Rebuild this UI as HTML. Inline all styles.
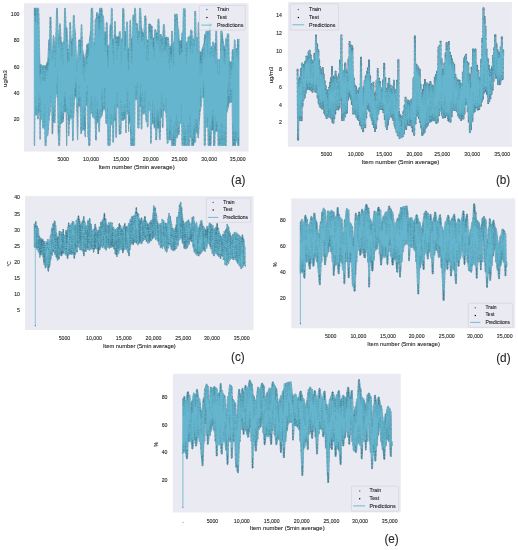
<!DOCTYPE html>
<html><head><meta charset="utf-8"><title>Figure</title>
<style>html,body{margin:0;padding:0;background:#fff}svg{display:block}text{font-family:"Liberation Sans",sans-serif;fill:#262626;stroke:#262626;stroke-width:0.1px}</style>
</head><body>
<svg width="518" height="550" viewBox="0 0 518 550">
<rect width="518" height="550" fill="#fff"/>
<rect x="24" y="3.2" width="224.6" height="148.4" fill="#EAEAF2"/>

<path d="M34.1,8.3 38.6,8.3 39.2,30.0 39.8,64.0 42.6,65.5 45.1,66.0 45.9,66.0 48.0,60.0 48.7,41.0 49.7,38.0 50.0,17.0 50.8,17.0 51.4,45.0 51.8,50.9 52.6,50.9 53.3,36.0 53.4,35.7 53.5,35.4 54.0,38.0 54.6,45.4 55.4,45.4 56.1,30.0 56.6,8.3 57.4,8.3 58.0,37.8 58.8,37.8 59.6,24.0 59.8,23.6 59.9,23.8 60.4,26.0 61.0,41.0 62.4,43.2 63.2,43.2 64.1,40.0 64.6,8.3 65.4,8.3 65.9,26.8 66.9,28.0 67.8,53.0 68.6,53.0 69.4,40.0 69.9,22.5 70.5,22.5 71.2,42.1 72.0,42.1 72.8,38.0 73.4,15.4 74.2,15.4 74.8,29.0 75.4,32.0 76.5,61.8 77.3,61.8 78.3,50.0 78.7,39.9 80.8,39.9 81.3,24.7 81.8,24.7 82.4,48.7 84.5,58.5 85.3,58.5 86.4,50.0 86.9,44.3 88.4,44.0 89.1,43.2 90.6,31.2 91.3,8.3 92.6,8.3 93.1,43.2 93.9,43.2 94.8,40.0 95.3,19.2 96.3,19.2 96.6,12.6 97.7,12.6 98.3,16.0 99.1,16.0 99.6,8.3 101.9,8.3 102.3,15.9 103.5,15.9 104.1,32.3 104.9,32.3 106.0,32.0 106.4,22.5 107.1,22.5 107.6,45.4 109.7,45.4 110.2,24.7 111.0,24.7 111.4,8.3 112.2,8.3 112.7,38.8 113.5,38.8 114.3,38.0 114.8,21.4 115.2,21.4 115.7,36.7 119.0,36.7 119.4,31.7 120.2,31.7 120.7,39.9 121.5,39.9 122.3,38.0 122.7,8.3 123.7,8.3 124.3,30.0 125.4,32.0 126.2,32.0 126.7,21.9 127.5,21.9 128.0,48.7 128.8,48.7 129.6,46.0 130.0,20.3 130.5,20.3 131.0,38.8 131.8,38.8 132.6,36.0 133.0,15.4 134.3,15.4 134.6,8.3 135.5,8.3 135.9,23.6 137.4,23.6 137.9,32.3 138.7,32.3 139.2,30.0 139.5,8.3 140.6,8.3 141.1,21.4 141.8,30.1 143.1,33.4 143.9,33.4 144.9,15.9 145.8,15.9 146.4,39.9 148.4,39.9 148.8,24.1 150.4,24.1 150.9,25.7 152.0,26.0 152.5,37.8 154.4,37.8 154.8,29.6 155.7,29.6 156.2,33.0 157.7,33.0 158.0,19.2 158.9,19.2 159.4,34.5 161.3,34.5 162.0,37.8 162.8,37.8 163.4,24.7 164.4,24.7 164.9,37.8 165.7,37.8 166.5,37.0 166.6,37.0 168.4,37.8 169.0,46.5 171.3,46.5 171.7,31.2 172.3,31.2 172.8,43.2 173.6,43.2 174.3,40.0 174.7,14.3 177.2,14.3 177.8,27.0 178.6,30.0 179.2,41.0 181.5,41.0 182.0,32.3 183.0,32.3 183.4,8.8 185.1,8.8 185.6,42.1 187.8,42.1 188.2,36.7 190.2,36.7 190.7,30.1 191.9,30.1 192.4,38.8 194.3,38.8 194.8,11.5 195.6,11.5 196.1,37.8 198.0,37.8 198.3,22.5 198.7,22.5 199.2,52.0 201.4,52.0 202.9,47.0 204.2,43.0 204.6,34.5 205.7,34.5 206.1,31.2 209.6,31.2 209.9,23.0 210.0,29.0 210.2,46.5 212.3,46.5 212.6,42.1 213.7,42.1 214.2,45.4 215.0,45.4 215.5,45.0 215.8,31.2 216.6,31.2 217.1,59.6 220.4,59.6 220.8,31.2 222.1,31.2 222.6,37.8 224.5,48.7 225.3,48.7 225.7,38.8 227.1,38.8 227.4,33.9 228.7,33.9 229.2,62.0 231.9,62.0 232.3,49.8 234.1,49.8 234.4,39.9 235.0,39.9 235.4,48.7 237.3,48.7 237.6,39.4 239.2,39.4" fill="none" stroke="#1b2a38" stroke-width="1.0" stroke-dasharray="0.6 0.7" stroke-linejoin="round" opacity="0.75"/>
<path d="M34.1,145.5 34.6,145.5 34.8,114.9 37.8,114.9 37.9,119.3 38.0,117.8 38.1,112.7 39.7,112.7 40.1,139.5 40.2,139.5 40.5,119.3 42.3,119.3 42.6,128.0 44.8,128.0 45.1,145.5 46.1,145.5 46.5,135.7 47.8,135.7 48.6,125.0 49.6,114.9 50.2,112.0 50.6,101.8 51.4,101.8 51.9,110.0 52.2,134.0 52.6,134.0 53.0,122.6 55.0,122.6 55.4,100.0 56.1,93.0 56.9,93.0 57.6,100.0 58.2,130.0 58.6,145.5 59.6,145.5 60.1,124.8 61.6,123.0 63.3,121.5 63.8,111.7 66.2,111.7 66.6,145.5 66.7,145.5 67.1,113.8 68.4,113.8 68.7,135.7 68.8,135.7 69.2,125.0 69.9,118.2 72.2,118.2 72.7,140.6 73.1,140.6 73.6,118.0 74.4,100.0 75.3,96.4 76.1,96.4 76.8,100.0 77.2,125.0 77.5,140.0 77.7,140.0 78.1,106.0 80.3,106.0 80.7,130.0 81.1,133.7 81.2,133.9 81.8,130.0 84.7,130.0 85.0,136.8 85.4,136.8 85.8,105.0 87.6,105.0 87.9,136.8 88.4,136.8 88.6,145.5 89.9,145.5 90.3,115.0 91.1,111.7 91.9,111.7 92.8,117.0 95.1,119.3 95.7,140.0 96.3,140.0 96.6,122.6 98.6,122.6 99.0,131.8 99.4,131.8 99.8,119.3 101.9,116.0 102.6,112.0 103.6,108.4 104.4,108.4 105.6,112.0 105.9,123.7 107.6,123.7 107.9,145.5 110.1,145.5 110.4,124.8 112.5,124.8 112.8,142.2 113.5,142.2 113.8,120.4 115.6,120.4 115.9,137.3 116.5,137.3 116.8,107.3 118.8,107.3 119.2,134.0 120.9,134.0 121.2,120.4 123.2,120.4 124.0,119.0 125.6,119.0 125.9,133.0 126.2,113.8 128.3,113.8 128.6,131.3 128.9,122.6 130.4,122.6 130.7,145.5 134.6,145.5 134.9,99.6 137.4,99.6 137.7,128.0 139.0,128.0 139.3,106.0 140.9,106.0 141.2,129.1 141.8,129.1 142.1,113.8 145.7,113.8 146.0,121.5 147.1,121.5 147.4,127.0 148.0,127.0 148.4,110.6 150.3,110.6 150.6,143.3 151.2,143.3 151.5,123.7 154.0,123.7 154.4,128.0 155.6,128.0 155.9,140.0 156.6,140.0 157.0,128.0 159.1,128.0 159.4,139.5 160.2,139.5 160.5,117.0 162.1,117.0 162.4,127.5 162.9,127.5 163.3,113.0 164.2,109.5 165.0,109.5 166.0,113.0 166.7,125.0 167.2,143.3 168.0,143.3 168.4,138.0 169.2,138.0 169.6,140.0 171.3,140.0 171.6,145.5 175.5,145.5 175.8,137.9 177.2,137.9 177.6,134.6 179.1,134.6 179.5,123.7 181.7,123.7 182.0,145.5 189.2,145.5 189.5,137.3 191.0,137.3 191.3,145.5 193.6,145.5 194.0,142.2 195.6,142.2 195.9,132.4 197.6,132.4 198.0,137.9 198.4,137.9 199.1,125.0 200.0,112.0 201.2,106.2 201.8,97.5 203.9,97.5 204.3,145.5 205.3,145.5 205.6,127.0 207.9,127.0 208.2,145.5 211.0,145.5 211.3,130.2 213.4,130.2 213.7,145.5 214.8,145.5 215.1,131.3 217.8,131.3 218.1,145.5 226.2,145.5 226.5,114.0 228.1,108.0 229.1,103.0 231.4,102.0 232.2,102.0 232.6,145.5 235.6,145.5 235.9,141.0 237.4,141.0 237.7,145.5 239.2,145.5" fill="none" stroke="#1b2a38" stroke-width="1.0" stroke-dasharray="0.6 0.7" stroke-linejoin="round" opacity="0.75"/>
<polygon points="34.1,8.3 38.6,8.3 39.2,30.0 39.8,64.0 42.6,65.5 45.1,66.0 45.9,66.0 48.0,60.0 48.7,41.0 49.7,38.0 50.0,17.0 50.8,17.0 51.4,45.0 51.8,50.9 52.6,50.9 53.3,36.0 53.4,35.7 53.5,35.4 54.0,38.0 54.6,45.4 55.4,45.4 56.1,30.0 56.6,8.3 57.4,8.3 58.0,37.8 58.8,37.8 59.6,24.0 59.8,23.6 59.9,23.8 60.4,26.0 61.0,41.0 62.4,43.2 63.2,43.2 64.1,40.0 64.6,8.3 65.4,8.3 65.9,26.8 66.9,28.0 67.8,53.0 68.6,53.0 69.4,40.0 69.9,22.5 70.5,22.5 71.2,42.1 72.0,42.1 72.8,38.0 73.4,15.4 74.2,15.4 74.8,29.0 75.4,32.0 76.5,61.8 77.3,61.8 78.3,50.0 78.7,39.9 80.8,39.9 81.3,24.7 81.8,24.7 82.4,48.7 84.5,58.5 85.3,58.5 86.4,50.0 86.9,44.3 88.4,44.0 89.1,43.2 90.6,31.2 91.3,8.3 92.6,8.3 93.1,43.2 93.9,43.2 94.8,40.0 95.3,19.2 96.3,19.2 96.6,12.6 97.7,12.6 98.3,16.0 99.1,16.0 99.6,8.3 101.9,8.3 102.3,15.9 103.5,15.9 104.1,32.3 104.9,32.3 106.0,32.0 106.4,22.5 107.1,22.5 107.6,45.4 109.7,45.4 110.2,24.7 111.0,24.7 111.4,8.3 112.2,8.3 112.7,38.8 113.5,38.8 114.3,38.0 114.8,21.4 115.2,21.4 115.7,36.7 119.0,36.7 119.4,31.7 120.2,31.7 120.7,39.9 121.5,39.9 122.3,38.0 122.7,8.3 123.7,8.3 124.3,30.0 125.4,32.0 126.2,32.0 126.7,21.9 127.5,21.9 128.0,48.7 128.8,48.7 129.6,46.0 130.0,20.3 130.5,20.3 131.0,38.8 131.8,38.8 132.6,36.0 133.0,15.4 134.3,15.4 134.6,8.3 135.5,8.3 135.9,23.6 137.4,23.6 137.9,32.3 138.7,32.3 139.2,30.0 139.5,8.3 140.6,8.3 141.1,21.4 141.8,30.1 143.1,33.4 143.9,33.4 144.9,15.9 145.8,15.9 146.4,39.9 148.4,39.9 148.8,24.1 150.4,24.1 150.9,25.7 152.0,26.0 152.5,37.8 154.4,37.8 154.8,29.6 155.7,29.6 156.2,33.0 157.7,33.0 158.0,19.2 158.9,19.2 159.4,34.5 161.3,34.5 162.0,37.8 162.8,37.8 163.4,24.7 164.4,24.7 164.9,37.8 165.7,37.8 166.5,37.0 166.6,37.0 168.4,37.8 169.0,46.5 171.3,46.5 171.7,31.2 172.3,31.2 172.8,43.2 173.6,43.2 174.3,40.0 174.7,14.3 177.2,14.3 177.8,27.0 178.6,30.0 179.2,41.0 181.5,41.0 182.0,32.3 183.0,32.3 183.4,8.8 185.1,8.8 185.6,42.1 187.8,42.1 188.2,36.7 190.2,36.7 190.7,30.1 191.9,30.1 192.4,38.8 194.3,38.8 194.8,11.5 195.6,11.5 196.1,37.8 198.0,37.8 198.3,22.5 198.7,22.5 199.2,52.0 201.4,52.0 202.9,47.0 204.2,43.0 204.6,34.5 205.7,34.5 206.1,31.2 209.6,31.2 209.9,23.0 210.0,29.0 210.2,46.5 212.3,46.5 212.6,42.1 213.7,42.1 214.2,45.4 215.0,45.4 215.5,45.0 215.8,31.2 216.6,31.2 217.1,59.6 220.4,59.6 220.8,31.2 222.1,31.2 222.6,37.8 224.5,48.7 225.3,48.7 225.7,38.8 227.1,38.8 227.4,33.9 228.7,33.9 229.2,62.0 231.9,62.0 232.3,49.8 234.1,49.8 234.4,39.9 235.0,39.9 235.4,48.7 237.3,48.7 237.6,39.4 239.2,39.4 239.2,145.5 237.7,145.5 237.4,141.0 235.9,141.0 235.6,145.5 232.6,145.5 232.2,102.0 231.4,102.0 229.1,103.0 228.1,108.0 226.5,114.0 226.2,145.5 218.1,145.5 217.8,131.3 215.1,131.3 214.8,145.5 213.7,145.5 213.4,130.2 211.3,130.2 211.0,145.5 208.2,145.5 207.9,127.0 205.6,127.0 205.3,145.5 204.3,145.5 203.9,97.5 201.8,97.5 201.2,106.2 200.0,112.0 199.1,125.0 198.4,137.9 198.0,137.9 197.6,132.4 195.9,132.4 195.6,142.2 194.0,142.2 193.6,145.5 191.3,145.5 191.0,137.3 189.5,137.3 189.2,145.5 182.0,145.5 181.7,123.7 179.5,123.7 179.1,134.6 177.6,134.6 177.2,137.9 175.8,137.9 175.5,145.5 171.6,145.5 171.3,140.0 169.6,140.0 169.2,138.0 168.4,138.0 168.0,143.3 167.2,143.3 166.7,125.0 166.0,113.0 165.0,109.5 164.2,109.5 163.3,113.0 162.9,127.5 162.4,127.5 162.1,117.0 160.5,117.0 160.2,139.5 159.4,139.5 159.1,128.0 157.0,128.0 156.6,140.0 155.9,140.0 155.6,128.0 154.4,128.0 154.0,123.7 151.5,123.7 151.2,143.3 150.6,143.3 150.3,110.6 148.4,110.6 148.0,127.0 147.4,127.0 147.1,121.5 146.0,121.5 145.7,113.8 142.1,113.8 141.8,129.1 141.2,129.1 140.9,106.0 139.3,106.0 139.0,128.0 137.7,128.0 137.4,99.6 134.9,99.6 134.6,145.5 130.7,145.5 130.4,122.6 128.9,122.6 128.6,131.3 128.3,113.8 126.2,113.8 125.9,133.0 125.6,119.0 124.0,119.0 123.2,120.4 121.2,120.4 120.9,134.0 119.2,134.0 118.8,107.3 116.8,107.3 116.5,137.3 115.9,137.3 115.6,120.4 113.8,120.4 113.5,142.2 112.8,142.2 112.5,124.8 110.4,124.8 110.1,145.5 107.9,145.5 107.6,123.7 105.9,123.7 105.6,112.0 104.4,108.4 103.6,108.4 102.6,112.0 101.9,116.0 99.8,119.3 99.4,131.8 99.0,131.8 98.6,122.6 96.6,122.6 96.3,140.0 95.7,140.0 95.1,119.3 92.8,117.0 91.9,111.7 91.1,111.7 90.3,115.0 89.9,145.5 88.6,145.5 88.4,136.8 87.9,136.8 87.6,105.0 85.8,105.0 85.4,136.8 85.0,136.8 84.7,130.0 81.8,130.0 81.2,133.9 81.1,133.7 80.7,130.0 80.3,106.0 78.1,106.0 77.7,140.0 77.5,140.0 77.2,125.0 76.8,100.0 76.1,96.4 75.3,96.4 74.4,100.0 73.6,118.0 73.1,140.6 72.7,140.6 72.2,118.2 69.9,118.2 69.2,125.0 68.8,135.7 68.7,135.7 68.4,113.8 67.1,113.8 66.7,145.5 66.6,145.5 66.2,111.7 63.8,111.7 63.3,121.5 61.6,123.0 60.1,124.8 59.6,145.5 58.6,145.5 58.2,130.0 57.6,100.0 56.9,93.0 56.1,93.0 55.4,100.0 55.0,122.6 53.0,122.6 52.6,134.0 52.2,134.0 51.9,110.0 51.4,101.8 50.6,101.8 50.2,112.0 49.6,114.9 48.6,125.0 47.8,135.7 46.5,135.7 46.1,145.5 45.1,145.5 44.8,128.0 42.6,128.0 42.3,119.3 40.5,119.3 40.2,139.5 40.1,139.5 39.7,112.7 38.1,112.7 38.0,117.8 37.9,119.3 37.8,114.9 34.8,114.9 34.6,145.5 34.1,145.5" fill="#64B5CD" stroke="#64B5CD" stroke-width="0.5" stroke-linejoin="round"/>
<path d="M34.6 8.6v7.9M34.2 144.4v-11.9M35.5 8.7v13.1M35.6 113.7v-16.9M36.0 114.1v-7.7M37.1 9.2v16.1M36.8 114.3v-6.2M37.8 9.9v13.6M37.9 118.1v-9.6M39.0 14.1v10.5M38.5 111.6v-19.4M39.5 54.1v21.6M39.6 111.0v-16.0M40.2 65.8v17.6M40.6 122.0v-23.9M41.1 65.1v8.2M41.1 118.4v-7.5M42.2 67.0v13.5M42.9 67.4v12.9M43.9 66.4v14.2M43.8 126.8v-13.0M44.8 67.3v14.8M44.9 126.2v-22.1M45.3 67.3v12.6M45.4 145.0v-6.3M46.3 64.8v6.9M47.0 63.9v11.9M48.0 59.0v11.5M48.4 130.5v-5.4M49.2 41.7v23.6M48.8 119.9v-12.0M50.1 32.7v20.4M50.7 17.8v9.3M50.5 101.1v-5.5M52.2 51.5v9.2M52.6 132.3v-16.9M53.4 39.7v17.6M53.0 121.0v-14.1M54.3 40.1v12.6M53.8 120.8v-7.4M55.2 46.8v20.7M54.7 122.4v-15.4M56.0 38.7v15.0M56.5 8.9v9.8M56.6 92.6v-9.9M57.5 12.6v13.7M57.5 97.3v-22.4M58.5 38.3v5.1M58.3 133.1v-18.8M59.0 32.5v15.6M59.2 143.9v-14.6M60.0 25.4v16.6M60.0 127.9v-13.6M61.1 37.9v21.7M61.1 123.5v-22.9M61.8 43.7v6.4M62.8 43.8v21.8M63.4 118.7v-13.2M64.2 30.7v15.5M64.3 111.4v-16.9M64.9 9.0v23.5M65.0 111.3v-19.8M66.2 28.1v7.8M65.7 110.3v-6.7M66.6 29.6v20.2M66.8 136.8v-21.4M67.5 49.2v15.0M67.5 113.0v-6.0M68.4 53.2v8.4M68.6 119.9v-5.3M69.3 41.9v20.6M70.3 116.9v-20.8M71.2 38.6v6.3M71.3 116.4v-6.6M71.7 43.1v13.7M72.2 117.0v-23.3M72.7 39.3v5.0M72.8 140.4v-8.8M73.5 16.0v5.4M73.8 116.6v-15.1M74.7 99.3v-11.2M75.5 33.3v5.8M75.5 95.9v-18.9M76.7 62.2v9.4M77.2 111.3v-7.0M78.0 56.9v5.1M77.9 126.9v-15.2M78.6 41.4v6.4M79.0 104.9v-19.1M79.6 40.2v16.7M79.7 105.3v-9.8M80.5 41.3v17.8M80.4 111.0v-14.8M81.9 128.1v-10.1M82.7 52.9v23.1M83.1 129.4v-21.9M83.5 56.3v5.5M83.6 129.2v-10.7M84.4 60.4v20.9M84.5 129.1v-22.1M85.4 57.2v13.1M85.4 127.0v-20.9M86.6 52.2v12.1M86.9 45.8v18.7M87.3 104.3v-19.3M87.9 45.6v11.5M88.7 43.9v12.5M88.9 144.9v-22.2M89.6 145.1v-7.7M90.8 32.7v15.8M90.6 112.9v-12.9M91.5 109.9v-14.6M92.6 10.0v13.5M92.9 116.4v-16.2M94.6 39.1v7.1M95.0 117.7v-22.9M95.4 20.8v15.5M95.8 139.3v-22.5M96.3 14.8v7.1M96.4 124.2v-12.4M97.4 122.0v-21.8M98.2 17.1v5.4M98.4 120.7v-9.9M98.9 17.6v18.0M98.9 129.9v-14.6M99.8 10.2v19.4M99.8 118.1v-8.6M101.1 8.8v9.0M100.7 115.9v-6.1M101.9 9.1v24.0M101.8 116.1v-22.8M102.2 16.6v8.2M102.3 110.6v-23.2M103.3 108.4v-5.9M104.4 32.6v11.9M104.4 108.1v-20.4M105.3 33.1v19.2M105.1 109.7v-23.2M105.6 33.6v10.2M107.0 24.4v14.0M106.7 122.6v-9.8M107.7 47.1v20.2M107.5 122.9v-16.5M108.3 45.7v19.3M108.3 143.5v-15.5M109.1 144.4v-6.6M110.1 28.1v9.4M110.4 140.7v-19.2M111.1 25.3v12.1M110.8 123.0v-9.7M112.0 123.4v-9.4M112.9 40.5v14.0M113.6 40.6v23.5M113.5 137.9v-21.5M114.5 119.8v-16.3M115.3 23.5v16.4M115.4 119.9v-11.2M115.9 37.6v6.2M115.9 136.8v-17.1M116.8 37.9v23.1M117.2 105.3v-12.9M118.0 37.7v5.1M118.7 38.1v5.3M119.4 32.8v7.8M120.6 132.0v-7.4M121.3 41.6v22.2M121.0 119.5v-19.9M122.0 119.3v-9.1M122.6 9.5v22.0M123.1 120.0v-5.7M123.8 11.1v13.0M123.7 119.2v-13.5M124.6 31.1v19.8M124.4 118.0v-7.0M125.2 33.5v17.1M125.2 117.9v-14.7M127.1 111.9v-23.7M128.3 49.0v20.0M127.8 112.0v-19.4M128.7 49.2v22.5M128.6 123.5v-11.1M129.5 121.4v-19.9M130.8 22.5v16.0M131.4 39.6v23.8M131.2 144.0v-13.4M132.3 38.6v23.7M132.0 145.0v-5.0M133.2 145.3v-9.3M134.0 16.7v9.3M133.9 145.1v-16.9M134.6 9.6v7.8M135.4 15.4v10.0M135.7 98.6v-11.7M136.7 23.9v9.7M136.3 99.3v-12.7M137.6 24.1v15.5M137.4 98.2v-16.6M138.1 32.6v10.9M139.3 32.2v5.1M139.0 123.7v-19.1M140.0 10.0v19.2M139.9 105.0v-10.1M140.8 14.2v10.0M140.5 105.3v-21.7M141.8 28.4v11.2M141.7 127.7v-22.2M142.4 112.3v-21.3M143.5 33.9v6.5M143.6 113.0v-7.0M144.3 30.6v17.0M144.1 112.1v-16.2M145.2 111.9v-21.5M146.0 19.2v21.1M146.5 40.7v19.4M146.6 120.8v-5.4M147.8 41.0v11.1M148.3 41.4v19.7M148.6 110.2v-9.1M149.1 25.7v5.0M150.1 24.9v8.5M150.9 26.1v18.3M151.1 141.8v-6.5M151.7 26.9v11.8M152.9 38.9v10.0M152.5 122.7v-21.8M153.4 38.3v11.6M154.4 38.2v19.7M154.2 126.9v-21.8M155.0 30.4v8.0M155.1 127.5v-8.1M156.3 32.4v6.9M156.2 138.5v-23.7M156.8 33.3v8.9M157.0 129.9v-20.0M157.9 32.5v12.7M157.9 127.0v-15.9M158.8 20.6v18.3M158.5 126.7v-13.6M159.3 35.5v17.0M159.4 138.1v-16.8M160.5 35.4v17.4M160.0 130.8v-23.5M161.2 35.7v6.9M161.2 115.3v-14.7M161.9 39.4v18.0M161.9 116.7v-23.7M163.0 37.5v13.0M163.0 125.6v-9.3M163.5 26.3v9.0M164.5 30.0v23.3M165.4 38.2v10.6M166.2 37.8v9.8M166.1 116.6v-18.7M167.0 39.1v17.5M168.1 38.9v7.7M168.2 141.9v-5.2M168.7 44.1v19.7M169.7 48.1v21.9M169.8 138.3v-22.0M170.7 47.7v13.3M170.3 138.9v-9.4M171.4 46.3v14.5M171.3 139.7v-21.0M171.9 32.5v23.3M172.3 144.1v-5.5M173.1 44.3v23.7M173.8 42.9v21.4M173.7 144.5v-19.6M174.7 15.4v20.7M175.0 144.1v-14.6M175.5 15.6v11.0M175.3 141.5v-19.9M176.3 14.5v5.9M176.5 136.5v-22.5M177.4 135.6v-16.7M178.3 28.7v13.7M178.3 132.8v-5.7M178.9 38.1v15.7M179.0 133.2v-11.1M179.6 41.4v15.8M180.8 42.9v12.4M181.3 40.4v9.0M181.3 121.8v-18.0M182.2 33.8v18.7M182.6 144.0v-6.0M183.3 19.1v6.6M183.1 143.6v-22.7M184.2 10.5v5.3M184.2 145.0v-10.9M184.9 10.0v6.1M184.7 143.9v-17.9M186.0 44.0v12.3M185.7 145.2v-15.8M186.5 43.4v20.7M187.5 43.9v10.9M187.6 143.7v-18.0M188.2 37.7v5.0M188.6 145.2v-20.5M190.0 136.9v-22.4M190.7 31.4v22.7M190.7 136.6v-13.8M191.5 31.8v13.7M191.8 143.7v-9.4M192.7 39.3v14.1M192.7 144.6v-8.4M193.7 39.7v5.8M193.6 145.0v-17.0M194.6 40.6v5.6M194.2 140.6v-15.8M195.7 33.7v6.6M196.8 38.2v16.4M197.7 133.3v-12.5M198.4 134.3v-5.7M200.0 52.5v23.7M200.4 110.1v-22.8M200.9 53.1v9.9M200.9 105.3v-9.5M201.8 52.0v22.6M202.6 49.2v13.5M203.4 96.9v-16.9M204.4 37.6v21.5M204.7 144.7v-10.2M205.1 140.6v-23.6M206.0 32.1v9.9M207.3 126.7v-10.5M207.6 32.9v23.6M207.6 125.3v-7.7M208.5 145.0v-15.9M209.3 31.6v8.7M209.5 144.9v-14.4M210.2 48.0v8.8M210.2 143.8v-18.7M211.5 47.6v5.3M212.1 47.8v8.1M212.1 129.1v-14.9M212.9 128.6v-18.5M213.9 44.3v14.8M213.7 145.0v-23.4M214.8 46.0v6.8M214.7 144.4v-16.4M215.7 43.0v21.5M215.6 130.6v-14.4M216.2 32.4v21.4M216.6 129.4v-8.1M217.5 61.2v12.5M217.2 130.3v-9.6M219.2 143.6v-14.8M219.5 60.6v15.1M219.6 143.6v-5.4M220.9 143.7v-20.4M221.5 33.1v10.2M221.5 144.5v-9.8M222.4 34.9v10.8M222.4 144.8v-23.2M223.1 42.2v7.5M223.0 144.3v-9.6M224.1 46.7v15.8M224.1 144.2v-13.8M224.8 50.0v14.7M225.1 144.9v-11.7M225.5 145.2v-19.7M226.5 39.8v6.2M226.4 111.7v-7.1M227.4 35.3v11.4M227.6 109.3v-21.1M228.3 35.5v19.4M228.1 105.2v-22.4M229.2 60.1v23.3M229.2 102.1v-21.6M230.0 62.9v12.4M230.2 101.5v-20.0M230.9 62.4v15.9M231.9 101.8v-13.1M232.8 138.9v-15.2M233.3 51.7v16.3M233.2 144.6v-15.0M235.3 145.0v-15.1M236.2 50.1v7.1M236.7 139.9v-8.0M237.6 41.4v16.5M237.6 143.1v-5.8M238.6 40.8v21.0M238.5 144.8v-14.5" stroke="#173345" stroke-width="0.55" stroke-dasharray="1.1 0.9 0.6 1.3 1.7 0.8" opacity="0.25" fill="none"/>
<path d="M34.5 8.5v6.9M35.4 8.5v13.7M37.1 8.5v6.8M38.8 112.5v-9.9M40.5 64.5v9.9M43.0 65.8v3.7M45.6 66.2v2.2M46.4 64.8v3.4M47.3 62.3v7.5M48.1 57.5v8.3M49.0 40.4v11.2M50.7 17.2v13.5M52.4 133.8v-9.7M53.2 122.4v-11.5M57.5 11.0v1.7M58.3 133.7v-8.4M60.9 37.4v7.0M61.7 122.7v-10.5M62.6 122.0v-7.6M63.4 119.3v-5.5M65.1 111.5v-12.9M66.0 111.5v-2.4M66.8 28.1v13.1M67.7 49.0v11.0M68.5 120.9v-7.4M69.4 123.3v-7.8M70.2 22.7v5.8M71.1 38.1v5.0M71.9 42.3v13.6M72.8 38.5v2.6M75.3 96.2v-7.8M76.2 96.5v-12.7M77.0 112.3v-9.3M78.7 105.8v-7.5M79.6 40.1v1.7M80.4 40.1v12.7M81.3 133.4v-7.2M82.1 36.9v8.8M83.8 55.4v12.0M84.7 129.8v-14.0M85.5 128.7v-4.8M86.4 104.8v-12.9M87.2 44.4v13.1M88.1 44.3v9.7M89.8 38.2v2.6M90.6 31.4v2.3M91.5 8.5v4.9M92.3 113.9v-1.9M95.7 139.8v-4.6M96.6 13.9v5.3M97.4 122.4v-13.5M98.3 15.9v1.9M99.1 16.2v11.8M100.0 8.5v13.4M101.7 8.5v6.2M102.5 112.4v-6.0M104.2 108.2v-2.3M105.9 32.2v13.3M107.6 45.6v11.3M110.2 27.0v12.0M111.0 24.9v5.6M112.7 39.0v5.2M114.4 34.9v3.3M115.3 120.2v-4.0M116.1 36.9v6.6M117.0 107.1v-4.0M117.8 36.9v12.5M118.7 36.9v9.3M119.5 133.8v-7.6M120.4 133.8v-2.2M122.1 38.8v3.0M122.9 120.2v-8.4M123.8 10.3v7.6M124.6 118.8v-7.0M125.5 32.2v13.4M128.0 48.9v11.7M128.9 123.9v-13.2M129.7 122.4v-6.0M130.6 133.8v-6.4M131.4 39.0v11.7M132.3 145.3v-6.9M133.1 15.6v5.9M139.1 30.9v4.4M140.8 105.8v-10.8M141.6 27.8v13.7M142.5 31.9v5.3M143.3 33.6v1.9M145.0 16.1v4.1M145.9 18.1v5.1M147.6 40.1v1.9M149.3 24.3v7.6M150.1 24.3v13.3M151.8 26.1v12.6M152.7 123.5v-10.9M153.5 38.0v10.8M154.4 127.3v-10.3M156.1 139.8v-4.0M156.9 33.2v7.3M157.8 127.8v-10.5M158.6 127.8v-6.7M160.3 131.8v-11.3M161.2 116.8v-6.6M162.0 38.0v6.5M162.9 127.3v-4.2M163.7 111.2v-7.4M165.4 38.0v12.1M166.3 37.4v7.5M167.1 139.4v-11.8M168.0 37.8v2.8M169.7 139.8v-10.2M170.5 46.7v7.3M171.4 44.8v12.0M173.1 145.3v-10.5M173.9 145.3v-8.4M177.3 16.6v10.0M178.2 134.4v-6.1M179.9 41.2v13.0M180.7 41.2v6.7M181.6 40.3v12.4M185.0 145.3v-9.6M189.2 145.3v-4.9M190.1 36.9v11.5M192.6 145.3v-6.5M193.5 145.3v-5.8M194.3 142.0v-13.3M195.2 11.7v2.0M196.0 132.2v-13.3M196.9 132.2v-8.6M199.4 120.5v-11.3M200.3 52.2v11.0M201.1 52.2v10.5M202.8 47.5v7.2M203.7 97.3v-10.4M204.5 36.8v7.6M205.4 34.7v4.1M207.9 31.4v3.8M209.6 145.3v-10.3M210.5 145.3v-12.0M211.3 130.0v-3.8M212.2 130.0v-10.4M213.0 130.0v-12.4M213.9 145.3v-4.6M215.6 42.9v6.6M216.4 131.1v-6.8M219.0 145.3v-6.8M220.7 42.1v9.5M222.4 34.7v8.2M224.1 46.3v5.4M224.9 48.9v7.6M228.3 106.8v-11.1M229.2 102.8v-7.2M230.0 62.2v3.8M230.9 102.0v-12.0M231.7 62.2v8.6M232.6 50.0v10.1M233.4 145.3v-8.5M234.3 145.3v-7.0M235.1 145.3v-13.7M236.8 48.9v3.9M237.7 39.6v10.1M238.5 145.3v-8.1" stroke="#1f3a47" stroke-width="0.55" stroke-dasharray="0.7 0.7" opacity="0.6" fill="none"/>

<text x="63.2" y="161.2" font-size="5.2" text-anchor="middle">5000</text>
<text x="91.0" y="161.2" font-size="5.2" text-anchor="middle">10,000</text>
<text x="121.1" y="161.2" font-size="5.2" text-anchor="middle">15,000</text>
<text x="150.8" y="161.2" font-size="5.2" text-anchor="middle">20,000</text>
<text x="179.5" y="161.2" font-size="5.2" text-anchor="middle">25,000</text>
<text x="209.2" y="161.2" font-size="5.2" text-anchor="middle">30,000</text>
<text x="237.7" y="161.2" font-size="5.2" text-anchor="middle">35,000</text>
<text x="19.5" y="121.2" font-size="5.2" text-anchor="end">20</text>
<text x="19.5" y="94.8" font-size="5.2" text-anchor="end">40</text>
<text x="19.5" y="68.5" font-size="5.2" text-anchor="end">60</text>
<text x="19.5" y="42.2" font-size="5.2" text-anchor="end">80</text>
<text x="19.5" y="15.9" font-size="5.2" text-anchor="end">100</text>
<text x="6.9" y="78.6" font-size="6.0" text-anchor="middle" transform="rotate(-90 6.9 78.6)">ug/m3</text>
<text x="136.6" y="168.7" font-size="6.05" text-anchor="middle">Item number (5min average)</text>
<text transform="translate(245.5 184.2) scale(1 1.08)" font-size="11.8" text-anchor="end">(a)</text>
<rect x="199.4" y="5.4" width="45.8" height="24.7" rx="1.2" fill="#EAEAF2" fill-opacity="0.8" stroke="#cfcfd6" stroke-width="0.6"/><circle cx="206.9" cy="9.4" r="0.75" fill="#4C72B0"/><circle cx="206.9" cy="17.6" r="0.75" fill="#111"/><line x1="201.3" x2="212" y1="25.1" y2="25.1" stroke="#64B5CD" stroke-width="0.9"/><text x="217" y="11" font-size="5.35">Train</text><text x="217" y="18.8" font-size="5.35">Test</text><text x="217" y="27" font-size="5.35">Predictions</text>
<rect x="287.9" y="2" width="224.0" height="144.8" fill="#EAEAF2"/>

<path d="M297.5,69.0 298.1,140.4 298.8,80.0 299.3,120.8 299.9,77.6 300.4,119.7 300.9,69.3 301.5,120.9 302.0,62.6 302.5,106.7 303.0,63.9 303.5,99.8 304.0,65.0 304.6,97.6 305.2,61.3 305.8,93.6 306.4,56.0 306.9,89.0 307.5,55.8 308.0,89.6 308.5,52.5 309.1,89.2 309.6,50.7 310.2,87.8 310.7,55.6 311.2,90.9 311.8,60.4 312.5,91.7 313.1,60.7 313.8,90.0 314.4,54.0 315.2,91.6 316.0,35.6 316.6,91.6 317.1,44.6 317.7,98.5 318.3,49.6 318.7,102.7 319.1,59.5 319.6,106.6 320.0,67.0 320.6,107.2 321.3,68.8 322.0,108.5 322.6,68.0 323.1,107.5 323.7,74.5 324.2,112.4 324.7,81.3 325.3,115.6 325.8,86.4 326.4,117.7 326.9,90.2 327.4,117.4 328.0,93.0 328.5,114.6 329.0,88.0 329.5,116.6 330.0,82.0 330.5,116.8 331.0,77.4 331.5,119.1 332.0,67.0 332.4,121.8 332.9,75.6 333.4,122.8 333.8,82.0 334.2,119.1 334.7,76.7 335.2,114.3 335.6,71.0 336.1,109.3 336.6,77.0 337.2,108.1 337.7,82.0 338.3,109.4 338.9,74.3 339.4,108.4 340.0,60.4 340.7,101.1 341.4,35.6 342.2,120.0 343.0,71.0 343.6,120.6 344.1,70.1 344.7,117.2 345.3,62.6 345.9,114.0 346.4,69.4 346.9,112.6 347.5,75.6 348.0,99.8 348.6,59.6 349.1,91.9 349.6,42.0 350.1,97.5 350.5,47.5 351.0,99.2 351.5,45.0 351.9,104.1 352.4,46.4 353.2,113.4 354.0,77.7 354.5,113.7 355.1,84.9 355.6,114.9 356.1,87.2 356.7,117.8 357.2,90.7 357.8,119.7 358.3,94.2 358.8,120.0 359.4,88.5 360.2,124.8 361.0,57.0 361.8,128.7 362.6,88.5 363.1,131.8 363.7,86.3 364.2,126.1 364.7,80.7 365.3,127.2 365.8,75.6 366.3,118.2 366.9,72.0 367.4,109.2 367.9,67.6 368.5,109.6 369.0,60.4 369.6,111.8 370.1,75.5 370.6,117.4 371.2,84.0 371.8,120.6 372.3,84.1 372.8,124.0 373.4,82.0 373.9,127.0 374.5,99.0 375.0,130.9 375.6,93.1 376.1,128.0 376.6,80.3 377.2,120.3 377.7,69.0 378.3,113.5 378.9,77.9 379.4,110.0 380.0,82.0 380.5,108.6 381.0,88.2 381.5,108.9 382.0,88.5 382.6,110.1 383.1,79.6 383.6,112.9 384.2,63.7 384.8,119.3 385.3,77.9 385.8,126.9 386.4,90.7 386.9,129.1 387.3,88.4 387.8,124.8 388.3,83.1 388.7,119.8 389.2,78.8 389.9,116.4 390.5,84.8 391.1,115.4 391.8,88.5 392.4,117.7 392.9,85.8 393.4,120.0 394.0,80.0 394.5,124.8 395.0,89.9 395.5,128.6 396.0,93.0 396.6,132.7 397.2,79.8 397.8,135.9 398.4,59.4 398.7,134.9 399.0,112.0 399.6,138.7 400.1,114.3 400.6,136.7 401.2,119.6 401.8,137.7 402.3,116.6 402.9,136.1 403.4,110.6 404.0,134.2 404.5,104.6 405.1,129.5 405.6,97.0 406.1,128.9 406.7,102.3 407.2,125.7 407.7,100.5 408.3,123.7 408.8,101.5 409.3,125.0 409.9,101.0 410.4,123.3 410.9,100.6 411.5,126.6 412.0,99.4 412.8,132.2 413.6,77.7 414.2,134.7 414.9,35.6 415.6,124.1 416.4,64.8 416.9,116.4 417.5,66.5 418.0,115.5 418.5,68.2 419.1,119.0 419.6,69.0 420.2,123.1 420.7,83.9 421.2,128.3 421.8,93.0 422.3,135.1 422.9,89.7 423.4,134.3 423.9,84.5 424.5,132.6 425.0,80.0 425.6,128.6 426.1,83.7 426.6,126.5 427.2,83.4 427.8,125.6 428.3,84.0 428.8,122.2 429.4,86.8 429.9,122.4 430.4,82.0 430.9,121.2 431.5,84.4 432.1,121.1 432.6,86.4 433.2,120.5 433.7,85.4 434.2,120.9 434.8,77.7 435.4,121.3 435.9,75.1 436.4,122.9 437.0,71.0 437.8,122.6 438.6,47.5 439.1,114.9 439.6,46.0 440.1,111.4 440.6,41.0 441.0,110.3 441.5,58.4 441.9,115.5 442.3,71.0 442.9,118.3 443.4,68.9 443.9,116.7 444.5,62.6 445.0,117.3 445.6,53.4 446.1,114.5 446.6,43.0 447.2,115.8 447.7,44.9 448.2,119.9 448.8,42.0 449.4,121.3 449.9,52.0 450.4,122.5 451.0,56.0 451.5,117.0 452.1,59.5 452.6,110.7 453.1,62.1 453.7,109.2 454.2,64.8 454.8,109.9 455.3,74.1 455.8,109.7 456.4,77.7 456.9,112.0 457.5,81.5 458.0,115.8 458.5,79.7 459.1,117.7 459.6,80.0 460.2,119.0 460.7,82.7 461.2,120.0 461.8,84.0 462.4,117.2 462.9,72.5 463.4,118.4 464.0,58.0 464.5,113.3 465.0,56.4 465.5,104.9 466.0,54.0 466.6,104.6 467.1,61.9 467.7,111.9 468.3,62.6 468.8,122.5 469.4,73.6 469.9,132.7 470.4,82.0 471.0,130.1 471.7,67.0 472.4,121.7 473.0,48.5 473.6,113.2 474.2,49.9 474.8,110.9 475.4,49.6 476.2,108.2 477.0,64.8 477.7,110.3 478.4,71.0 479.2,108.9 480.0,77.7 480.6,106.5 481.1,60.1 481.7,101.5 482.3,38.8 482.9,99.4 483.5,7.5 484.0,93.4 484.6,17.1 485.1,89.4 485.6,26.0 486.1,91.4 486.6,49.6 487.2,94.8 487.7,58.4 488.2,102.9 488.8,64.8 489.4,100.8 489.9,69.7 490.4,99.1 491.0,73.4 491.5,93.7 492.0,67.3 492.5,90.1 493.0,56.0 493.6,80.7 494.1,48.3 494.7,73.1 495.3,34.5 495.9,77.7 496.4,43.4 496.9,78.6 497.5,49.6 498.0,83.9 498.6,52.9 499.1,84.8 499.6,54.0 500.2,83.8 500.7,46.7 501.2,80.6 501.8,36.6 502.6,78.9 503.3,49.6" fill="none" stroke="#1b2a38" stroke-width="2.0" stroke-dasharray="0.6 0.7" stroke-linejoin="round" opacity="0.8"/>
<polygon points="297.5,79.9 298.0,81.1 298.5,83.7 299.0,84.4 299.5,82.0 300.0,79.7 300.5,77.2 301.0,74.5 301.5,72.4 302.0,70.7 302.5,69.4 303.0,68.7 303.5,69.0 304.0,69.3 304.5,67.5 305.0,65.7 305.5,63.9 306.0,62.2 306.5,60.8 307.0,59.8 307.5,58.9 308.0,58.1 308.5,57.4 309.0,57.1 309.5,57.3 310.0,58.1 310.5,59.4 311.0,61.3 311.5,63.3 312.0,64.1 312.5,63.1 313.0,62.0 313.5,60.9 314.0,59.8 314.5,57.9 315.0,52.9 315.5,49.3 316.0,47.4 316.5,47.2 317.0,48.6 317.5,51.6 318.0,55.0 318.5,58.8 319.0,62.9 319.5,67.5 320.0,72.1 320.5,72.5 321.0,72.8 321.5,73.0 322.0,73.6 322.5,74.6 323.0,76.1 323.5,78.0 324.0,80.6 324.5,83.2 325.0,85.9 325.5,88.6 326.0,90.8 326.5,92.2 327.0,93.6 327.5,95.0 328.0,96.3 328.5,93.8 329.0,91.4 329.5,88.9 330.0,86.5 330.5,83.4 331.0,80.2 331.5,78.5 332.0,78.1 332.5,79.0 333.0,81.3 333.5,84.8 334.0,85.7 334.5,82.8 335.0,80.5 335.5,79.2 336.0,79.3 336.5,80.4 337.0,82.4 337.5,84.7 338.0,83.2 338.5,78.9 339.0,74.6 339.5,70.3 340.0,65.8 340.5,57.6 341.0,54.3 341.5,55.1 342.0,59.3 342.5,66.8 343.0,76.9 343.5,75.6 344.0,74.1 344.5,72.8 345.0,72.3 345.5,72.5 346.0,73.4 346.5,75.1 347.0,77.1 347.5,79.1 348.0,71.5 348.5,63.9 349.0,58.4 349.5,54.3 350.0,51.8 350.5,50.8 351.0,51.4 351.5,52.5 352.0,55.4 352.5,59.9 353.0,65.9 353.5,73.5 354.0,82.3 354.5,84.3 355.0,86.2 355.5,88.0 356.0,89.9 356.5,91.8 357.0,93.6 357.5,94.1 358.0,93.8 358.5,93.4 359.0,93.1 359.5,91.1 360.0,82.6 360.5,77.6 361.0,76.2 361.5,78.1 362.0,83.5 362.5,92.2 363.0,92.5 363.5,90.7 364.0,88.8 364.5,86.8 365.0,84.8 365.5,82.6 366.0,80.3 366.5,77.7 367.0,75.1 367.5,73.1 368.0,71.2 368.5,70.6 369.0,71.3 369.5,73.3 370.0,76.8 370.5,81.7 371.0,86.6 371.5,88.4 372.0,88.3 372.5,88.4 373.0,89.9 373.5,92.8 374.0,96.0 374.5,102.9 375.0,98.9 375.5,94.7 376.0,90.4 376.5,86.0 377.0,82.2 377.5,79.6 378.0,78.7 378.5,79.2 379.0,81.0 379.5,83.3 380.0,85.6 380.5,86.9 381.0,88.2 381.5,89.8 382.0,91.3 382.5,86.5 383.0,81.8 383.5,78.2 384.0,76.7 384.5,77.4 385.0,80.3 385.5,85.2 386.0,90.8 386.5,94.9 387.0,93.1 387.5,91.1 388.0,89.0 388.5,87.2 389.0,86.1 389.5,85.7 390.0,86.4 390.5,87.8 391.0,89.5 391.5,91.2 392.0,91.6 392.5,90.0 393.0,88.5 393.5,87.9 394.0,88.2 394.5,89.5 395.0,91.7 395.5,94.7 396.0,97.7 396.5,91.9 397.0,86.0 397.5,81.9 398.0,86.5 398.5,92.5 399.0,115.3 399.5,116.0 400.0,116.7 400.5,117.4 401.0,118.0 401.5,118.5 402.0,119.0 402.5,118.2 403.0,115.5 403.5,112.7 404.0,110.0 404.5,107.2 405.0,105.0 405.5,103.4 406.0,102.5 406.5,102.2 407.0,102.5 407.5,103.0 408.0,103.6 408.5,104.3 409.0,104.6 409.5,104.3 410.0,104.1 410.5,103.9 411.0,103.6 411.5,103.6 412.0,103.5 412.5,97.8 413.0,92.0 413.5,86.0 414.0,73.4 414.5,65.0 415.0,60.7 415.5,60.2 416.0,64.9 416.5,71.4 417.0,72.1 417.5,72.8 418.0,73.5 418.5,74.2 419.0,75.6 419.5,77.8 420.0,81.0 420.5,85.0 421.0,89.9 421.5,94.9 422.0,97.3 422.5,95.7 423.0,94.1 423.5,92.3 424.0,90.4 424.5,88.9 425.0,87.9 425.5,87.3 426.0,87.2 426.5,87.7 427.0,88.1 427.5,88.6 428.0,89.0 428.5,89.1 429.0,88.6 429.5,88.1 430.0,88.0 430.5,88.1 431.0,88.4 431.5,89.1 432.0,89.9 432.5,90.7 433.0,89.5 433.5,87.9 434.0,86.2 434.5,84.6 435.0,83.1 435.5,81.7 436.0,80.4 436.5,79.0 437.0,77.6 437.5,71.0 438.0,65.2 438.5,60.3 439.0,56.5 439.5,53.6 440.0,53.1 440.5,55.1 441.0,59.0 441.5,64.3 442.0,72.1 442.5,76.2 443.0,74.7 443.5,73.1 444.0,71.4 444.5,69.7 445.0,65.6 445.5,61.4 446.0,57.9 446.5,55.1 447.0,53.3 447.5,52.4 448.0,52.4 448.5,53.2 449.0,54.6 449.5,56.5 450.0,58.9 450.5,61.5 451.0,64.1 451.5,64.9 452.0,65.8 452.5,66.7 453.0,67.5 453.5,69.0 454.0,70.7 454.5,72.7 455.0,74.9 455.5,77.4 456.0,80.1 456.5,82.2 457.0,82.7 457.5,83.2 458.0,83.6 458.5,84.1 459.0,84.6 459.5,85.2 460.0,85.8 460.5,86.6 461.0,87.4 461.5,88.2 462.0,86.7 462.5,81.4 463.0,76.1 463.5,71.6 464.0,67.8 464.5,64.7 465.0,62.5 465.5,61.7 466.0,61.4 466.5,62.5 467.0,64.0 467.5,66.3 468.0,69.0 468.5,72.2 469.0,76.1 469.5,80.3 470.0,84.6 470.5,86.8 471.0,81.1 471.5,75.1 472.0,68.9 472.5,64.0 473.0,60.5 473.5,58.2 474.0,57.1 474.5,57.3 475.0,58.3 475.5,60.1 476.0,62.8 476.5,66.4 477.0,70.6 477.5,72.5 478.0,74.5 478.5,76.4 479.0,78.2 479.5,79.9 480.0,81.6 480.5,74.0 481.0,66.4 481.5,58.8 482.0,51.2 482.5,42.0 483.0,33.0 483.5,27.9 484.0,25.4 484.5,26.0 485.0,30.9 485.5,37.1 486.0,43.5 486.5,53.2 487.0,57.9 487.5,61.2 488.0,64.5 488.5,67.7 489.0,70.2 489.5,71.8 490.0,73.3 490.5,74.7 491.0,76.2 491.5,72.1 492.0,67.9 492.5,63.6 493.0,59.3 493.5,54.7 494.0,50.1 494.5,46.4 495.0,44.5 495.5,44.1 496.0,45.0 496.5,47.3 497.0,50.5 497.5,53.7 498.0,54.9 498.5,55.9 499.0,56.9 499.5,57.8 500.0,55.2 500.5,51.6 501.0,48.5 501.5,46.9 502.0,46.7 502.5,47.1 503.0,50.4 503.0,69.4 502.5,71.5 502.0,73.3 501.5,75.1 501.0,76.7 500.5,78.3 500.0,79.8 499.5,80.7 499.0,80.6 498.5,79.9 498.0,78.8 497.5,77.2 497.0,75.3 496.5,73.4 496.0,71.8 495.5,70.3 495.0,69.1 494.5,68.1 494.0,69.4 493.5,73.9 493.0,78.4 492.5,82.4 492.0,86.0 491.5,89.2 491.0,92.0 490.5,93.5 490.0,95.0 489.5,96.1 489.0,96.3 488.5,95.7 488.0,94.2 487.5,92.0 487.0,89.4 486.5,87.0 486.0,85.0 485.5,83.6 485.0,82.2 484.5,81.0 484.0,82.6 483.5,84.7 483.0,87.1 482.5,90.1 482.0,93.0 481.5,95.7 481.0,98.4 480.5,101.0 480.0,103.6 479.5,104.5 479.0,105.0 478.5,105.1 478.0,104.8 477.5,104.1 477.0,103.4 476.5,102.3 476.0,101.4 475.5,101.4 475.0,102.0 474.5,102.7 474.0,103.5 473.5,104.5 473.0,105.7 472.5,107.7 472.0,112.0 471.5,116.4 471.0,119.7 470.5,121.5 470.0,120.7 469.5,118.0 469.0,114.0 468.5,109.7 468.0,106.0 467.5,102.8 467.0,99.7 466.5,96.7 466.0,93.7 465.5,96.7 465.0,99.8 464.5,103.1 464.0,106.5 463.5,109.5 463.0,112.0 462.5,114.0 462.0,115.2 461.5,115.3 461.0,114.9 460.5,114.5 460.0,113.9 459.5,113.3 459.0,112.5 458.5,111.6 458.0,110.6 457.5,109.7 457.0,108.7 456.5,107.7 456.0,106.8 455.5,105.9 455.0,105.1 454.5,104.2 454.0,103.4 453.5,102.7 453.0,102.0 452.5,104.0 452.0,105.9 451.5,107.9 451.0,109.9 450.5,111.0 450.0,111.5 449.5,111.4 449.0,110.7 448.5,109.4 448.0,108.2 447.5,107.1 447.0,106.2 446.5,105.7 446.0,106.7 445.5,107.8 445.0,109.0 444.5,110.2 444.0,110.8 443.5,111.0 443.0,110.9 442.5,110.4 442.0,108.7 441.5,106.5 441.0,104.6 440.5,102.9 440.0,101.5 439.5,103.4 439.0,105.7 438.5,108.1 438.0,110.7 437.5,113.0 437.0,115.0 436.5,115.8 436.0,116.2 435.5,116.2 435.0,116.3 434.5,116.3 434.0,116.3 433.5,116.4 433.0,116.5 432.5,116.5 432.0,116.7 431.5,116.8 431.0,117.0 430.5,117.2 430.0,117.4 429.5,117.7 429.0,118.3 428.5,118.9 428.0,119.5 427.5,120.0 427.0,120.5 426.5,121.0 426.0,121.5 425.5,122.7 425.0,123.9 424.5,125.2 424.0,126.6 423.5,127.6 423.0,127.9 422.5,127.6 422.0,126.6 421.5,124.4 421.0,121.8 420.5,119.1 420.0,116.6 419.5,114.4 419.0,113.2 418.5,112.1 418.0,111.1 417.5,110.2 417.0,109.2 416.5,108.2 416.0,109.7 415.5,112.3 415.0,115.6 414.5,119.3 414.0,122.7 413.5,125.8 413.0,127.0 412.5,127.2 412.0,126.7 411.5,125.3 411.0,123.9 410.5,123.6 410.0,123.4 409.5,123.1 409.0,122.8 408.5,122.4 408.0,122.0 407.5,122.1 407.0,122.9 406.5,123.8 406.0,124.7 405.5,125.8 405.0,126.9 404.5,128.1 404.0,129.6 403.5,131.2 403.0,132.7 402.5,134.2 402.0,135.3 401.5,135.9 401.0,136.1 400.5,135.9 400.0,135.5 399.5,134.8 399.0,134.1 398.5,129.9 398.0,128.1 397.5,126.4 397.0,125.8 396.5,125.3 396.0,124.8 395.5,122.9 395.0,121.0 394.5,119.2 394.0,117.5 393.5,116.0 393.0,114.6 392.5,114.1 392.0,113.7 391.5,113.1 391.0,112.3 390.5,111.5 390.0,110.7 389.5,110.7 389.0,113.0 388.5,115.5 388.0,118.0 387.5,120.1 387.0,121.1 386.5,121.2 386.0,119.5 385.5,116.5 385.0,113.3 384.5,110.4 384.0,108.5 383.5,107.9 383.0,107.5 382.5,107.4 382.0,107.2 381.5,106.1 381.0,105.0 380.5,105.7 380.0,106.3 379.5,106.8 379.0,107.3 378.5,107.9 378.0,108.6 377.5,110.7 377.0,114.6 376.5,118.5 376.0,121.5 375.5,123.6 375.0,124.8 374.5,125.0 374.0,122.8 373.5,121.2 373.0,119.6 372.5,118.1 372.0,116.7 371.5,115.3 371.0,113.5 370.5,111.2 370.0,108.9 369.5,107.7 369.0,106.8 368.5,106.0 368.0,105.5 367.5,105.1 367.0,104.8 366.5,108.6 366.0,112.3 365.5,115.8 365.0,118.6 364.5,121.0 364.0,122.8 363.5,124.1 363.0,124.6 362.5,124.2 362.0,122.1 361.5,120.0 361.0,118.0 360.5,116.6 360.0,116.5 359.5,117.2 359.0,117.0 358.5,116.5 358.0,116.0 357.5,115.4 357.0,114.8 356.5,114.0 356.0,113.1 355.5,112.3 355.0,111.4 354.5,110.2 354.0,108.5 353.5,105.5 353.0,102.2 352.5,98.8 352.0,95.6 351.5,93.5 351.0,92.3 350.5,91.1 350.0,90.1 349.5,89.4 349.0,88.9 348.5,88.7 348.0,93.8 347.5,99.0 347.0,102.7 346.5,105.7 346.0,108.1 345.5,110.0 345.0,111.2 344.5,111.9 344.0,112.7 343.5,112.4 343.0,110.7 342.5,106.1 342.0,100.7 341.5,94.6 341.0,88.9 340.5,92.3 340.0,96.4 339.5,99.7 339.0,102.3 338.5,104.3 338.0,105.8 337.5,106.2 337.0,105.9 336.5,105.6 336.0,105.4 335.5,105.9 335.0,108.6 334.5,111.5 334.0,113.9 333.5,115.1 333.0,115.2 332.5,114.9 332.0,114.0 331.5,113.3 331.0,112.8 330.5,112.4 330.0,112.1 329.5,112.8 329.0,113.5 328.5,114.1 328.0,114.8 327.5,114.6 327.0,114.2 326.5,113.4 326.0,112.3 325.5,110.9 325.0,109.4 324.5,107.8 324.0,106.3 323.5,105.2 323.0,104.8 322.5,104.4 322.0,104.1 321.5,103.9 321.0,103.5 320.5,102.6 320.0,101.4 319.5,99.2 319.0,96.7 318.5,94.1 318.0,91.8 317.5,89.7 317.0,87.6 316.5,85.8 316.0,84.2 315.5,84.8 315.0,85.7 314.5,86.7 314.0,87.3 313.5,87.7 313.0,87.9 312.5,88.0 312.0,87.9 311.5,87.3 311.0,86.6 310.5,85.9 310.0,85.2 309.5,84.8 309.0,84.9 308.5,85.1 308.0,85.4 307.5,85.6 307.0,85.9 306.5,86.2 306.0,87.5 305.5,89.1 305.0,90.7 304.5,92.4 304.0,94.0 303.5,95.3 303.0,96.6 302.5,100.8 302.0,105.2 301.5,108.8 301.0,111.6 300.5,113.6 300.0,114.8 299.5,115.2 299.0,115.5 298.5,119.2 298.0,124.4 297.5,127.6" fill="#64B5CD"/>
<path d="M297.5,69.0 298.1,140.4 298.8,80.0 299.3,120.8 299.9,77.6 300.4,119.7 300.9,69.3 301.5,120.9 302.0,62.6 302.5,106.7 303.0,63.9 303.5,99.8 304.0,65.0 304.6,97.6 305.2,61.3 305.8,93.6 306.4,56.0 306.9,89.0 307.5,55.8 308.0,89.6 308.5,52.5 309.1,89.2 309.6,50.7 310.2,87.8 310.7,55.6 311.2,90.9 311.8,60.4 312.5,91.7 313.1,60.7 313.8,90.0 314.4,54.0 315.2,91.6 316.0,35.6 316.6,91.6 317.1,44.6 317.7,98.5 318.3,49.6 318.7,102.7 319.1,59.5 319.6,106.6 320.0,67.0 320.6,107.2 321.3,68.8 322.0,108.5 322.6,68.0 323.1,107.5 323.7,74.5 324.2,112.4 324.7,81.3 325.3,115.6 325.8,86.4 326.4,117.7 326.9,90.2 327.4,117.4 328.0,93.0 328.5,114.6 329.0,88.0 329.5,116.6 330.0,82.0 330.5,116.8 331.0,77.4 331.5,119.1 332.0,67.0 332.4,121.8 332.9,75.6 333.4,122.8 333.8,82.0 334.2,119.1 334.7,76.7 335.2,114.3 335.6,71.0 336.1,109.3 336.6,77.0 337.2,108.1 337.7,82.0 338.3,109.4 338.9,74.3 339.4,108.4 340.0,60.4 340.7,101.1 341.4,35.6 342.2,120.0 343.0,71.0 343.6,120.6 344.1,70.1 344.7,117.2 345.3,62.6 345.9,114.0 346.4,69.4 346.9,112.6 347.5,75.6 348.0,99.8 348.6,59.6 349.1,91.9 349.6,42.0 350.1,97.5 350.5,47.5 351.0,99.2 351.5,45.0 351.9,104.1 352.4,46.4 353.2,113.4 354.0,77.7 354.5,113.7 355.1,84.9 355.6,114.9 356.1,87.2 356.7,117.8 357.2,90.7 357.8,119.7 358.3,94.2 358.8,120.0 359.4,88.5 360.2,124.8 361.0,57.0 361.8,128.7 362.6,88.5 363.1,131.8 363.7,86.3 364.2,126.1 364.7,80.7 365.3,127.2 365.8,75.6 366.3,118.2 366.9,72.0 367.4,109.2 367.9,67.6 368.5,109.6 369.0,60.4 369.6,111.8 370.1,75.5 370.6,117.4 371.2,84.0 371.8,120.6 372.3,84.1 372.8,124.0 373.4,82.0 373.9,127.0 374.5,99.0 375.0,130.9 375.6,93.1 376.1,128.0 376.6,80.3 377.2,120.3 377.7,69.0 378.3,113.5 378.9,77.9 379.4,110.0 380.0,82.0 380.5,108.6 381.0,88.2 381.5,108.9 382.0,88.5 382.6,110.1 383.1,79.6 383.6,112.9 384.2,63.7 384.8,119.3 385.3,77.9 385.8,126.9 386.4,90.7 386.9,129.1 387.3,88.4 387.8,124.8 388.3,83.1 388.7,119.8 389.2,78.8 389.9,116.4 390.5,84.8 391.1,115.4 391.8,88.5 392.4,117.7 392.9,85.8 393.4,120.0 394.0,80.0 394.5,124.8 395.0,89.9 395.5,128.6 396.0,93.0 396.6,132.7 397.2,79.8 397.8,135.9 398.4,59.4 398.7,134.9 399.0,112.0 399.6,138.7 400.1,114.3 400.6,136.7 401.2,119.6 401.8,137.7 402.3,116.6 402.9,136.1 403.4,110.6 404.0,134.2 404.5,104.6 405.1,129.5 405.6,97.0 406.1,128.9 406.7,102.3 407.2,125.7 407.7,100.5 408.3,123.7 408.8,101.5 409.3,125.0 409.9,101.0 410.4,123.3 410.9,100.6 411.5,126.6 412.0,99.4 412.8,132.2 413.6,77.7 414.2,134.7 414.9,35.6 415.6,124.1 416.4,64.8 416.9,116.4 417.5,66.5 418.0,115.5 418.5,68.2 419.1,119.0 419.6,69.0 420.2,123.1 420.7,83.9 421.2,128.3 421.8,93.0 422.3,135.1 422.9,89.7 423.4,134.3 423.9,84.5 424.5,132.6 425.0,80.0 425.6,128.6 426.1,83.7 426.6,126.5 427.2,83.4 427.8,125.6 428.3,84.0 428.8,122.2 429.4,86.8 429.9,122.4 430.4,82.0 430.9,121.2 431.5,84.4 432.1,121.1 432.6,86.4 433.2,120.5 433.7,85.4 434.2,120.9 434.8,77.7 435.4,121.3 435.9,75.1 436.4,122.9 437.0,71.0 437.8,122.6 438.6,47.5 439.1,114.9 439.6,46.0 440.1,111.4 440.6,41.0 441.0,110.3 441.5,58.4 441.9,115.5 442.3,71.0 442.9,118.3 443.4,68.9 443.9,116.7 444.5,62.6 445.0,117.3 445.6,53.4 446.1,114.5 446.6,43.0 447.2,115.8 447.7,44.9 448.2,119.9 448.8,42.0 449.4,121.3 449.9,52.0 450.4,122.5 451.0,56.0 451.5,117.0 452.1,59.5 452.6,110.7 453.1,62.1 453.7,109.2 454.2,64.8 454.8,109.9 455.3,74.1 455.8,109.7 456.4,77.7 456.9,112.0 457.5,81.5 458.0,115.8 458.5,79.7 459.1,117.7 459.6,80.0 460.2,119.0 460.7,82.7 461.2,120.0 461.8,84.0 462.4,117.2 462.9,72.5 463.4,118.4 464.0,58.0 464.5,113.3 465.0,56.4 465.5,104.9 466.0,54.0 466.6,104.6 467.1,61.9 467.7,111.9 468.3,62.6 468.8,122.5 469.4,73.6 469.9,132.7 470.4,82.0 471.0,130.1 471.7,67.0 472.4,121.7 473.0,48.5 473.6,113.2 474.2,49.9 474.8,110.9 475.4,49.6 476.2,108.2 477.0,64.8 477.7,110.3 478.4,71.0 479.2,108.9 480.0,77.7 480.6,106.5 481.1,60.1 481.7,101.5 482.3,38.8 482.9,99.4 483.5,7.5 484.0,93.4 484.6,17.1 485.1,89.4 485.6,26.0 486.1,91.4 486.6,49.6 487.2,94.8 487.7,58.4 488.2,102.9 488.8,64.8 489.4,100.8 489.9,69.7 490.4,99.1 491.0,73.4 491.5,93.7 492.0,67.3 492.5,90.1 493.0,56.0 493.6,80.7 494.1,48.3 494.7,73.1 495.3,34.5 495.9,77.7 496.4,43.4 496.9,78.6 497.5,49.6 498.0,83.9 498.6,52.9 499.1,84.8 499.6,54.0 500.2,83.8 500.7,46.7 501.2,80.6 501.8,36.6 502.6,78.9 503.3,49.6" fill="none" stroke="#64B5CD" stroke-width="1.25" stroke-linejoin="round" stroke-linecap="round"/>
<path d="M297.4 69.6v6.2M297.2 139.7v-5.8M299.1 81.7v15.0M298.4 119.8v-17.9M299.7 78.3v7.0M300.2 118.6v-14.5M300.8 71.1v5.0M301.3 119.2v-11.9M301.6 64.4v20.8M302.3 105.8v-18.7M303.4 65.8v12.9M302.9 99.0v-16.9M304.3 66.6v12.7M303.7 96.9v-10.5M305.2 92.1v-6.1M306.3 56.5v5.2M306.3 88.3v-8.4M307.3 57.2v4.6M307.2 89.1v-16.7M308.8 53.5v6.3M308.8 88.1v-6.9M309.5 51.4v21.3M310.5 56.1v12.1M310.5 89.3v-20.2M311.6 61.1v14.9M313.1 61.5v13.8M313.0 88.4v-15.8M314.3 54.6v5.5M316.1 36.9v6.0M316.0 91.2v-9.3M316.9 46.2v6.3M317.1 96.5v-20.4M319.0 61.0v4.5M319.0 104.8v-11.4M319.8 67.9v19.2M319.7 104.9v-6.1M321.5 69.1v4.7M321.1 107.4v-9.5M322.4 68.6v15.5M322.7 106.7v-16.9M323.8 74.8v10.3M323.9 112.0v-9.2M324.4 115.0v-8.4M325.6 88.0v20.5M326.0 115.7v-11.1M326.7 92.1v5.6M327.2 115.5v-16.4M328.1 93.4v12.2M327.9 112.2v-13.2M329.2 89.5v4.8M328.8 114.1v-13.8M330.0 82.4v8.5M329.9 115.8v-7.6M331.2 78.1v16.1M331.0 116.7v-12.0M331.8 67.5v19.9M331.9 120.3v-18.7M332.6 76.9v16.0M333.1 122.2v-19.0M333.7 82.4v7.7M333.6 117.8v-16.6M334.6 77.7v12.4M334.4 111.9v-4.2M335.3 73.0v16.9M335.3 108.0v-12.8M336.7 78.9v4.1M336.8 106.3v-20.8M337.5 82.3v6.5M338.0 108.7v-9.3M339.1 74.8v20.7M339.1 107.4v-17.4M340.3 61.3v9.8M339.9 100.3v-19.0M341.5 37.3v15.3M341.7 118.6v-21.0M342.7 72.3v9.4M343.2 119.3v-6.9M343.8 116.4v-11.9M344.9 64.4v19.1M345.2 112.2v-9.1M346.3 70.5v10.1M346.7 112.0v-20.3M347.5 76.5v14.1M347.2 98.5v-9.8M350.8 97.4v-5.1M351.3 46.9v14.3M351.6 103.0v-9.4M352.2 112.2v-16.2M354.1 79.0v10.7M354.0 112.5v-14.2M354.8 86.2v20.0M355.4 114.4v-8.6M355.9 88.4v12.8M356.2 116.3v-6.0M356.9 91.1v11.3M357.5 117.8v-13.9M358.0 95.7v21.8M358.6 119.4v-11.1M359.6 122.8v-6.5M360.8 57.3v10.7M360.8 126.9v-9.4M362.9 90.3v15.2M362.9 131.1v-19.7M363.5 87.8v17.7M363.4 124.2v-10.7M364.4 126.7v-14.9M366.0 77.5v6.0M365.6 116.9v-7.5M366.9 72.4v6.0M367.1 107.7v-7.3M368.1 68.2v10.9M369.2 62.3v18.5M368.9 110.4v-6.7M369.7 115.3v-7.3M371.1 84.6v12.6M371.1 118.9v-19.7M372.2 85.9v7.9M371.9 122.9v-7.1M373.5 82.9v11.0M373.5 126.7v-10.0M374.9 99.5v4.8M374.3 129.5v-8.9M375.6 95.1v13.5M376.7 82.1v17.9M376.7 119.2v-15.4M377.9 70.9v19.7M377.5 111.6v-17.7M379.0 79.1v10.3M378.5 109.0v-10.1M379.9 107.8v-8.4M380.7 90.0v4.1M381.0 107.9v-14.2M381.7 89.3v9.4M382.0 109.1v-20.6M382.8 111.3v-7.2M384.4 117.0v-11.7M385.3 78.6v20.2M384.9 126.0v-7.0M386.2 91.3v11.2M386.7 128.3v-15.7M387.7 88.8v14.8M387.6 124.2v-10.1M388.3 84.5v19.8M389.1 80.2v17.5M389.3 116.0v-10.1M390.1 85.7v15.3M390.6 114.1v-8.6M392.1 90.5v14.2M391.9 116.7v-17.0M392.6 87.4v6.6M393.2 118.5v-11.6M394.0 81.3v15.8M394.2 122.9v-8.6M395.2 91.5v9.6M395.8 94.9v13.4M395.6 130.9v-12.6M397.1 80.5v21.8M396.9 135.4v-4.5M398.4 60.0v14.0M398.7 113.6v7.2M399.7 115.0v18.0M401.3 121.2v10.2M401.1 137.1v-17.1M402.0 117.6v15.6M403.5 112.5v11.4M404.3 105.3v8.5M404.3 127.6v-7.7M405.4 97.7v21.9M405.3 126.7v-19.5M406.9 103.1v18.8M406.7 125.0v-20.0M407.8 101.8v12.2M409.1 103.1v10.5M410.2 101.8v21.3M409.6 123.0v-21.3M411.1 126.0v-5.8M411.7 101.3v10.1M412.3 131.8v-21.6M413.8 78.1v16.4M413.4 134.2v-11.7M415.3 37.4v9.7M414.9 122.9v-6.4M416.5 66.4v6.7M416.1 115.0v-10.4M417.2 113.2v-21.4M418.4 69.0v7.2M418.2 117.8v-13.2M419.5 70.5v4.2M419.6 121.3v-13.9M421.7 94.0v9.7M422.8 90.2v11.4M424.0 85.3v20.7M423.8 131.8v-8.3M425.3 81.8v18.1M425.2 126.9v-9.8M426.0 84.0v21.5M426.4 124.9v-13.2M427.3 124.4v-17.4M428.2 85.3v13.5M428.2 120.7v-15.3M429.4 88.7v8.8M429.5 121.1v-13.4M430.1 83.2v20.7M430.4 120.4v-18.6M431.8 85.8v12.3M431.8 120.7v-19.6M432.9 86.9v18.7M432.4 119.5v-5.9M433.7 85.9v12.2M434.1 119.6v-16.5M435.0 78.3v17.7M434.7 120.5v-13.4M435.8 75.4v10.9M436.0 122.2v-5.0M436.8 71.7v9.8M436.7 120.4v-15.5M438.5 48.9v18.3M438.2 113.8v-12.0M439.4 47.4v11.3M439.5 109.8v-10.9M441.0 109.2v-16.8M441.3 60.0v5.3M441.5 113.2v-12.9M441.9 72.1v14.7M442.6 117.0v-11.5M443.4 114.6v-13.2M444.7 63.0v11.2M444.5 115.3v-17.8M445.3 55.1v5.4M445.2 113.0v-17.6M446.7 44.1v16.8M446.8 114.2v-11.5M448.0 118.9v-6.6M448.4 42.8v21.8M448.7 119.1v-8.6M449.9 52.4v11.6M450.2 120.3v-18.4M450.8 57.2v4.9M451.0 115.4v-12.8M452.3 61.4v7.6M451.7 109.2v-9.7M453.2 62.8v9.8M453.0 107.2v-16.8M454.2 65.9v20.8M455.2 74.5v15.5M456.5 79.6v7.2M456.6 110.2v-13.0M457.3 83.2v7.8M457.8 115.3v-7.7M458.8 80.7v21.1M458.3 115.9v-20.3M459.2 80.4v16.5M459.4 117.4v-8.2M460.7 84.5v6.8M461.0 117.9v-6.7M461.4 115.5v-10.8M462.9 73.6v5.7M462.8 117.9v-16.2M463.7 60.0v20.6M464.8 58.0v10.3M465.3 103.5v-5.7M466.0 104.0v-5.6M467.5 62.5v19.2M468.4 63.5v21.4M469.0 74.7v10.0M469.5 130.7v-7.2M470.1 82.5v14.1M470.6 128.8v-14.7M471.7 68.4v5.8M471.8 120.6v-10.4M472.7 50.4v7.1M473.3 111.9v-19.7M473.9 50.4v19.8M474.2 109.6v-6.1M475.4 50.5v13.1M475.3 107.7v-7.7M477.3 66.6v13.0M477.4 108.3v-12.8M478.6 72.6v8.1M478.2 107.7v-4.6M479.8 78.1v20.0M479.8 104.5v-14.7M480.8 61.4v8.4M482.4 40.5v16.5M482.5 97.0v-12.3M483.9 8.5v11.4M483.3 91.6v-17.2M484.4 17.8v6.5M484.4 86.9v-21.6M485.6 27.6v13.0M486.7 51.0v7.6M486.8 92.9v-5.7M487.4 59.8v21.4M487.4 100.6v-18.9M489.1 99.2v-18.4M490.2 71.5v18.1M490.3 96.7v-13.6M491.4 74.1v18.2M490.8 92.4v-7.6M492.0 68.8v20.3M491.9 88.0v-18.1M493.4 57.0v18.9M493.1 79.7v-19.1M494.4 48.6v18.3M493.8 71.0v-6.0M495.4 35.4v12.2M495.2 76.0v-19.2M496.1 44.9v8.9M496.5 78.0v-18.5M497.1 50.2v18.8M497.9 83.1v-10.5M498.9 83.4v-11.1M500.0 81.7v-7.4M500.7 47.3v4.0M502.0 37.5v8.5M501.8 77.4v-19.5" stroke="#173345" stroke-width="0.6" stroke-dasharray="1.1 0.9 0.6 1.3 1.7 0.8" opacity="0.16" fill="none"/>
<path d="M297.9 69.2v6.6M298.3 140.2v-1.9M298.7 80.2v6.8M299.2 120.6v-5.0M300.3 77.8v5.2M300.9 119.5v-3.5M301.1 69.5v6.1M301.7 120.7v-4.0M302.0 106.5v-5.6M303.5 64.1v2.3M304.1 65.2v4.7M304.8 97.4v-3.7M305.5 61.5v3.0M305.7 93.4v-4.5M307.1 88.8v-5.9M307.7 56.0v6.8M307.7 89.4v-3.0M308.8 52.7v6.0M309.1 89.0v-2.3M309.8 87.6v-5.6M310.5 55.8v1.8M311.7 90.7v-6.8M312.2 60.6v3.2M312.4 91.5v-3.3M313.0 60.9v2.9M313.5 89.8v-6.8M314.4 54.2v6.5M315.8 35.8v5.8M316.5 91.4v-5.7M317.4 44.8v5.2M318.1 98.3v-3.5M318.4 49.8v3.1M318.3 102.5v-5.7M320.0 106.4v-3.4M319.6 67.2v2.8M320.8 107.0v-5.6M320.9 69.0v5.9M322.4 108.3v-5.0M322.9 68.2v5.3M323.4 107.3v-6.7M324.0 74.7v3.7M324.6 112.2v-2.5M324.9 81.5v4.4M325.4 86.6v3.4M326.7 117.5v-4.3M326.8 90.4v4.7M327.8 117.2v-3.0M327.7 93.2v6.1M328.5 114.4v-5.6M330.1 82.2v6.0M331.2 77.6v5.4M331.1 118.9v-3.0M331.8 67.2v6.0M332.0 121.6v-2.7M333.2 75.8v6.9M332.9 122.6v-5.3M334.4 118.9v-1.5M334.3 76.9v3.0M335.5 114.1v-4.6M335.2 71.2v6.1M336.0 109.1v-5.0M336.4 77.2v4.6M337.5 107.9v-2.6M338.6 109.2v-1.7M338.8 74.5v4.3M339.6 108.2v-5.0M340.0 60.6v3.7M341.1 100.9v-2.7M343.1 120.4v-6.9M344.1 70.3v2.2M344.7 117.0v-5.4M345.2 62.8v2.5M346.1 113.8v-2.6M346.1 69.6v3.9M346.7 112.4v-2.6M348.0 75.8v5.4M348.4 99.6v-6.7M348.1 59.8v5.5M349.4 91.7v-1.6M349.4 42.2v5.0M350.2 97.3v-2.4M350.7 99.0v-1.7M351.8 45.2v6.4M351.5 103.9v-2.1M352.4 46.6v5.8M354.9 113.5v-4.1M355.1 85.1v2.1M355.4 114.7v-2.7M356.3 87.4v6.5M357.6 119.5v-5.5M359.1 88.7v1.6M359.7 124.6v-3.6M361.3 128.5v-4.1M363.0 131.6v-1.9M363.7 86.5v6.4M363.9 125.9v-2.6M365.4 127.0v-2.1M365.8 75.8v2.6M366.5 118.0v-5.0M367.1 72.2v1.9M367.3 109.0v-4.1M367.7 67.8v5.4M368.4 109.4v-5.3M369.1 60.6v6.5M370.0 111.6v-2.8M370.4 75.7v3.7M370.7 84.2v5.6M372.1 120.4v-6.9M372.0 84.3v1.8M373.8 82.2v5.2M373.7 126.8v-6.6M374.8 99.2v1.6M375.2 130.7v-6.9M375.2 93.3v5.9M376.4 127.8v-2.1M377.8 69.2v6.2M378.9 78.1v4.9M379.0 109.8v-1.9M379.9 82.2v3.1M380.0 108.4v-5.6M382.2 88.7v2.2M382.2 109.9v-3.9M383.2 112.7v-3.4M384.5 63.9v6.2M384.6 119.1v-3.5M385.4 78.1v2.3M386.0 90.9v1.5M387.0 128.9v-5.3M387.2 88.6v4.0M388.2 124.6v-5.1M388.7 83.3v5.9M389.4 79.0v1.7M390.2 85.0v6.3M391.6 88.7v5.4M392.2 117.5v-3.4M393.4 86.0v3.9M393.7 119.8v-6.6M394.7 90.1v3.0M395.2 128.4v-1.6M397.5 80.0v5.7M398.0 59.6v4.4M398.9 112.2v4.9M399.2 138.5v-6.8M400.1 114.5v5.1M401.4 119.8v6.5M402.1 116.8v2.7M403.6 110.8v2.9M404.7 104.8v3.9M405.3 129.3v-5.6M405.1 97.2v2.9M405.9 128.7v-2.7M407.4 125.5v-4.8M407.5 100.7v5.3M407.8 123.5v-1.9M408.4 101.7v2.3M409.5 124.8v-6.8M409.5 101.2v5.7M410.3 123.1v-3.2M411.2 100.8v3.9M411.3 126.4v-6.6M412.5 132.0v-6.1M414.4 35.8v3.0M415.3 123.9v-6.5M416.6 65.0v4.7M416.5 116.2v-2.3M418.1 115.3v-5.1M418.0 68.4v1.9M419.5 69.2v6.8M420.4 122.9v-2.3M420.7 84.1v3.5M421.5 128.1v-2.9M422.1 93.2v3.6M422.1 134.9v-2.6M423.0 89.9v3.5M423.0 134.1v-6.3M423.7 84.7v6.1M424.1 132.4v-3.9M424.6 80.2v5.4M425.2 128.4v-4.1M425.7 83.9v3.9M426.6 126.3v-3.5M427.5 125.4v-1.9M428.7 84.2v4.6M429.9 122.2v-6.7M430.8 82.2v2.4M430.7 121.0v-2.0M431.6 120.9v-5.5M432.3 86.6v3.2M432.8 120.3v-3.5M433.8 120.7v-2.5M434.3 77.9v4.3M435.4 121.1v-5.6M436.0 75.3v4.2M436.8 122.7v-2.3M437.7 122.4v-6.2M439.2 114.7v-2.7M439.6 111.2v-2.7M440.3 41.2v2.3M441.5 110.1v-4.7M441.0 58.6v5.2M442.3 71.2v4.1M443.5 69.1v7.0M443.7 116.5v-6.1M445.5 117.1v-2.7M445.4 53.6v3.7M445.9 114.3v-1.6M446.1 43.2v6.1M447.1 115.6v-2.9M447.3 45.1v5.4M448.7 119.7v-2.2M448.8 42.2v2.3M448.9 121.1v-6.4M450.0 52.2v2.4M450.8 122.3v-3.7M451.5 56.2v6.2M451.4 116.8v-6.7M451.7 59.7v6.5M452.4 110.5v-3.1M454.5 65.0v4.4M454.9 74.3v4.3M455.9 109.5v-5.1M458.4 115.6v-1.9M458.7 79.9v2.5M458.9 117.5v-2.8M459.2 80.2v5.2M460.1 118.8v-4.9M460.2 82.9v5.9M461.5 119.8v-5.2M462.3 84.2v2.5M462.3 117.0v-2.8M463.9 118.2v-3.8M464.4 113.1v-5.5M464.6 56.6v5.7M465.3 104.7v-2.7M465.9 54.2v2.2M466.7 104.4v-1.9M467.9 111.7v-3.5M468.3 62.8v2.5M468.5 122.3v-5.2M469.6 73.8v6.8M470.6 82.2v5.0M471.5 67.2v5.7M472.5 121.5v-6.0M473.7 50.1v2.6M474.6 110.7v-5.5M475.1 49.8v1.5M475.9 108.0v-1.5M477.5 65.0v5.4M478.1 110.1v-2.1M479.2 108.7v-3.3M480.0 77.9v3.8M480.2 106.3v-1.8M481.3 60.3v2.0M482.0 101.3v-2.9M482.3 39.0v3.4M483.0 99.2v-6.6M483.7 7.7v2.3M483.8 93.2v-5.4M484.1 17.3v5.9M485.3 89.2v-2.6M485.7 91.2v-2.8M486.2 49.8v4.6M486.8 94.6v-4.7M487.5 58.6v2.8M488.5 102.7v-4.4M488.5 65.0v5.5M489.5 100.6v-5.0M489.6 69.9v6.5M490.2 98.9v-5.1M491.3 73.6v2.7M492.3 67.5v6.8M492.7 89.9v-3.2M492.6 56.2v4.9M493.2 80.5v-4.3M494.9 34.7v2.6M495.7 77.5v-4.4M496.7 43.6v4.4M496.8 78.4v-1.9M497.7 49.8v2.9M498.0 83.7v-3.3M498.4 53.1v5.7M499.5 84.6v-6.6M499.6 54.2v2.1M499.7 83.6v-3.0M501.9 36.8v4.1M502.8 78.7v-1.9M502.9 49.8v3.9" stroke="#1f3a47" stroke-width="0.55" stroke-dasharray="0.7 0.7" opacity="0.6" fill="none"/>
<path d="M298.0 69.2v2.0M298.4 140.2v-3.1M298.4 80.2v2.1M299.7 120.6v-4.4M300.1 77.8v2.5M300.0 119.5v-3.4M300.6 69.5v6.8M301.9 120.7v-5.6M302.6 106.5v-6.8M303.2 64.1v4.1M304.5 65.2v2.6M304.4 97.4v-6.0M305.2 61.5v2.9M306.2 56.2v6.2M306.8 88.8v-5.6M307.8 56.0v3.8M309.2 89.0v-5.7M311.0 55.8v6.2M311.1 90.7v-3.5M311.4 60.6v3.6M312.4 91.5v-6.5M315.5 91.4v-6.6M318.2 49.8v5.1M319.0 59.7v4.5M320.3 67.2v6.1M321.5 69.0v6.7M323.2 107.3v-6.3M323.9 74.7v3.4M325.0 115.4v-3.4M325.3 86.6v3.3M326.5 90.4v1.9M327.9 93.2v4.0M329.9 116.4v-5.0M330.2 82.2v6.4M330.6 116.6v-6.3M331.3 77.6v4.7M332.6 121.6v-6.3M332.8 75.8v3.5M333.8 118.9v-6.5M335.1 114.1v-5.4M335.9 71.2v4.4M336.9 77.2v2.7M338.2 82.2v6.4M338.5 109.2v-3.6M339.3 108.2v-3.2M340.7 100.9v-4.5M342.7 119.8v-6.8M344.2 70.3v6.5M345.6 113.8v-6.6M346.8 69.6v4.3M349.9 42.2v5.0M349.8 97.3v-4.8M350.5 47.7v3.8M350.5 99.0v-2.0M351.7 45.2v5.4M352.0 103.9v-2.9M352.8 46.6v4.8M353.4 113.2v-4.7M356.0 114.7v-6.1M356.1 87.4v6.7M357.0 117.6v-1.9M357.9 119.5v-4.0M358.6 119.8v-5.7M359.3 88.7v2.4M360.7 57.2v2.4M361.6 128.5v-2.6M363.1 131.6v-4.1M365.4 127.0v-2.6M365.4 75.8v2.4M367.3 109.0v-3.4M367.8 67.8v5.3M368.5 109.4v-6.3M369.2 60.6v6.2M370.0 111.6v-5.0M369.9 75.7v3.9M373.2 123.8v-3.5M375.1 130.7v-6.7M375.2 93.3v2.5M377.1 120.1v-3.3M378.1 113.3v-6.4M380.4 108.4v-3.3M381.9 88.7v3.5M382.6 109.9v-6.5M383.4 79.8v3.3M383.2 112.7v-5.3M384.5 63.9v1.8M384.3 119.1v-2.8M385.5 78.1v5.5M387.7 124.6v-6.6M388.6 83.3v5.6M389.1 119.6v-2.0M390.8 115.2v-1.8M391.9 88.7v5.4M392.0 117.5v-2.4M394.4 124.6v-6.9M394.7 90.1v2.9M396.9 80.0v2.5M397.4 135.7v-5.6M399.3 112.2v3.9M400.2 114.5v6.3M401.1 136.5v-3.7M402.7 135.9v-2.5M404.2 134.0v-5.9M405.0 129.3v-5.9M407.7 125.5v-6.8M408.6 101.7v3.6M412.6 132.0v-5.7M414.2 134.5v-6.2M414.5 35.8v6.6M417.0 116.2v-5.7M418.1 68.4v6.6M419.2 69.2v3.0M420.5 84.1v5.5M422.6 134.9v-4.2M422.6 89.9v5.1M423.8 134.1v-6.6M424.8 132.4v-4.6M425.5 128.4v-6.2M426.9 126.3v-2.2M426.8 83.6v5.2M429.2 87.0v5.0M429.4 122.2v-6.0M430.8 82.2v2.0M431.5 84.6v4.1M432.8 120.3v-6.6M433.3 85.6v6.0M434.1 120.7v-4.3M434.8 77.9v6.6M435.6 75.3v6.5M441.0 41.2v2.0M442.6 71.2v4.0M444.0 116.5v-5.3M444.1 62.8v2.4M444.8 117.1v-4.2M445.8 53.6v4.5M446.5 43.2v6.4M448.7 119.7v-4.7M448.6 42.2v4.5M449.0 121.1v-2.6M450.0 52.2v5.0M451.7 116.8v-6.7M453.5 109.0v-4.8M454.3 109.7v-6.9M455.0 74.3v4.5M456.6 77.9v6.1M459.5 80.2v1.8M460.2 82.9v4.6M461.3 119.8v-6.5M462.0 117.0v-2.6M463.2 118.2v-6.6M464.9 56.6v6.8M466.5 54.2v6.1M466.3 104.4v-5.6M467.3 62.1v3.5M470.5 82.2v5.5M470.8 129.9v-6.5M471.3 67.2v2.4M473.7 113.0v-4.3M474.3 110.7v-4.5M475.1 49.8v3.8M476.7 65.0v6.0M477.6 110.1v-4.1M478.1 71.2v5.7M481.0 106.3v-4.3M481.3 101.3v-1.9M482.4 39.0v2.0M482.9 99.2v-3.2M483.8 93.2v-2.4M484.8 17.3v6.5M484.6 89.2v-2.4M485.7 26.2v6.2M485.7 91.2v-4.9M487.4 94.6v-2.1M488.7 65.0v5.2M489.4 69.9v6.5M490.1 98.9v-3.7M491.5 73.6v5.3M491.7 93.5v-3.0M492.2 67.5v3.7M492.1 89.9v-2.4M494.7 72.9v-4.3M495.3 34.7v5.2M496.7 43.6v6.6M496.9 78.4v-2.3M497.7 49.8v5.3M499.4 84.6v-5.4M499.2 54.2v3.3M501.1 80.4v-5.3M502.5 78.7v-6.9M503.5 49.8v2.0" stroke="#3b5f9a" stroke-width="0.55" stroke-dasharray="0.7 0.7" opacity="0.5" fill="none"/>
<text x="326.4" y="156.4" font-size="5.2" text-anchor="middle">5000</text>
<text x="355.7" y="156.4" font-size="5.2" text-anchor="middle">10,000</text>
<text x="384.2" y="156.4" font-size="5.2" text-anchor="middle">15,000</text>
<text x="414.4" y="156.4" font-size="5.2" text-anchor="middle">20,000</text>
<text x="442.3" y="156.4" font-size="5.2" text-anchor="middle">25,000</text>
<text x="472.2" y="156.4" font-size="5.2" text-anchor="middle">30,000</text>
<text x="502.2" y="156.4" font-size="5.2" text-anchor="middle">35,000</text>
<text x="282" y="124.4" font-size="5.2" text-anchor="end">2</text>
<text x="282" y="106.5" font-size="5.2" text-anchor="end">4</text>
<text x="282" y="88.6" font-size="5.2" text-anchor="end">6</text>
<text x="282" y="70.7" font-size="5.2" text-anchor="end">8</text>
<text x="282" y="52.7" font-size="5.2" text-anchor="end">10</text>
<text x="282" y="34.8" font-size="5.2" text-anchor="end">12</text>
<text x="282" y="16.9" font-size="5.2" text-anchor="end">14</text>
<text x="273" y="75" font-size="6.0" text-anchor="middle" transform="rotate(-90 273 75)">ug/m3</text>
<text x="400.5" y="164.2" font-size="6.18" text-anchor="middle">Item number (5min average)</text>
<text transform="translate(510.3 184.2) scale(1 1.08)" font-size="11.8" text-anchor="end">(b)</text>
<rect x="290.3" y="3.8" width="48.3" height="26.3" rx="1.2" fill="#EAEAF2" fill-opacity="0.8" stroke="#cfcfd6" stroke-width="0.6"/><circle cx="298.4" cy="9.4" r="0.75" fill="#4C72B0"/><circle cx="298.4" cy="17.6" r="0.75" fill="#111"/><line x1="292.2" x2="304.1" y1="24.8" y2="24.8" stroke="#64B5CD" stroke-width="0.9"/><text x="309.1" y="10.7" font-size="5.33">Train</text><text x="309.1" y="18.6" font-size="5.33">Test</text><text x="309.1" y="26.6" font-size="5.33">Predictions</text>
<rect x="25" y="196.1" width="228.5" height="133.9" fill="#EAEAF2"/>
<path d="M35.3 240V325.7" stroke="#64B5CD" stroke-width="0.7"/><circle cx="35.3" cy="325.7" r="0.6" fill="#4C72B0"/>
<path d="M34.0,224.1 34.7,224.1 34.9,225.4 35.4,225.4 35.6,221.5 36.0,221.5 36.2,225.8 36.7,225.8 36.9,226.0 37.3,226.0 37.5,228.0 38.0,228.0 38.2,228.5 38.6,228.5 38.7,235.3 39.1,235.3 39.2,236.8 39.7,236.8 39.9,239.7 40.4,239.7 40.6,238.1 41.2,238.1 41.5,239.4 42.2,239.4 42.5,239.4 43.1,239.4 43.4,241.7 44.1,241.7 44.4,241.3 45.0,241.3 45.2,244.4 45.8,244.4 46.0,243.2 46.6,243.2 46.8,241.6 47.4,241.6 47.6,239.4 48.1,239.4 48.3,241.1 48.8,241.1 49.0,241.9 49.4,241.9 49.6,240.0 50.1,240.0 50.3,235.5 50.7,235.5 50.9,234.4 51.3,234.4 51.5,227.9 51.9,227.9 52.1,228.7 52.6,228.7 52.8,223.5 53.3,223.5 53.6,223.4 54.1,223.4 54.4,220.9 55.0,220.9 55.2,225.4 55.8,225.4 56.1,233.0 56.7,233.0 57.0,237.7 57.5,237.7 57.8,236.8 58.3,236.8 58.5,236.4 59.0,236.4 59.2,231.1 59.6,231.1 59.8,234.0 60.2,234.0 60.4,231.7 60.8,231.7 61.0,233.9 61.5,233.9 61.7,232.4 62.1,232.4 62.3,233.7 62.8,233.7 63.0,229.2 63.4,229.2 63.6,234.4 64.1,234.4 64.3,235.5 64.8,235.5 65.0,235.9 65.6,235.9 65.8,230.5 66.3,230.5 66.5,232.0 67.0,232.0 67.2,229.8 67.6,229.8 67.8,227.1 68.3,227.1 68.5,222.8 68.9,222.8 69.1,225.8 69.5,225.8 69.7,225.4 70.1,225.4 70.3,226.1 70.8,226.1 71.0,223.5 71.4,223.5 71.6,223.7 72.1,223.7 72.3,221.5 72.7,221.5 72.9,222.8 73.3,222.8 73.5,221.5 73.9,221.5 74.1,225.4 74.6,225.4 74.8,226.0 75.3,226.0 75.5,225.0 76.0,225.0 76.2,220.3 76.8,220.3 77.2,219.0 77.8,219.0 78.2,215.8 78.7,215.8 78.9,219.1 79.3,219.1 79.5,220.3 79.9,220.3 80.1,223.9 80.6,223.9 80.8,224.1 81.2,224.1 81.4,224.5 81.9,224.5 82.1,221.5 82.6,221.5 82.8,220.4 83.3,220.4 83.5,216.5 84.0,216.5 84.1,221.1 84.5,221.1 84.6,221.5 85.0,221.5 85.2,224.9 85.6,224.9 85.8,226.6 86.3,226.6 86.6,225.5 87.3,225.5 87.6,220.9 88.2,220.9 88.5,220.7 89.2,220.7 89.5,218.4 90.0,218.4 90.2,223.6 90.7,223.6 90.9,224.1 91.4,224.1 91.6,229.5 92.1,229.5 92.3,230.5 92.8,230.5 93.0,232.3 93.5,232.3 93.7,229.2 94.1,229.2 94.3,228.3 94.8,228.3 95.0,224.1 95.5,224.1 95.7,227.6 96.3,227.6 96.5,229.2 97.0,229.2 97.2,232.6 97.7,232.6 97.9,230.5 98.3,230.5 98.5,230.6 99.0,230.6 99.2,227.3 99.7,227.3 99.9,226.1 100.5,226.1 100.7,222.2 101.3,222.2 101.5,222.3 102.0,222.3 102.2,220.3 102.8,220.3 103.2,218.2 103.8,218.2 104.2,213.3 104.7,213.3 104.9,218.4 105.3,218.4 105.5,219.0 105.9,219.0 106.1,224.7 106.6,224.7 106.8,225.4 107.3,225.4 107.6,225.7 108.1,225.7 108.4,222.8 109.0,222.8 109.2,224.8 109.7,224.8 109.9,222.2 110.5,222.2 110.8,223.4 111.5,223.4 111.8,222.8 112.3,222.8 112.5,226.6 113.0,226.6 113.2,227.3 113.7,227.3 113.9,229.5 114.5,229.5 114.7,229.2 115.3,229.2 115.5,230.0 116.0,230.0 116.2,228.5 116.7,228.5 116.9,229.2 117.4,229.2 117.6,227.3 118.1,227.3 118.3,227.7 118.8,227.7 119.0,223.5 119.5,223.5 119.7,226.7 120.2,226.7 120.4,225.4 120.8,225.4 121.0,228.5 121.5,228.5 121.7,229.8 122.2,229.8 122.4,228.8 123.0,228.8 123.2,226.0 123.7,226.0 123.9,227.2 124.4,227.2 124.6,223.5 125.0,223.5 125.2,227.1 125.7,227.1 125.9,226.6 126.3,226.6 126.5,228.4 127.0,228.4 127.2,226.0 127.6,226.0 127.8,226.8 128.2,226.8 128.4,223.5 128.9,223.5 129.2,223.7 129.7,223.7 130.0,219.6 130.6,219.6 130.8,219.1 131.3,219.1 131.5,216.5 132.1,216.5 132.3,216.6 132.8,216.6 133.0,215.8 133.6,215.8 133.9,216.8 134.4,216.8 134.7,215.2 135.2,215.2 135.4,211.7 135.9,211.7 136.1,207.5 136.5,207.5 136.6,212.9 137.0,212.9 137.1,212.6 137.5,212.6 137.7,215.0 138.0,215.0 138.2,213.9 138.7,213.9 138.9,218.6 139.5,218.6 139.7,219.1 140.3,219.1 140.5,221.4 141.0,221.4 141.2,217.8 141.8,217.8 142.1,221.9 142.6,221.9 142.9,221.0 143.5,221.0 143.7,219.7 144.3,219.7 144.5,216.5 145.1,216.5 145.3,220.3 145.9,220.3 146.1,221.6 146.7,221.6 146.9,223.5 147.4,223.5 147.6,224.2 148.2,224.2 148.4,225.7 149.0,225.7 149.2,222.3 149.8,222.3 150.1,223.6 150.6,223.6 150.9,220.4 151.4,220.4 151.6,221.4 152.1,221.4 152.3,219.1 152.7,219.1 152.9,213.7 153.3,213.7 153.5,205.7 154.0,205.7 154.2,207.7 154.8,207.7 155.0,207.6 155.5,207.6 155.7,213.1 156.1,213.1 156.3,215.3 156.7,215.3 156.9,221.0 157.4,221.0 157.6,222.3 158.0,222.3 158.2,226.0 158.7,226.0 158.9,224.2 159.4,224.2 159.6,226.4 160.1,226.4 160.3,223.5 160.9,223.5 161.2,223.9 161.7,223.9 162.0,219.1 162.5,219.1 162.7,221.2 163.1,221.2 163.3,220.4 163.8,220.4 164.0,223.1 164.6,223.1 164.8,222.9 165.4,222.9 165.6,224.3 166.2,224.3 166.4,223.5 166.9,223.5 167.1,224.2 167.6,224.2 167.8,219.1 168.2,219.1 168.3,217.0 168.7,217.0 168.8,213.4 169.2,213.4 169.4,215.7 169.9,215.7 170.1,216.5 170.5,216.5 170.7,221.4 171.2,221.4 171.4,224.2 171.8,224.2 172.0,228.9 172.4,228.9 172.6,228.0 173.0,228.0 173.2,231.6 173.7,231.6 173.9,229.9 174.3,229.9 174.5,229.8 175.0,229.8 175.2,227.4 175.7,227.4 175.9,224.9 176.4,224.9 176.6,217.2 177.1,217.2 177.3,219.3 177.8,219.3 178.0,215.9 178.4,215.9 178.6,212.0 179.1,212.0 179.3,205.1 179.7,205.1 179.9,204.3 180.3,204.3 180.5,201.9 180.9,201.9 181.0,207.1 181.4,207.1 181.5,207.6 181.9,207.6 182.0,214.0 182.3,214.0 182.4,217.8 182.8,217.8 183.0,221.0 183.5,221.0 183.7,222.9 184.2,222.9 184.5,225.3 185.0,225.3 185.3,222.3 185.9,222.3 186.1,223.1 186.6,223.1 186.8,221.0 187.4,221.0 187.6,221.7 188.1,221.7 188.3,219.7 188.8,219.7 189.0,222.9 189.5,222.9 189.7,222.3 190.1,222.3 190.2,226.8 190.6,226.8 190.7,229.3 191.1,229.3 191.3,223.6 191.8,223.6 192.0,217.2 192.4,217.2 192.6,218.2 193.1,218.2 193.3,216.5 193.8,216.5 194.0,221.5 194.5,221.5 194.6,224.4 195.0,224.4 195.1,224.7 195.5,224.7 195.7,223.8 196.1,223.8 196.3,222.2 196.7,222.2 196.9,226.4 197.4,226.4 197.6,227.9 198.1,227.9 198.3,229.6 198.8,229.6 199.0,226.6 199.5,226.6 199.7,224.9 200.2,224.9 200.4,220.9 200.8,220.9 200.9,222.7 201.3,222.7 201.4,220.3 201.8,220.3 202.0,224.8 202.5,224.8 202.7,225.4 203.1,225.4 203.3,227.2 203.8,227.2 204.0,227.3 204.5,227.3 204.7,228.9 205.2,228.9 205.4,229.8 205.9,229.8 206.1,230.0 206.6,230.0 206.8,226.0 207.2,226.0 207.4,228.2 207.9,228.2 208.1,226.6 208.5,226.6 208.7,225.8 209.1,225.8 209.3,222.8 209.8,222.8 210.1,224.3 210.6,224.3 210.9,224.1 211.5,224.1 211.7,227.4 212.3,227.4 212.5,225.4 213.0,225.4 213.2,230.1 213.7,230.1 213.9,229.2 214.4,229.2 214.6,229.2 215.1,229.2 215.3,227.3 215.9,227.3 216.1,227.3 216.7,227.3 216.9,223.5 217.4,223.5 217.6,227.6 218.0,227.6 218.2,227.9 218.6,227.9 218.8,231.9 219.3,231.9 219.5,233.6 220.0,233.6 220.3,235.6 220.8,235.6 221.1,236.8 221.7,236.8 221.9,236.7 222.5,236.7 222.7,234.3 223.3,234.3 223.5,234.7 224.0,234.7 224.2,231.1 224.7,231.1 224.9,232.4 225.4,232.4 225.6,229.8 226.1,229.8 226.3,228.6 226.8,228.6 227.0,224.1 227.5,224.1 227.7,226.3 228.2,226.3 228.4,227.3 228.8,227.3 229.0,231.0 229.5,231.0 229.7,233.0 230.2,233.0 230.4,235.7 231.0,235.7 231.2,236.2 231.7,236.2 231.9,236.7 232.4,236.7 232.6,234.3 233.1,234.3 233.4,234.6 233.9,234.6 234.2,232.4 234.8,232.4 235.0,235.1 235.5,235.1 235.7,232.4 236.3,232.4 236.5,233.6 237.0,233.6 237.2,233.6 237.8,233.6 238.1,237.2 238.6,237.2 238.9,234.9 239.5,234.9 239.7,236.8 240.3,236.8 240.5,236.8 241.1,236.8 241.3,238.5 241.9,238.5 242.1,234.9 242.7,234.9 242.9,238.1 243.4,238.1 243.6,239.4 244.1,239.4 244.2,245.1 244.6,245.1 244.7,247.0 245.0,247.0 245.1,266.0 245.6,266.0" fill="none" stroke="#1b2a38" stroke-width="1.0" stroke-dasharray="0.6 0.7" stroke-linejoin="round" opacity="0.75"/>
<path d="M34.0,247.0 34.7,247.0 34.9,245.7 35.4,245.7 35.6,247.0 36.0,247.0 36.2,247.8 36.7,247.8 36.9,249.5 37.3,249.5 37.5,248.3 38.0,248.3 38.2,252.1 38.7,252.1 38.9,252.2 39.4,252.2 39.6,257.2 40.1,257.2 40.3,254.9 40.8,254.9 41.0,254.6 41.5,254.6 41.7,252.9 42.3,252.9 42.5,255.9 43.0,255.9 43.2,258.8 43.7,258.8 43.9,264.8 44.3,264.8 44.5,263.4 45.0,263.4 45.2,268.0 45.6,268.0 45.8,266.6 46.2,266.6 46.4,266.1 46.9,266.1 47.2,267.3 47.7,267.3 48.0,271.2 48.5,271.2 48.7,267.7 49.2,267.7 49.4,266.1 49.8,266.1 50.0,260.9 50.4,260.9 50.6,259.7 51.0,259.7 51.2,255.1 51.7,255.1 51.9,255.3 52.3,255.3 52.5,251.1 53.0,251.1 53.2,252.1 53.7,252.1 53.9,251.6 54.4,251.6 54.6,254.6 55.1,254.6 55.3,254.6 55.8,254.6 56.0,257.2 56.4,257.2 56.6,256.3 57.1,256.3 57.3,260.4 57.8,260.4 58.0,259.2 58.5,259.2 58.7,259.1 59.2,259.1 59.4,255.8 59.9,255.8 60.1,254.6 60.5,254.6 60.7,252.9 61.1,252.9 61.3,255.9 61.8,255.9 62.1,253.2 62.6,253.2 62.9,253.4 63.5,253.4 63.7,250.7 64.3,250.7 64.5,254.0 65.0,254.0 65.2,254.1 65.7,254.1 65.9,255.3 66.4,255.3 66.6,255.4 67.1,255.4 67.3,258.5 67.8,258.5 68.0,255.7 68.5,255.7 68.7,254.6 69.1,254.6 69.3,254.0 69.8,254.0 70.0,254.0 70.5,254.0 70.7,253.7 71.2,253.7 71.4,254.6 71.9,254.6 72.1,253.5 72.6,253.5 72.8,253.4 73.2,253.4 73.4,254.7 73.9,254.7 74.1,258.5 74.5,258.5 74.7,254.8 75.1,254.8 75.3,254.0 75.8,254.0 76.1,251.4 76.6,251.4 76.9,252.1 77.4,252.1 77.6,247.2 78.1,247.2 78.3,244.5 78.7,244.5 78.9,244.8 79.3,244.8 79.5,249.5 79.9,249.5 80.1,248.2 80.6,248.2 80.8,250.2 81.2,250.2 81.4,246.9 81.9,246.9 82.1,249.5 82.6,249.5 82.8,251.9 83.4,251.9 83.6,255.9 84.1,255.9 84.3,251.7 84.8,251.7 85.0,250.8 85.5,250.8 85.7,251.5 86.3,251.5 86.5,248.9 87.0,248.9 87.2,249.5 87.8,249.5 88.1,248.5 88.6,248.5 88.9,250.2 89.5,250.2 89.7,247.2 90.3,247.2 90.5,249.5 91.1,249.5 91.3,248.3 91.9,248.3 92.1,248.9 92.6,248.9 92.8,247.8 93.2,247.8 93.4,252.1 93.9,252.1 94.1,248.9 94.7,248.9 94.9,248.3 95.5,248.3 95.7,247.4 96.3,247.4 96.5,248.9 97.1,248.9 97.3,249.5 97.8,249.5 98.0,254.0 98.5,254.0 98.8,249.9 99.2,249.9 99.5,249.5 100.0,249.5 100.2,247.2 100.8,247.2 101.0,247.0 101.6,247.0 101.8,246.8 102.3,246.8 102.5,247.6 103.1,247.6 103.4,245.1 103.9,245.1 104.2,248.3 104.8,248.3 105.0,248.0 105.6,248.0 105.8,250.2 106.4,250.2 106.6,248.0 107.1,248.0 107.3,247.0 107.9,247.0 108.1,245.6 108.7,245.6 108.9,248.3 109.5,248.3 109.7,246.2 110.3,246.2 110.5,247.6 111.1,247.6 111.4,246.1 111.9,246.1 112.2,247.0 112.8,247.0 113.0,246.8 113.5,246.8 113.7,248.9 114.2,248.9 114.4,248.9 114.9,248.9 115.1,254.0 115.6,254.0 115.8,254.0 116.3,254.0 116.5,256.5 117.1,256.5 117.4,253.8 117.9,253.8 118.2,254.0 118.7,254.0 118.9,249.2 119.3,249.2 119.5,250.2 120.0,250.2 120.3,248.6 120.8,248.6 121.1,249.5 121.7,249.5 121.9,249.7 122.4,249.7 122.6,252.7 123.2,252.7 123.4,250.1 123.9,250.1 124.1,248.9 124.7,248.9 125.0,247.1 125.5,247.1 125.8,249.5 126.4,249.5 126.6,248.7 127.2,248.7 127.4,252.1 127.9,252.1 128.1,252.5 128.6,252.5 128.8,255.9 129.2,255.9 129.4,250.1 129.9,250.1 130.1,247.0 130.5,247.0 130.7,244.2 131.2,244.2 131.4,243.2 131.9,243.2 132.1,241.4 132.6,241.4 132.8,244.5 133.4,244.5 133.6,242.0 134.1,242.0 134.3,242.5 134.9,242.5 135.2,240.3 135.7,240.3 136.0,243.2 136.6,243.2 136.8,242.8 137.4,242.8 137.6,245.1 138.1,245.1 138.3,241.9 138.8,241.9 139.0,243.2 139.5,243.2 139.7,242.0 140.3,242.0 140.5,242.6 141.0,242.6 141.2,243.9 141.8,243.9 142.1,241.4 142.6,241.4 142.9,240.7 143.5,240.7 143.7,237.2 144.3,237.2 144.5,239.5 145.1,239.5 145.3,238.3 145.9,238.3 146.1,241.4 146.7,241.4 146.9,240.2 147.4,240.2 147.6,243.3 148.2,243.3 148.4,241.3 149.0,241.3 149.2,242.6 149.8,242.6 150.1,240.1 150.6,240.1 150.9,240.7 151.5,240.7 151.7,238.9 152.2,238.9 152.4,238.8 153.0,238.8 153.2,237.4 153.8,237.4 154.0,237.5 154.6,237.5 154.8,236.5 155.4,236.5 155.6,239.5 156.2,239.5 156.5,237.9 157.0,237.9 157.3,240.7 157.9,240.7 158.1,241.6 158.6,241.6 158.8,244.5 159.4,244.5 159.6,244.1 160.1,244.1 160.3,247.7 160.9,247.7 161.2,247.4 161.7,247.4 162.0,248.4 162.6,248.4 162.8,245.1 163.4,245.1 163.6,245.8 164.2,245.8 164.4,247.6 165.0,247.6 165.2,250.9 165.7,250.9 165.9,249.9 166.3,249.9 166.5,252.2 167.0,252.2 167.2,248.8 167.8,248.8 168.0,247.7 168.6,247.7 168.8,244.3 169.4,244.3 169.6,244.5 170.2,244.5 170.5,246.4 171.0,246.4 171.3,249.6 171.9,249.6 172.1,248.6 172.6,248.6 172.8,250.9 173.4,250.9 173.6,248.6 174.1,248.6 174.3,250.3 174.9,250.3 175.2,248.7 175.7,248.7 176.0,248.4 176.6,248.4 176.8,246.0 177.4,246.0 177.6,245.8 178.2,245.8 178.4,240.5 179.0,240.5 179.2,239.5 179.8,239.5 180.0,237.1 180.5,237.1 180.7,238.2 181.3,238.2 181.5,238.8 182.1,238.8 182.3,243.3 182.9,243.3 183.2,243.4 183.7,243.4 184.0,248.4 184.6,248.4 184.8,246.9 185.3,246.9 185.5,249.0 186.1,249.0 186.3,247.5 186.8,247.5 187.0,247.7 187.6,247.7 187.9,244.6 188.4,244.6 188.7,244.5 189.2,244.5 189.4,240.1 189.9,240.1 190.1,240.7 190.5,240.7 190.7,239.5 191.1,239.5 191.3,242.0 191.8,242.0 192.1,242.2 192.6,242.2 192.9,247.1 193.4,247.1 193.6,248.3 193.9,248.3 194.1,252.1 194.5,252.1 194.7,251.5 195.1,251.5 195.3,254.0 195.8,254.0 196.1,251.7 196.6,251.7 196.9,255.3 197.5,255.3 197.7,253.1 198.3,253.1 198.5,255.9 199.1,255.9 199.3,252.9 199.9,252.9 200.1,254.0 200.7,254.0 200.9,252.5 201.4,252.5 201.6,252.1 202.2,252.1 202.4,249.2 203.0,249.2 203.2,250.2 203.8,250.2 204.1,250.5 204.6,250.5 204.9,251.5 205.5,251.5 205.7,247.1 206.2,247.1 206.4,248.3 206.9,248.3 207.1,242.8 207.6,242.8 207.8,243.2 208.2,243.2 208.4,241.6 208.9,241.6 209.1,244.5 209.6,244.5 209.8,245.7 210.3,245.7 210.5,248.9 211.1,248.9 211.4,248.9 211.9,248.9 212.2,254.0 212.8,254.0 213.0,254.2 213.6,254.2 213.8,255.9 214.4,255.9 214.6,252.1 215.1,252.1 215.3,253.4 215.9,253.4 216.1,252.3 216.7,252.3 216.9,254.6 217.5,254.6 217.7,255.2 218.3,255.2 218.5,256.5 219.1,256.5 219.4,254.8 219.9,254.8 220.2,258.5 220.8,258.5 221.0,255.7 221.5,255.7 221.7,255.9 222.3,255.9 222.5,255.3 223.0,255.3 223.2,259.7 223.8,259.7 224.1,260.1 224.6,260.1 224.9,264.8 225.5,264.8 225.7,263.4 226.3,263.4 226.5,265.5 227.1,265.5 227.3,261.9 227.9,261.9 228.1,263.5 228.7,263.5 228.9,260.8 229.4,260.8 229.6,259.7 230.2,259.7 230.4,256.4 231.0,256.4 231.2,258.5 231.8,258.5 232.1,257.9 232.6,257.9 232.9,259.7 233.5,259.7 233.7,259.0 234.2,259.0 234.4,259.1 235.0,259.1 235.2,258.8 235.8,258.8 236.0,261.0 236.6,261.0 236.8,261.8 237.4,261.8 237.6,263.5 238.2,263.5 238.5,264.3 239.0,264.3 239.3,266.1 239.9,266.1 240.1,265.4 240.6,265.4 240.8,268.6 241.4,268.6 241.6,267.4 242.1,267.4 242.3,267.4 242.8,267.4 243.0,265.4 243.5,265.4 243.7,264.8 244.1,264.8 244.3,264.3 244.8,264.3 245.0,266.0 245.6,266.0" fill="none" stroke="#1b2a38" stroke-width="1.0" stroke-dasharray="0.6 0.7" stroke-linejoin="round" opacity="0.75"/>
<polygon points="34.0,224.1 34.7,224.1 34.9,225.4 35.4,225.4 35.6,221.5 36.0,221.5 36.2,225.8 36.7,225.8 36.9,226.0 37.3,226.0 37.5,228.0 38.0,228.0 38.2,228.5 38.6,228.5 38.7,235.3 39.1,235.3 39.2,236.8 39.7,236.8 39.9,239.7 40.4,239.7 40.6,238.1 41.2,238.1 41.5,239.4 42.2,239.4 42.5,239.4 43.1,239.4 43.4,241.7 44.1,241.7 44.4,241.3 45.0,241.3 45.2,244.4 45.8,244.4 46.0,243.2 46.6,243.2 46.8,241.6 47.4,241.6 47.6,239.4 48.1,239.4 48.3,241.1 48.8,241.1 49.0,241.9 49.4,241.9 49.6,240.0 50.1,240.0 50.3,235.5 50.7,235.5 50.9,234.4 51.3,234.4 51.5,227.9 51.9,227.9 52.1,228.7 52.6,228.7 52.8,223.5 53.3,223.5 53.6,223.4 54.1,223.4 54.4,220.9 55.0,220.9 55.2,225.4 55.8,225.4 56.1,233.0 56.7,233.0 57.0,237.7 57.5,237.7 57.8,236.8 58.3,236.8 58.5,236.4 59.0,236.4 59.2,231.1 59.6,231.1 59.8,234.0 60.2,234.0 60.4,231.7 60.8,231.7 61.0,233.9 61.5,233.9 61.7,232.4 62.1,232.4 62.3,233.7 62.8,233.7 63.0,229.2 63.4,229.2 63.6,234.4 64.1,234.4 64.3,235.5 64.8,235.5 65.0,235.9 65.6,235.9 65.8,230.5 66.3,230.5 66.5,232.0 67.0,232.0 67.2,229.8 67.6,229.8 67.8,227.1 68.3,227.1 68.5,222.8 68.9,222.8 69.1,225.8 69.5,225.8 69.7,225.4 70.1,225.4 70.3,226.1 70.8,226.1 71.0,223.5 71.4,223.5 71.6,223.7 72.1,223.7 72.3,221.5 72.7,221.5 72.9,222.8 73.3,222.8 73.5,221.5 73.9,221.5 74.1,225.4 74.6,225.4 74.8,226.0 75.3,226.0 75.5,225.0 76.0,225.0 76.2,220.3 76.8,220.3 77.2,219.0 77.8,219.0 78.2,215.8 78.7,215.8 78.9,219.1 79.3,219.1 79.5,220.3 79.9,220.3 80.1,223.9 80.6,223.9 80.8,224.1 81.2,224.1 81.4,224.5 81.9,224.5 82.1,221.5 82.6,221.5 82.8,220.4 83.3,220.4 83.5,216.5 84.0,216.5 84.1,221.1 84.5,221.1 84.6,221.5 85.0,221.5 85.2,224.9 85.6,224.9 85.8,226.6 86.3,226.6 86.6,225.5 87.3,225.5 87.6,220.9 88.2,220.9 88.5,220.7 89.2,220.7 89.5,218.4 90.0,218.4 90.2,223.6 90.7,223.6 90.9,224.1 91.4,224.1 91.6,229.5 92.1,229.5 92.3,230.5 92.8,230.5 93.0,232.3 93.5,232.3 93.7,229.2 94.1,229.2 94.3,228.3 94.8,228.3 95.0,224.1 95.5,224.1 95.7,227.6 96.3,227.6 96.5,229.2 97.0,229.2 97.2,232.6 97.7,232.6 97.9,230.5 98.3,230.5 98.5,230.6 99.0,230.6 99.2,227.3 99.7,227.3 99.9,226.1 100.5,226.1 100.7,222.2 101.3,222.2 101.5,222.3 102.0,222.3 102.2,220.3 102.8,220.3 103.2,218.2 103.8,218.2 104.2,213.3 104.7,213.3 104.9,218.4 105.3,218.4 105.5,219.0 105.9,219.0 106.1,224.7 106.6,224.7 106.8,225.4 107.3,225.4 107.6,225.7 108.1,225.7 108.4,222.8 109.0,222.8 109.2,224.8 109.7,224.8 109.9,222.2 110.5,222.2 110.8,223.4 111.5,223.4 111.8,222.8 112.3,222.8 112.5,226.6 113.0,226.6 113.2,227.3 113.7,227.3 113.9,229.5 114.5,229.5 114.7,229.2 115.3,229.2 115.5,230.0 116.0,230.0 116.2,228.5 116.7,228.5 116.9,229.2 117.4,229.2 117.6,227.3 118.1,227.3 118.3,227.7 118.8,227.7 119.0,223.5 119.5,223.5 119.7,226.7 120.2,226.7 120.4,225.4 120.8,225.4 121.0,228.5 121.5,228.5 121.7,229.8 122.2,229.8 122.4,228.8 123.0,228.8 123.2,226.0 123.7,226.0 123.9,227.2 124.4,227.2 124.6,223.5 125.0,223.5 125.2,227.1 125.7,227.1 125.9,226.6 126.3,226.6 126.5,228.4 127.0,228.4 127.2,226.0 127.6,226.0 127.8,226.8 128.2,226.8 128.4,223.5 128.9,223.5 129.2,223.7 129.7,223.7 130.0,219.6 130.6,219.6 130.8,219.1 131.3,219.1 131.5,216.5 132.1,216.5 132.3,216.6 132.8,216.6 133.0,215.8 133.6,215.8 133.9,216.8 134.4,216.8 134.7,215.2 135.2,215.2 135.4,211.7 135.9,211.7 136.1,207.5 136.5,207.5 136.6,212.9 137.0,212.9 137.1,212.6 137.5,212.6 137.7,215.0 138.0,215.0 138.2,213.9 138.7,213.9 138.9,218.6 139.5,218.6 139.7,219.1 140.3,219.1 140.5,221.4 141.0,221.4 141.2,217.8 141.8,217.8 142.1,221.9 142.6,221.9 142.9,221.0 143.5,221.0 143.7,219.7 144.3,219.7 144.5,216.5 145.1,216.5 145.3,220.3 145.9,220.3 146.1,221.6 146.7,221.6 146.9,223.5 147.4,223.5 147.6,224.2 148.2,224.2 148.4,225.7 149.0,225.7 149.2,222.3 149.8,222.3 150.1,223.6 150.6,223.6 150.9,220.4 151.4,220.4 151.6,221.4 152.1,221.4 152.3,219.1 152.7,219.1 152.9,213.7 153.3,213.7 153.5,205.7 154.0,205.7 154.2,207.7 154.8,207.7 155.0,207.6 155.5,207.6 155.7,213.1 156.1,213.1 156.3,215.3 156.7,215.3 156.9,221.0 157.4,221.0 157.6,222.3 158.0,222.3 158.2,226.0 158.7,226.0 158.9,224.2 159.4,224.2 159.6,226.4 160.1,226.4 160.3,223.5 160.9,223.5 161.2,223.9 161.7,223.9 162.0,219.1 162.5,219.1 162.7,221.2 163.1,221.2 163.3,220.4 163.8,220.4 164.0,223.1 164.6,223.1 164.8,222.9 165.4,222.9 165.6,224.3 166.2,224.3 166.4,223.5 166.9,223.5 167.1,224.2 167.6,224.2 167.8,219.1 168.2,219.1 168.3,217.0 168.7,217.0 168.8,213.4 169.2,213.4 169.4,215.7 169.9,215.7 170.1,216.5 170.5,216.5 170.7,221.4 171.2,221.4 171.4,224.2 171.8,224.2 172.0,228.9 172.4,228.9 172.6,228.0 173.0,228.0 173.2,231.6 173.7,231.6 173.9,229.9 174.3,229.9 174.5,229.8 175.0,229.8 175.2,227.4 175.7,227.4 175.9,224.9 176.4,224.9 176.6,217.2 177.1,217.2 177.3,219.3 177.8,219.3 178.0,215.9 178.4,215.9 178.6,212.0 179.1,212.0 179.3,205.1 179.7,205.1 179.9,204.3 180.3,204.3 180.5,201.9 180.9,201.9 181.0,207.1 181.4,207.1 181.5,207.6 181.9,207.6 182.0,214.0 182.3,214.0 182.4,217.8 182.8,217.8 183.0,221.0 183.5,221.0 183.7,222.9 184.2,222.9 184.5,225.3 185.0,225.3 185.3,222.3 185.9,222.3 186.1,223.1 186.6,223.1 186.8,221.0 187.4,221.0 187.6,221.7 188.1,221.7 188.3,219.7 188.8,219.7 189.0,222.9 189.5,222.9 189.7,222.3 190.1,222.3 190.2,226.8 190.6,226.8 190.7,229.3 191.1,229.3 191.3,223.6 191.8,223.6 192.0,217.2 192.4,217.2 192.6,218.2 193.1,218.2 193.3,216.5 193.8,216.5 194.0,221.5 194.5,221.5 194.6,224.4 195.0,224.4 195.1,224.7 195.5,224.7 195.7,223.8 196.1,223.8 196.3,222.2 196.7,222.2 196.9,226.4 197.4,226.4 197.6,227.9 198.1,227.9 198.3,229.6 198.8,229.6 199.0,226.6 199.5,226.6 199.7,224.9 200.2,224.9 200.4,220.9 200.8,220.9 200.9,222.7 201.3,222.7 201.4,220.3 201.8,220.3 202.0,224.8 202.5,224.8 202.7,225.4 203.1,225.4 203.3,227.2 203.8,227.2 204.0,227.3 204.5,227.3 204.7,228.9 205.2,228.9 205.4,229.8 205.9,229.8 206.1,230.0 206.6,230.0 206.8,226.0 207.2,226.0 207.4,228.2 207.9,228.2 208.1,226.6 208.5,226.6 208.7,225.8 209.1,225.8 209.3,222.8 209.8,222.8 210.1,224.3 210.6,224.3 210.9,224.1 211.5,224.1 211.7,227.4 212.3,227.4 212.5,225.4 213.0,225.4 213.2,230.1 213.7,230.1 213.9,229.2 214.4,229.2 214.6,229.2 215.1,229.2 215.3,227.3 215.9,227.3 216.1,227.3 216.7,227.3 216.9,223.5 217.4,223.5 217.6,227.6 218.0,227.6 218.2,227.9 218.6,227.9 218.8,231.9 219.3,231.9 219.5,233.6 220.0,233.6 220.3,235.6 220.8,235.6 221.1,236.8 221.7,236.8 221.9,236.7 222.5,236.7 222.7,234.3 223.3,234.3 223.5,234.7 224.0,234.7 224.2,231.1 224.7,231.1 224.9,232.4 225.4,232.4 225.6,229.8 226.1,229.8 226.3,228.6 226.8,228.6 227.0,224.1 227.5,224.1 227.7,226.3 228.2,226.3 228.4,227.3 228.8,227.3 229.0,231.0 229.5,231.0 229.7,233.0 230.2,233.0 230.4,235.7 231.0,235.7 231.2,236.2 231.7,236.2 231.9,236.7 232.4,236.7 232.6,234.3 233.1,234.3 233.4,234.6 233.9,234.6 234.2,232.4 234.8,232.4 235.0,235.1 235.5,235.1 235.7,232.4 236.3,232.4 236.5,233.6 237.0,233.6 237.2,233.6 237.8,233.6 238.1,237.2 238.6,237.2 238.9,234.9 239.5,234.9 239.7,236.8 240.3,236.8 240.5,236.8 241.1,236.8 241.3,238.5 241.9,238.5 242.1,234.9 242.7,234.9 242.9,238.1 243.4,238.1 243.6,239.4 244.1,239.4 244.2,245.1 244.6,245.1 244.7,247.0 245.0,247.0 245.1,266.0 245.6,266.0 245.6,266.0 245.0,266.0 244.8,264.3 244.3,264.3 244.1,264.8 243.7,264.8 243.5,265.4 243.0,265.4 242.8,267.4 242.3,267.4 242.1,267.4 241.6,267.4 241.4,268.6 240.8,268.6 240.6,265.4 240.1,265.4 239.9,266.1 239.3,266.1 239.0,264.3 238.5,264.3 238.2,263.5 237.6,263.5 237.4,261.8 236.8,261.8 236.6,261.0 236.0,261.0 235.8,258.8 235.2,258.8 235.0,259.1 234.4,259.1 234.2,259.0 233.7,259.0 233.5,259.7 232.9,259.7 232.6,257.9 232.1,257.9 231.8,258.5 231.2,258.5 231.0,256.4 230.4,256.4 230.2,259.7 229.6,259.7 229.4,260.8 228.9,260.8 228.7,263.5 228.1,263.5 227.9,261.9 227.3,261.9 227.1,265.5 226.5,265.5 226.3,263.4 225.7,263.4 225.5,264.8 224.9,264.8 224.6,260.1 224.1,260.1 223.8,259.7 223.2,259.7 223.0,255.3 222.5,255.3 222.3,255.9 221.7,255.9 221.5,255.7 221.0,255.7 220.8,258.5 220.2,258.5 219.9,254.8 219.4,254.8 219.1,256.5 218.5,256.5 218.3,255.2 217.7,255.2 217.5,254.6 216.9,254.6 216.7,252.3 216.1,252.3 215.9,253.4 215.3,253.4 215.1,252.1 214.6,252.1 214.4,255.9 213.8,255.9 213.6,254.2 213.0,254.2 212.8,254.0 212.2,254.0 211.9,248.9 211.4,248.9 211.1,248.9 210.5,248.9 210.3,245.7 209.8,245.7 209.6,244.5 209.1,244.5 208.9,241.6 208.4,241.6 208.2,243.2 207.8,243.2 207.6,242.8 207.1,242.8 206.9,248.3 206.4,248.3 206.2,247.1 205.7,247.1 205.5,251.5 204.9,251.5 204.6,250.5 204.1,250.5 203.8,250.2 203.2,250.2 203.0,249.2 202.4,249.2 202.2,252.1 201.6,252.1 201.4,252.5 200.9,252.5 200.7,254.0 200.1,254.0 199.9,252.9 199.3,252.9 199.1,255.9 198.5,255.9 198.3,253.1 197.7,253.1 197.5,255.3 196.9,255.3 196.6,251.7 196.1,251.7 195.8,254.0 195.3,254.0 195.1,251.5 194.7,251.5 194.5,252.1 194.1,252.1 193.9,248.3 193.6,248.3 193.4,247.1 192.9,247.1 192.6,242.2 192.1,242.2 191.8,242.0 191.3,242.0 191.1,239.5 190.7,239.5 190.5,240.7 190.1,240.7 189.9,240.1 189.4,240.1 189.2,244.5 188.7,244.5 188.4,244.6 187.9,244.6 187.6,247.7 187.0,247.7 186.8,247.5 186.3,247.5 186.1,249.0 185.5,249.0 185.3,246.9 184.8,246.9 184.6,248.4 184.0,248.4 183.7,243.4 183.2,243.4 182.9,243.3 182.3,243.3 182.1,238.8 181.5,238.8 181.3,238.2 180.7,238.2 180.5,237.1 180.0,237.1 179.8,239.5 179.2,239.5 179.0,240.5 178.4,240.5 178.2,245.8 177.6,245.8 177.4,246.0 176.8,246.0 176.6,248.4 176.0,248.4 175.7,248.7 175.2,248.7 174.9,250.3 174.3,250.3 174.1,248.6 173.6,248.6 173.4,250.9 172.8,250.9 172.6,248.6 172.1,248.6 171.9,249.6 171.3,249.6 171.0,246.4 170.5,246.4 170.2,244.5 169.6,244.5 169.4,244.3 168.8,244.3 168.6,247.7 168.0,247.7 167.8,248.8 167.2,248.8 167.0,252.2 166.5,252.2 166.3,249.9 165.9,249.9 165.7,250.9 165.2,250.9 165.0,247.6 164.4,247.6 164.2,245.8 163.6,245.8 163.4,245.1 162.8,245.1 162.6,248.4 162.0,248.4 161.7,247.4 161.2,247.4 160.9,247.7 160.3,247.7 160.1,244.1 159.6,244.1 159.4,244.5 158.8,244.5 158.6,241.6 158.1,241.6 157.9,240.7 157.3,240.7 157.0,237.9 156.5,237.9 156.2,239.5 155.6,239.5 155.4,236.5 154.8,236.5 154.6,237.5 154.0,237.5 153.8,237.4 153.2,237.4 153.0,238.8 152.4,238.8 152.2,238.9 151.7,238.9 151.5,240.7 150.9,240.7 150.6,240.1 150.1,240.1 149.8,242.6 149.2,242.6 149.0,241.3 148.4,241.3 148.2,243.3 147.6,243.3 147.4,240.2 146.9,240.2 146.7,241.4 146.1,241.4 145.9,238.3 145.3,238.3 145.1,239.5 144.5,239.5 144.3,237.2 143.7,237.2 143.5,240.7 142.9,240.7 142.6,241.4 142.1,241.4 141.8,243.9 141.2,243.9 141.0,242.6 140.5,242.6 140.3,242.0 139.7,242.0 139.5,243.2 139.0,243.2 138.8,241.9 138.3,241.9 138.1,245.1 137.6,245.1 137.4,242.8 136.8,242.8 136.6,243.2 136.0,243.2 135.7,240.3 135.2,240.3 134.9,242.5 134.3,242.5 134.1,242.0 133.6,242.0 133.4,244.5 132.8,244.5 132.6,241.4 132.1,241.4 131.9,243.2 131.4,243.2 131.2,244.2 130.7,244.2 130.5,247.0 130.1,247.0 129.9,250.1 129.4,250.1 129.2,255.9 128.8,255.9 128.6,252.5 128.1,252.5 127.9,252.1 127.4,252.1 127.2,248.7 126.6,248.7 126.4,249.5 125.8,249.5 125.5,247.1 125.0,247.1 124.7,248.9 124.1,248.9 123.9,250.1 123.4,250.1 123.2,252.7 122.6,252.7 122.4,249.7 121.9,249.7 121.7,249.5 121.1,249.5 120.8,248.6 120.3,248.6 120.0,250.2 119.5,250.2 119.3,249.2 118.9,249.2 118.7,254.0 118.2,254.0 117.9,253.8 117.4,253.8 117.1,256.5 116.5,256.5 116.3,254.0 115.8,254.0 115.6,254.0 115.1,254.0 114.9,248.9 114.4,248.9 114.2,248.9 113.7,248.9 113.5,246.8 113.0,246.8 112.8,247.0 112.2,247.0 111.9,246.1 111.4,246.1 111.1,247.6 110.5,247.6 110.3,246.2 109.7,246.2 109.5,248.3 108.9,248.3 108.7,245.6 108.1,245.6 107.9,247.0 107.3,247.0 107.1,248.0 106.6,248.0 106.4,250.2 105.8,250.2 105.6,248.0 105.0,248.0 104.8,248.3 104.2,248.3 103.9,245.1 103.4,245.1 103.1,247.6 102.5,247.6 102.3,246.8 101.8,246.8 101.6,247.0 101.0,247.0 100.8,247.2 100.2,247.2 100.0,249.5 99.5,249.5 99.2,249.9 98.8,249.9 98.5,254.0 98.0,254.0 97.8,249.5 97.3,249.5 97.1,248.9 96.5,248.9 96.3,247.4 95.7,247.4 95.5,248.3 94.9,248.3 94.7,248.9 94.1,248.9 93.9,252.1 93.4,252.1 93.2,247.8 92.8,247.8 92.6,248.9 92.1,248.9 91.9,248.3 91.3,248.3 91.1,249.5 90.5,249.5 90.3,247.2 89.7,247.2 89.5,250.2 88.9,250.2 88.6,248.5 88.1,248.5 87.8,249.5 87.2,249.5 87.0,248.9 86.5,248.9 86.3,251.5 85.7,251.5 85.5,250.8 85.0,250.8 84.8,251.7 84.3,251.7 84.1,255.9 83.6,255.9 83.4,251.9 82.8,251.9 82.6,249.5 82.1,249.5 81.9,246.9 81.4,246.9 81.2,250.2 80.8,250.2 80.6,248.2 80.1,248.2 79.9,249.5 79.5,249.5 79.3,244.8 78.9,244.8 78.7,244.5 78.3,244.5 78.1,247.2 77.6,247.2 77.4,252.1 76.9,252.1 76.6,251.4 76.1,251.4 75.8,254.0 75.3,254.0 75.1,254.8 74.7,254.8 74.5,258.5 74.1,258.5 73.9,254.7 73.4,254.7 73.2,253.4 72.8,253.4 72.6,253.5 72.1,253.5 71.9,254.6 71.4,254.6 71.2,253.7 70.7,253.7 70.5,254.0 70.0,254.0 69.8,254.0 69.3,254.0 69.1,254.6 68.7,254.6 68.5,255.7 68.0,255.7 67.8,258.5 67.3,258.5 67.1,255.4 66.6,255.4 66.4,255.3 65.9,255.3 65.7,254.1 65.2,254.1 65.0,254.0 64.5,254.0 64.3,250.7 63.7,250.7 63.5,253.4 62.9,253.4 62.6,253.2 62.1,253.2 61.8,255.9 61.3,255.9 61.1,252.9 60.7,252.9 60.5,254.6 60.1,254.6 59.9,255.8 59.4,255.8 59.2,259.1 58.7,259.1 58.5,259.2 58.0,259.2 57.8,260.4 57.3,260.4 57.1,256.3 56.6,256.3 56.4,257.2 56.0,257.2 55.8,254.6 55.3,254.6 55.1,254.6 54.6,254.6 54.4,251.6 53.9,251.6 53.7,252.1 53.2,252.1 53.0,251.1 52.5,251.1 52.3,255.3 51.9,255.3 51.7,255.1 51.2,255.1 51.0,259.7 50.6,259.7 50.4,260.9 50.0,260.9 49.8,266.1 49.4,266.1 49.2,267.7 48.7,267.7 48.5,271.2 48.0,271.2 47.7,267.3 47.2,267.3 46.9,266.1 46.4,266.1 46.2,266.6 45.8,266.6 45.6,268.0 45.2,268.0 45.0,263.4 44.5,263.4 44.3,264.8 43.9,264.8 43.7,258.8 43.2,258.8 43.0,255.9 42.5,255.9 42.3,252.9 41.7,252.9 41.5,254.6 41.0,254.6 40.8,254.9 40.3,254.9 40.1,257.2 39.6,257.2 39.4,252.2 38.9,252.2 38.7,252.1 38.2,252.1 38.0,248.3 37.5,248.3 37.3,249.5 36.9,249.5 36.7,247.8 36.2,247.8 36.0,247.0 35.6,247.0 35.4,245.7 34.9,245.7 34.7,247.0 34.0,247.0" fill="#64B5CD" stroke="#64B5CD" stroke-width="0.5" stroke-linejoin="round"/>
<path d="M34.7 225.9v21.9M36.4 247.1v-16.6M37.3 226.7v8.7M36.8 248.0v-20.8M37.9 248.1v-14.7M38.6 235.7v9.0M38.7 251.6v-12.7M39.7 237.4v14.6M39.7 254.9v-11.7M40.2 240.7v14.2M40.3 253.2v-14.2M41.1 239.9v15.4M41.4 253.6v-15.4M42.1 239.8v12.5M42.0 252.4v-12.5M42.9 240.5v15.2M43.8 242.8v19.6M43.7 261.0v-19.8M44.4 242.7v14.1M44.7 261.9v-7.9M45.3 245.0v9.7M45.4 267.3v-14.3M46.2 243.4v7.2M46.5 264.6v-7.1M47.4 242.6v5.7M48.0 269.6v-13.4M48.8 243.4v8.4M48.9 266.7v-17.6M50.0 264.1v-12.0M50.5 258.2v-7.5M51.2 230.3v17.5M51.4 254.7v-16.3M52.5 229.1v15.4M52.6 255.1v-6.3M53.1 223.9v14.5M53.4 251.1v-10.7M54.2 224.3v17.3M53.8 251.3v-10.3M54.7 221.4v19.5M55.1 252.8v-13.1M55.9 226.1v13.4M55.4 252.7v-18.5M56.3 234.1v12.1M56.4 256.3v-7.9M57.4 238.3v20.6M57.1 258.9v-21.0M58.0 237.1v21.4M58.4 258.5v-16.2M59.0 233.8v16.1M59.3 258.0v-6.6M59.9 235.0v18.7M61.7 234.2v22.3M61.9 255.4v-6.5M62.3 235.1v18.4M62.6 251.7v-14.0M63.3 230.7v13.1M63.3 252.2v-17.4M64.2 249.0v-14.6M65.9 231.3v20.0M66.1 253.6v-20.2M66.7 232.4v9.0M66.6 253.6v-18.6M67.3 230.8v12.5M67.8 257.6v-5.2M68.2 224.8v5.5M68.3 255.0v-14.6M69.5 226.2v23.8M70.3 226.0v15.4M70.1 253.5v-10.1M71.3 225.2v16.4M71.3 252.9v-11.2M72.1 253.0v-17.6M72.8 223.2v7.1M72.9 253.0v-18.0M74.2 225.8v23.5M74.4 257.6v-5.3M75.4 227.3v21.1M75.2 253.3v-10.8M75.9 224.0v23.9M75.8 250.4v-6.8M77.2 221.1v23.4M76.9 251.4v-5.2M77.7 219.3v14.3M77.9 246.8v-20.2M78.9 217.2v5.9M78.8 242.7v-22.5M79.6 221.1v19.5M79.5 247.7v-22.6M80.5 225.8v15.5M80.4 247.0v-14.1M80.9 225.7v21.7M81.4 249.6v-17.3M81.9 223.1v16.5M82.8 222.1v12.3M83.1 250.1v-15.6M83.7 254.7v-21.0M84.4 221.9v11.3M84.6 251.3v-18.3M85.6 226.5v7.7M85.6 250.2v-22.9M86.5 227.9v19.6M87.4 226.3v20.8M87.4 248.0v-18.0M88.2 221.5v21.3M87.8 247.1v-17.8M88.8 222.4v19.7M88.8 248.1v-7.0M89.5 219.0v17.7M89.6 246.5v-21.6M90.7 224.8v18.6M90.5 248.8v-7.4M91.6 226.3v10.4M91.7 246.4v-12.2M92.0 231.2v9.9M92.2 246.9v-8.0M93.2 246.3v-7.3M94.0 229.9v10.8M94.2 249.3v-13.9M94.6 229.7v19.8M94.7 246.6v-19.8M95.5 228.1v20.1M95.5 246.0v-12.8M96.4 230.3v12.1M97.1 233.0v11.9M97.3 247.5v-15.8M98.3 231.7v22.5M98.1 252.9v-9.8M98.8 230.2v6.0M98.9 248.3v-19.6M100.0 227.6v6.3M100.1 248.8v-22.3M100.7 222.5v5.8M100.6 246.2v-16.9M101.5 245.3v-18.6M102.7 221.7v8.6M102.2 246.5v-17.1M103.5 219.7v21.5M103.4 244.9v-9.4M104.4 214.2v20.5M105.2 219.1v12.4M105.0 246.4v-19.9M105.6 219.7v14.0M105.9 249.2v-19.5M106.8 225.7v16.4M106.5 247.2v-11.5M107.7 226.2v7.2M107.6 246.3v-9.8M108.5 244.4v-19.2M109.1 225.3v11.3M109.0 246.6v-22.1M109.9 223.1v9.0M110.0 245.0v-8.4M110.9 225.2v18.8M110.9 246.8v-15.7M112.0 223.1v22.3M111.8 244.4v-9.5M112.6 228.5v16.9M112.4 246.3v-18.5M113.3 228.6v18.5M114.3 230.4v18.4M115.5 229.6v15.4M115.8 231.3v23.2M116.2 253.1v-11.0M116.9 230.8v20.3M116.6 255.4v-15.4M118.0 229.2v23.5M117.9 252.5v-18.4M118.5 228.0v20.5M119.2 248.2v-9.0M120.0 226.8v21.7M120.1 246.7v-21.7M121.3 229.5v5.8M121.2 247.9v-7.8M122.0 231.2v9.5M122.0 248.6v-18.9M122.7 229.6v5.3M122.6 250.8v-12.9M123.6 227.5v19.4M123.8 248.5v-15.5M125.5 228.7v19.0M125.7 245.7v-15.7M126.0 227.6v15.9M126.3 248.6v-13.2M127.2 247.8v-5.3M128.2 228.7v5.3M127.8 251.8v-13.8M128.9 254.3v-9.8M129.9 224.1v21.4M129.8 249.0v-23.7M130.6 220.7v20.4M131.4 219.6v6.9M131.5 242.9v-22.6M132.4 217.1v13.4M132.5 239.5v-11.3M133.1 216.6v16.8M133.1 244.0v-7.4M134.0 217.5v9.8M133.8 241.0v-8.0M134.5 215.8v8.7M134.9 241.6v-12.5M135.5 238.3v-22.5M136.7 208.3v7.6M136.5 242.6v-13.8M137.4 213.6v5.0M137.1 241.2v-9.9M138.1 215.9v10.3M138.4 243.4v-18.3M139.2 219.9v15.0M139.3 241.6v-9.6M139.6 220.5v21.1M139.7 241.6v-21.9M140.6 222.1v18.0M140.4 241.3v-20.2M141.6 242.5v-8.1M142.2 223.0v8.3M142.5 239.6v-15.5M143.0 222.3v11.0M143.1 239.0v-7.4M143.9 221.1v12.8M143.9 236.3v-7.5M145.1 216.9v12.7M145.2 237.6v-22.0M145.7 220.6v7.2M146.8 223.2v18.4M147.4 224.2v12.1M148.5 227.1v14.8M148.3 240.1v-15.6M149.4 223.3v18.9M149.5 242.2v-8.7M150.1 224.6v15.5M150.3 239.7v-6.7M150.6 240.5v-19.3M151.5 222.5v16.5M152.8 220.5v18.7M152.6 237.2v-18.7M153.6 208.6v15.7M154.1 208.5v21.1M154.2 235.5v-20.6M155.0 208.3v15.8M155.4 234.7v-6.5M156.3 215.0v11.6M155.7 239.1v-20.7M157.4 223.0v9.2M157.6 239.3v-15.0M158.7 227.0v14.6M158.3 240.6v-10.4M160.1 226.2v8.3M160.9 225.6v16.4M161.0 246.7v-22.3M162.1 246.2v-15.3M163.1 222.4v12.1M163.6 221.6v15.7M164.2 246.6v-20.6M165.4 223.5v12.0M165.1 249.0v-17.4M166.5 225.9v6.5M166.5 248.0v-20.1M167.3 250.3v-17.7M167.9 247.8v-15.2M168.7 216.5v8.5M168.5 243.8v-5.1M170.2 217.5v11.9M170.7 245.8v-16.2M171.6 223.9v13.3M171.1 248.6v-14.0M172.2 229.9v6.9M173.1 229.6v7.4M173.1 249.6v-14.0M174.1 231.3v17.5M173.9 247.1v-9.2M174.7 231.2v19.5M175.5 228.9v10.8M175.7 248.5v-20.3M176.5 225.5v15.0M177.1 220.1v15.3M177.1 244.2v-9.7M177.9 217.5v20.4M178.1 244.8v-15.0M179.9 206.0v20.8M180.1 237.9v-10.1M180.9 203.6v23.6M180.4 236.3v-12.9M181.3 207.7v20.0M181.7 237.6v-21.0M182.6 216.2v5.0M182.4 241.3v-20.2M183.0 221.8v19.3M182.9 242.5v-21.5M184.2 223.7v14.9M184.2 246.6v-19.1M184.9 225.7v12.8M184.7 246.6v-10.9M185.9 223.6v18.7M185.7 248.3v-15.7M186.6 247.1v-10.0M187.5 246.1v-17.1M188.1 220.6v7.4M188.0 243.5v-7.5M189.0 223.5v5.0M189.1 243.7v-12.9M189.8 224.1v5.1M190.2 238.7v-8.9M190.9 230.7v9.2M190.8 239.2v-9.2M191.5 241.2v-17.4M192.4 241.0v-22.8M193.2 216.9v20.1M193.5 246.0v-17.2M194.3 222.0v9.0M194.0 251.3v-7.8M194.9 225.9v6.7M194.9 250.3v-5.5M196.0 224.6v16.2M197.9 229.5v23.2M197.6 253.1v-15.8M198.6 231.1v13.1M199.5 227.7v10.0M200.1 224.9v15.1M200.0 253.0v-6.3M200.8 223.9v7.5M202.1 222.2v14.4M201.8 251.2v-8.9M202.8 226.7v22.8M203.3 228.7v16.1M203.5 248.3v-17.2M204.4 229.3v10.1M204.6 250.1v-9.0M205.5 230.1v7.2M206.1 230.3v7.9M206.2 245.3v-16.1M207.3 227.5v10.0M207.2 244.3v-16.6M207.6 229.4v9.6M207.8 242.7v-13.7M209.5 243.8v-12.4M210.6 225.3v21.6M210.4 245.3v-13.7M211.0 225.7v16.6M211.1 247.1v-22.6M212.4 228.2v12.4M212.1 250.8v-5.7M213.1 225.8v20.8M212.8 252.8v-6.0M214.7 229.6v21.9M214.7 250.8v-7.5M215.8 228.0v5.2M215.3 251.8v-21.5M216.1 228.6v16.6M216.4 251.9v-19.6M217.4 224.7v9.8M217.2 254.0v-23.3M218.3 229.0v16.0M217.9 254.2v-16.1M219.1 233.0v16.4M218.8 255.4v-10.5M219.6 235.3v11.8M220.7 235.8v6.4M221.4 238.4v8.0M221.2 255.1v-16.1M222.3 238.6v18.1M222.2 254.8v-14.8M223.1 234.9v5.0M223.1 256.1v-14.7M224.1 235.8v16.3M224.2 258.7v-13.6M225.0 233.8v8.1M225.6 230.3v20.4M226.6 230.4v23.1M226.4 264.7v-15.9M227.6 225.7v17.3M227.4 260.0v-21.5M228.3 228.5v23.7M228.3 262.0v-11.2M228.9 232.1v9.3M229.0 258.8v-6.3M230.2 234.6v14.2M230.0 258.6v-18.4M230.7 237.5v7.4M230.9 255.3v-14.7M231.9 238.0v5.7M231.9 257.8v-8.0M232.6 235.9v16.5M233.3 235.0v12.8M234.3 257.9v-11.8M235.3 237.0v11.5M235.9 234.3v6.4M235.8 258.0v-11.9M236.8 234.5v23.1M236.8 259.8v-16.6M237.8 235.0v5.2M237.3 261.5v-6.4M238.2 238.4v17.1M238.6 262.4v-8.0M239.4 236.1v23.0M240.0 237.6v17.7M240.3 264.6v-21.3M240.9 237.1v6.2M241.8 239.5v17.0M242.7 237.1v7.8M243.0 267.0v-6.1M243.3 239.6v17.3M243.5 264.2v-19.4M244.4 263.5v-7.5" stroke="#173345" stroke-width="0.55" stroke-dasharray="1.1 0.9 0.6 1.3 1.7 0.8" opacity="0.42" fill="none"/>
<path d="M34.4 224.3v5.9M35.3 225.6v2.8M36.1 247.3v-4.1M37.0 226.2v2.7M37.9 248.1v-5.6M39.6 237.0v5.0M40.4 254.7v-4.8M41.3 238.4v6.7M42.1 239.6v4.7M43.0 239.6v6.6M43.8 262.4v-4.7M44.7 263.2v-6.1M45.5 267.8v-3.5M47.2 241.8v3.2M48.9 267.5v-2.8M49.8 265.9v-4.9M50.6 259.5v-2.6M51.5 254.9v-3.1M52.3 228.9v3.5M53.2 251.8v-2.8M54.0 223.6v6.3M54.9 221.1v4.6M55.7 254.4v-3.2M56.6 256.5v-2.6M57.4 237.9v6.7M58.3 237.0v2.5M59.1 258.9v-2.1M60.0 255.2v-6.9M60.8 252.7v-6.0M61.7 232.8v4.9M62.5 253.0v-2.6M63.4 253.2v-2.5M64.2 250.5v-5.6M65.9 230.7v2.4M66.8 232.2v6.2M67.6 230.0v6.8M69.3 253.9v-5.4M70.2 253.8v-4.7M71.0 253.5v-3.3M71.9 254.4v-4.0M72.7 221.7v4.2M73.6 254.5v-5.9M75.3 226.2v4.3M77.0 251.9v-1.9M77.8 247.0v-6.3M78.7 216.0v4.7M79.5 220.5v7.0M80.4 224.1v6.7M81.2 250.0v-2.7M82.1 222.0v6.7M82.9 220.6v3.0M85.5 250.6v-6.3M87.2 249.1v-2.9M88.0 221.1v3.2M88.9 249.7v-1.9M89.7 218.6v3.4M90.6 223.8v5.6M91.4 248.1v-4.6M92.3 248.7v-3.6M94.8 248.4v-6.2M95.7 247.5v-2.0M97.4 232.8v3.4M98.2 253.8v-6.9M99.1 249.7v-4.5M99.9 249.3v-4.5M100.8 222.4v2.5M101.6 222.5v5.1M102.5 220.5v6.1M103.3 245.4v-3.4M104.2 213.5v6.3M105.0 247.8v-1.7M105.9 219.2v5.2M106.7 225.3v4.7M108.4 245.4v-6.7M109.3 248.1v-1.6M110.1 246.0v-3.2M111.0 247.4v-6.4M111.8 245.9v-4.2M112.7 246.8v-2.3M113.5 246.6v-2.7M114.4 248.7v-6.8M115.2 253.8v-5.6M116.1 253.8v-1.7M116.9 256.3v-6.2M117.8 227.5v6.6M118.6 227.9v1.7M119.5 223.7v4.7M121.2 228.7v6.3M122.9 252.5v-6.3M123.7 249.9v-3.4M124.6 224.1v2.7M125.4 227.3v4.7M126.3 226.8v3.8M127.1 227.1v4.8M128.8 223.7v3.6M129.7 249.9v-1.8M131.4 243.1v-3.4M132.2 216.8v4.8M133.1 244.3v-4.9M134.8 242.3v-3.7M135.6 211.9v5.3M136.5 243.0v-3.3M137.3 212.8v3.3M138.2 214.5v1.7M139.0 243.0v-1.8M139.9 241.8v-5.9M140.7 221.6v2.5M141.6 243.7v-2.5M142.4 241.2v-1.7M143.3 240.5v-2.1M144.1 237.0v-3.6M145.0 239.3v-4.4M145.8 238.1v-3.7M146.7 241.2v-2.3M147.5 224.0v6.0M148.4 225.5v4.6M150.1 239.9v-5.2M150.9 220.6v5.8M151.8 221.6v3.7M152.6 238.6v-6.3M153.5 237.2v-6.4M154.3 207.9v1.7M155.2 207.8v3.9M156.0 213.3v2.2M157.7 222.5v4.8M158.6 241.4v-2.5M160.3 224.8v1.5M161.1 247.2v-6.8M162.8 245.2v-1.6M165.4 223.1v5.3M166.2 249.7v-3.0M167.1 224.2v6.2M168.8 245.1v-2.9M169.6 244.3v-1.5M170.5 216.7v5.3M171.3 249.4v-3.3M172.2 248.4v-5.6M173.0 228.2v2.5M173.9 248.4v-5.3M174.7 250.1v-3.4M175.6 227.6v1.7M176.4 225.1v6.8M177.3 218.7v1.7M179.0 212.2v5.4M179.8 204.9v3.4M181.5 207.7v6.2M182.4 243.1v-6.6M183.2 221.2v7.0M184.1 248.2v-6.2M184.9 246.7v-5.5M185.8 248.8v-6.3M186.6 223.3v4.5M187.5 247.5v-1.5M188.3 220.2v2.9M189.2 244.3v-6.1M190.0 240.3v-4.3M190.9 239.3v-4.6M191.7 241.8v-6.2M192.6 218.0v2.8M195.1 251.3v-1.9M196.0 252.4v-3.8M196.8 253.7v-4.5M197.7 253.5v-2.7M199.4 226.8v3.5M200.2 253.8v-4.3M201.1 222.9v3.4M201.9 222.2v6.8M202.8 249.0v-1.7M203.6 250.0v-3.0M204.5 250.3v-5.8M205.3 229.5v6.4M206.2 230.2v4.1M207.0 246.1v-1.8M207.9 228.4v4.5M209.6 223.0v6.5M210.4 246.7v-3.0M211.3 224.3v1.8M212.1 227.6v4.7M213.8 255.6v-5.9M216.4 227.5v5.1M217.2 223.7v6.2M218.1 255.0v-1.6M218.9 256.3v-2.7M220.6 235.8v3.4M221.5 255.5v-1.7M223.2 234.5v2.0M224.0 259.8v-2.2M224.9 232.1v5.9M225.7 230.0v1.5M226.6 228.8v4.1M227.4 261.7v-1.9M228.3 226.9v3.0M229.1 231.2v5.7M230.0 233.2v4.4M230.8 235.9v4.5M232.5 257.7v-5.7M233.4 259.5v-4.2M234.2 232.6v2.9M235.1 235.3v4.3M235.9 259.7v-6.1M237.6 263.2v-4.1M241.0 268.4v-3.6M241.9 238.7v4.4M243.6 239.1v4.4M244.4 264.1v-1.7" stroke="#1f3a47" stroke-width="0.55" stroke-dasharray="0.7 0.7" opacity="0.6" fill="none"/>
<path d="M35.8 221.8v5.4M59.4 231.4v4.4M63.2 229.5v6.0M68.7 223.1v4.5M78.5 216.1v4.7M83.8 216.8v5.4M95.2 224.4v5.0M104.5 213.6v6.4M119.3 223.8v4.7M124.8 223.8v5.1M136.3 207.8v5.7M141.5 218.1v5.1M144.8 216.8v4.7M217.2 223.8v5.3M242.4 235.2v4.7M48.3 270.9v-5.0M61.5 255.6v-4.2M67.6 258.2v-4.3M74.3 258.2v-5.2M83.9 255.6v-5.5M93.6 251.8v-4.7M98.3 253.7v-5.6M122.9 252.4v-4.1M129.0 255.6v-4.9M133.1 244.2v-4.0M198.8 255.6v-4.3M220.5 258.2v-4.3" stroke="#14232e" stroke-width="0.7" stroke-dasharray="0.8 0.7" opacity="0.7" fill="none"/>
<text x="64.5" y="340.0" font-size="5.2" text-anchor="middle">5000</text>
<text x="94.0" y="340.0" font-size="5.2" text-anchor="middle">10,000</text>
<text x="123.8" y="340.0" font-size="5.2" text-anchor="middle">15,000</text>
<text x="153.5" y="340.0" font-size="5.2" text-anchor="middle">20,000</text>
<text x="183.3" y="340.0" font-size="5.2" text-anchor="middle">25,000</text>
<text x="211.9" y="340.0" font-size="5.2" text-anchor="middle">30,000</text>
<text x="241.7" y="340.0" font-size="5.2" text-anchor="middle">35,000</text>
<text x="20" y="311.9" font-size="5.2" text-anchor="end">5</text>
<text x="20" y="295.8" font-size="5.2" text-anchor="end">10</text>
<text x="20" y="279.8" font-size="5.2" text-anchor="end">15</text>
<text x="20" y="263.7" font-size="5.2" text-anchor="end">20</text>
<text x="20" y="247.6" font-size="5.2" text-anchor="end">25</text>
<text x="20" y="231.5" font-size="5.2" text-anchor="end">30</text>
<text x="20" y="215.5" font-size="5.2" text-anchor="end">35</text>
<text x="20" y="199.4" font-size="5.2" text-anchor="end">40</text>
<text x="10.7" y="263.9" font-size="4.8" text-anchor="middle" transform="rotate(-90 10.7 263.9)">°C</text>
<text x="139.4" y="347.7" font-size="5.77" text-anchor="middle">Item number (5min average)</text>
<text transform="translate(244.8 361.2) scale(1 1.08)" font-size="11.8" text-anchor="end">(c)</text>
<rect x="206.3" y="198.2" width="44.5" height="24.2" rx="1.2" fill="#EAEAF2" fill-opacity="0.8" stroke="#cfcfd6" stroke-width="0.6"/><circle cx="213.2" cy="202.5" r="0.75" fill="#4C72B0"/><circle cx="213.2" cy="210.1" r="0.75" fill="#111"/><line x1="208.2" x2="218.2" y1="217.4" y2="217.4" stroke="#64B5CD" stroke-width="0.9"/><text x="223.2" y="204.1" font-size="5.03">Train</text><text x="223.2" y="211.3" font-size="5.03">Test</text><text x="223.2" y="218.9" font-size="5.03">Predictions</text>
<rect x="291.2" y="198.4" width="224.00000000000006" height="129.9" fill="#EAEAF2"/>
<path d="M300.4 262V323.7" stroke="#64B5CD" stroke-width="0.8"/><circle cx="300.4" cy="323.7" r="0.6" fill="#4C72B0"/>
<path d="M300.1,222.0 300.9,222.0 301.4,219.6 302.2,219.6 302.8,224.0 303.6,224.0 304.9,215.3 305.8,215.3 306.6,219.0 307.4,219.0 307.8,229.0 308.6,229.0 308.9,224.0 309.8,224.0 310.9,216.4 311.8,216.4 312.6,218.0 313.4,218.0 313.9,213.1 314.8,213.1 316.1,221.8 316.9,221.8 318.2,234.0 319.1,234.0 320.4,221.8 321.3,221.8 321.8,212.0 322.6,212.0 323.2,208.2 324.1,208.2 324.6,210.0 325.4,210.0 325.8,225.0 326.6,225.0 327.4,210.9 328.3,210.9 329.1,212.0 329.9,212.0 331.1,210.4 331.9,210.4 333.2,212.0 334.1,212.0 334.6,217.4 335.4,217.4 335.9,216.0 336.8,216.0 337.2,207.6 338.1,207.6 338.6,214.0 339.4,214.0 339.8,217.4 340.6,217.4 341.2,219.0 342.1,219.0 342.8,234.0 343.6,234.0 344.4,220.0 345.2,220.0 346.4,208.7 347.3,208.7 348.1,210.0 348.9,210.0 349.1,222.0 349.9,222.0 350.2,223.4 351.1,223.4 351.6,226.0 352.4,226.0 352.9,238.0 353.8,238.0 355.4,213.1 356.2,213.1 357.1,218.0 357.9,218.0 358.7,212.0 359.6,212.0 359.9,215.0 360.8,215.0 361.7,209.3 362.6,209.3 363.6,212.0 364.4,212.0 365.9,204.4 366.8,204.4 367.9,208.0 368.8,208.0 369.6,218.6 370.4,218.6 371.8,224.0 372.6,224.0 374.2,211.0 375.1,211.0 375.9,213.0 376.8,213.0 378.1,207.1 378.9,207.1 379.9,210.0 380.8,210.0 381.1,221.8 381.9,221.8 382.9,216.4 383.8,216.4 385.4,212.0 386.2,212.0 386.9,212.0 387.8,212.0 388.7,206.0 389.6,206.0 390.4,209.0 391.2,209.0 391.9,212.0 392.8,212.0 394.4,225.0 395.2,225.0 397.2,218.6 398.1,218.6 399.1,214.0 399.9,214.0 400.6,207.6 401.4,207.6 403.6,206.5 404.4,206.5 406.4,206.0 407.2,206.0 408.4,218.6 409.2,218.6 410.9,217.5 411.8,217.5 413.4,221.8 414.2,221.8 416.2,214.7 417.1,214.7 418.9,221.8 419.8,221.8 421.4,228.4 422.2,228.4 424.1,213.0 424.9,213.0 425.4,211.0 426.3,211.0 427.4,213.0 428.2,213.0 428.6,218.6 429.4,218.6 430.1,214.2 430.9,214.2 432.2,221.8 433.1,221.8 434.8,212.0 435.6,212.0 437.2,221.8 438.1,221.8 439.6,214.7 440.4,214.7 441.8,227.3 442.6,227.3 443.2,230.6 444.1,230.6 445.2,221.8 446.1,221.8 447.7,215.3 448.6,215.3 450.2,221.8 451.1,221.8 451.9,218.0 452.8,218.0 453.8,214.2 454.6,214.2 455.8,224.0 456.6,224.0 457.9,218.6 458.8,218.6 460.6,220.7 461.4,220.7 462.9,211.0 463.8,211.0 464.8,219.7 465.6,219.7 466.6,214.2 467.4,214.2 468.6,236.0 469.4,236.0 470.1,229.5 470.9,229.5 471.9,222.0 472.8,222.0 473.7,203.8 474.6,203.8 475.4,212.0 476.1,212.0 476.3,219.7 477.1,219.7 477.9,221.8 478.8,221.8 480.2,227.3 481.1,227.3 482.2,218.0 483.1,218.0 483.6,216.4 484.4,216.4 485.4,220.0 486.2,220.0 486.8,240.4 487.6,240.4 488.2,228.0 489.0,228.0 489.4,218.6 490.2,218.6 491.2,225.0 492.1,225.0 493.1,220.2 493.9,220.2 495.4,228.4 496.3,228.4 498.2,243.7 499.1,243.7 500.1,236.0 500.9,236.0 502.2,229.0 503.1,229.0 504.1,231.0 504.8,231.0 505.1,233.8 505.8,233.8 506.2,262.0 507.1,262.0" fill="none" stroke="#1b2a38" stroke-width="1.0" stroke-dasharray="0.6 0.7" stroke-linejoin="round" opacity="0.75"/>
<path d="M299.9,273.0 300.8,273.0 301.9,271.7 302.8,271.7 304.1,278.2 304.9,278.2 305.6,262.0 306.4,262.0 307.6,261.8 308.4,261.8 309.4,269.0 310.2,269.0 311.1,259.7 311.9,259.7 312.9,266.2 313.8,266.2 315.1,256.4 315.9,256.4 316.6,262.0 317.4,262.0 319.4,284.8 320.2,284.8 321.2,262.0 322.0,262.0 322.3,242.0 323.1,242.0 323.4,256.0 324.2,256.0 324.6,264.6 325.4,264.6 326.4,256.4 327.2,256.4 327.9,252.0 328.8,252.0 329.2,246.5 330.1,246.5 330.9,252.0 331.8,252.0 332.2,262.0 333.0,262.0 333.3,275.5 334.1,275.5 334.8,265.0 335.6,265.0 336.6,265.0 337.4,265.0 338.2,273.8 339.1,273.8 339.9,262.0 340.7,262.0 341.1,261.8 341.9,261.8 342.6,270.0 343.4,270.0 343.9,283.7 344.8,283.7 345.4,262.0 346.0,262.0 346.3,246.0 346.8,246.0 347.1,262.0 347.8,262.0 348.2,277.7 349.1,277.7 349.8,262.0 350.6,262.0 350.8,262.0 351.6,262.0 352.4,286.0 353.2,286.0 354.2,291.3 355.1,291.3 356.2,262.0 357.0,262.0 357.2,251.0 357.9,251.0 358.2,243.0 358.8,243.0 359.1,251.0 359.7,251.0 359.9,255.3 360.6,255.3 361.6,251.0 362.4,251.0 364.4,258.0 365.2,258.0 366.4,248.7 367.2,248.7 367.6,262.0 368.4,262.0 368.7,287.0 369.6,287.0 369.9,262.0 370.8,262.0 371.9,271.0 372.8,271.0 373.6,260.0 374.4,260.0 374.6,251.0 375.4,251.0 376.6,248.7 377.4,248.7 378.2,242.0 379.0,242.0 379.3,254.0 380.1,254.0 380.6,265.0 381.4,265.0 382.4,256.4 383.2,256.4 383.8,257.5 384.6,257.5 385.2,256.0 386.1,256.0 387.1,264.6 387.9,264.6 388.4,252.0 389.1,252.0 389.4,245.5 390.1,245.5 390.4,256.0 391.2,256.0 392.2,265.0 393.1,265.0 393.9,259.7 394.8,259.7 395.1,259.7 395.9,259.7 396.7,272.2 397.6,272.2 398.1,262.0 398.9,262.0 399.6,277.1 400.4,277.1 401.2,262.0 402.1,262.0 402.6,252.0 403.4,252.0 403.9,245.5 404.8,245.5 405.6,244.0 406.4,244.0 407.6,244.0 408.4,244.0 408.6,260.7 409.4,260.7 410.1,247.0 410.9,247.0 412.6,247.6 413.4,247.6 414.6,251.0 415.4,251.0 415.8,262.0 416.6,262.0 417.8,294.0 418.6,294.0 419.6,268.0 420.4,268.0 421.6,262.0 422.4,262.0 423.2,269.5 424.1,269.5 424.4,255.0 425.0,255.0 425.3,247.6 425.8,247.6 426.1,253.0 426.8,253.0 427.4,259.0 428.2,259.0 428.9,252.0 429.6,252.0 429.9,249.8 430.6,249.8 430.8,258.0 431.6,258.0 432.2,273.8 433.1,273.8 433.9,255.0 434.7,255.0 435.1,250.0 435.9,250.0 437.1,251.0 437.9,251.0 438.4,257.5 439.2,257.5 439.8,255.0 440.6,255.0 441.1,268.0 441.9,268.0 443.2,300.5 444.1,300.5 445.1,268.0 445.8,268.0 446.0,262.0 446.7,262.0 446.9,269.5 447.8,269.5 448.4,262.0 449.0,262.0 449.3,262.0 449.9,262.0 450.6,276.0 451.4,276.0 452.1,268.0 452.9,268.0 453.6,270.0 454.4,270.0 455.6,283.7 456.4,283.7 456.9,262.0 457.8,262.0 458.2,266.2 459.1,266.2 459.8,258.6 460.6,258.6 461.9,250.0 462.7,250.0 463.0,258.0 463.7,258.0 464.1,264.6 464.9,264.6 465.4,256.0 466.0,256.0 466.3,248.0 466.8,248.0 467.0,262.0 467.8,262.0 468.6,270.6 469.4,270.6 470.7,272.2 471.6,272.2 472.4,264.0 473.3,264.0 473.9,264.0 474.8,264.0 475.1,266.0 475.9,266.0 476.4,278.2 477.2,278.2 477.8,262.0 478.6,262.0 478.9,251.0 479.5,251.0 479.8,262.0 480.2,262.0 480.5,270.0 481.1,270.0 481.6,262.0 482.4,262.0 482.9,241.5 483.7,241.5 484.0,262.0 484.8,262.0 485.2,272.0 486.1,272.0 486.6,287.5 487.4,287.5 488.1,272.0 488.9,272.0 489.8,280.4 490.6,280.4 491.4,266.0 492.2,266.0 492.6,256.0 493.4,256.0 494.2,249.0 495.1,249.0 495.6,262.0 496.4,262.0 497.1,270.0 497.9,270.0 498.6,278.8 499.4,278.8 500.1,266.0 500.9,266.0 501.6,259.7 502.4,259.7 503.4,262.0 504.2,262.0 505.1,276.0 505.9,276.0 506.2,266.0 507.1,266.0" fill="none" stroke="#1b2a38" stroke-width="1.0" stroke-dasharray="0.6 0.7" stroke-linejoin="round" opacity="0.75"/>
<polygon points="300.1,222.0 300.9,222.0 301.4,219.6 302.2,219.6 302.8,224.0 303.6,224.0 304.9,215.3 305.8,215.3 306.6,219.0 307.4,219.0 307.8,229.0 308.6,229.0 308.9,224.0 309.8,224.0 310.9,216.4 311.8,216.4 312.6,218.0 313.4,218.0 313.9,213.1 314.8,213.1 316.1,221.8 316.9,221.8 318.2,234.0 319.1,234.0 320.4,221.8 321.3,221.8 321.8,212.0 322.6,212.0 323.2,208.2 324.1,208.2 324.6,210.0 325.4,210.0 325.8,225.0 326.6,225.0 327.4,210.9 328.3,210.9 329.1,212.0 329.9,212.0 331.1,210.4 331.9,210.4 333.2,212.0 334.1,212.0 334.6,217.4 335.4,217.4 335.9,216.0 336.8,216.0 337.2,207.6 338.1,207.6 338.6,214.0 339.4,214.0 339.8,217.4 340.6,217.4 341.2,219.0 342.1,219.0 342.8,234.0 343.6,234.0 344.4,220.0 345.2,220.0 346.4,208.7 347.3,208.7 348.1,210.0 348.9,210.0 349.1,222.0 349.9,222.0 350.2,223.4 351.1,223.4 351.6,226.0 352.4,226.0 352.9,238.0 353.8,238.0 355.4,213.1 356.2,213.1 357.1,218.0 357.9,218.0 358.7,212.0 359.6,212.0 359.9,215.0 360.8,215.0 361.7,209.3 362.6,209.3 363.6,212.0 364.4,212.0 365.9,204.4 366.8,204.4 367.9,208.0 368.8,208.0 369.6,218.6 370.4,218.6 371.8,224.0 372.6,224.0 374.2,211.0 375.1,211.0 375.9,213.0 376.8,213.0 378.1,207.1 378.9,207.1 379.9,210.0 380.8,210.0 381.1,221.8 381.9,221.8 382.9,216.4 383.8,216.4 385.4,212.0 386.2,212.0 386.9,212.0 387.8,212.0 388.7,206.0 389.6,206.0 390.4,209.0 391.2,209.0 391.9,212.0 392.8,212.0 394.4,225.0 395.2,225.0 397.2,218.6 398.1,218.6 399.1,214.0 399.9,214.0 400.6,207.6 401.4,207.6 403.6,206.5 404.4,206.5 406.4,206.0 407.2,206.0 408.4,218.6 409.2,218.6 410.9,217.5 411.8,217.5 413.4,221.8 414.2,221.8 416.2,214.7 417.1,214.7 418.9,221.8 419.8,221.8 421.4,228.4 422.2,228.4 424.1,213.0 424.9,213.0 425.4,211.0 426.3,211.0 427.4,213.0 428.2,213.0 428.6,218.6 429.4,218.6 430.1,214.2 430.9,214.2 432.2,221.8 433.1,221.8 434.8,212.0 435.6,212.0 437.2,221.8 438.1,221.8 439.6,214.7 440.4,214.7 441.8,227.3 442.6,227.3 443.2,230.6 444.1,230.6 445.2,221.8 446.1,221.8 447.7,215.3 448.6,215.3 450.2,221.8 451.1,221.8 451.9,218.0 452.8,218.0 453.8,214.2 454.6,214.2 455.8,224.0 456.6,224.0 457.9,218.6 458.8,218.6 460.6,220.7 461.4,220.7 462.9,211.0 463.8,211.0 464.8,219.7 465.6,219.7 466.6,214.2 467.4,214.2 468.6,236.0 469.4,236.0 470.1,229.5 470.9,229.5 471.9,222.0 472.8,222.0 473.7,203.8 474.6,203.8 475.4,212.0 476.1,212.0 476.3,219.7 477.1,219.7 477.9,221.8 478.8,221.8 480.2,227.3 481.1,227.3 482.2,218.0 483.1,218.0 483.6,216.4 484.4,216.4 485.4,220.0 486.2,220.0 486.8,240.4 487.6,240.4 488.2,228.0 489.0,228.0 489.4,218.6 490.2,218.6 491.2,225.0 492.1,225.0 493.1,220.2 493.9,220.2 495.4,228.4 496.3,228.4 498.2,243.7 499.1,243.7 500.1,236.0 500.9,236.0 502.2,229.0 503.1,229.0 504.1,231.0 504.8,231.0 505.1,233.8 505.8,233.8 506.2,262.0 507.1,262.0 507.1,266.0 506.2,266.0 505.9,276.0 505.1,276.0 504.2,262.0 503.4,262.0 502.4,259.7 501.6,259.7 500.9,266.0 500.1,266.0 499.4,278.8 498.6,278.8 497.9,270.0 497.1,270.0 496.4,262.0 495.6,262.0 495.1,249.0 494.2,249.0 493.4,256.0 492.6,256.0 492.2,266.0 491.4,266.0 490.6,280.4 489.8,280.4 488.9,272.0 488.1,272.0 487.4,287.5 486.6,287.5 486.1,272.0 485.2,272.0 484.8,262.0 484.0,262.0 483.7,241.5 482.9,241.5 482.4,262.0 481.6,262.0 481.1,270.0 480.5,270.0 480.2,262.0 479.8,262.0 479.5,251.0 478.9,251.0 478.6,262.0 477.8,262.0 477.2,278.2 476.4,278.2 475.9,266.0 475.1,266.0 474.8,264.0 473.9,264.0 473.3,264.0 472.4,264.0 471.6,272.2 470.7,272.2 469.4,270.6 468.6,270.6 467.8,262.0 467.0,262.0 466.8,248.0 466.3,248.0 466.0,256.0 465.4,256.0 464.9,264.6 464.1,264.6 463.7,258.0 463.0,258.0 462.7,250.0 461.9,250.0 460.6,258.6 459.8,258.6 459.1,266.2 458.2,266.2 457.8,262.0 456.9,262.0 456.4,283.7 455.6,283.7 454.4,270.0 453.6,270.0 452.9,268.0 452.1,268.0 451.4,276.0 450.6,276.0 449.9,262.0 449.3,262.0 449.0,262.0 448.4,262.0 447.8,269.5 446.9,269.5 446.7,262.0 446.0,262.0 445.8,268.0 445.1,268.0 444.1,300.5 443.2,300.5 441.9,268.0 441.1,268.0 440.6,255.0 439.8,255.0 439.2,257.5 438.4,257.5 437.9,251.0 437.1,251.0 435.9,250.0 435.1,250.0 434.7,255.0 433.9,255.0 433.1,273.8 432.2,273.8 431.6,258.0 430.8,258.0 430.6,249.8 429.9,249.8 429.6,252.0 428.9,252.0 428.2,259.0 427.4,259.0 426.8,253.0 426.1,253.0 425.8,247.6 425.3,247.6 425.0,255.0 424.4,255.0 424.1,269.5 423.2,269.5 422.4,262.0 421.6,262.0 420.4,268.0 419.6,268.0 418.6,294.0 417.8,294.0 416.6,262.0 415.8,262.0 415.4,251.0 414.6,251.0 413.4,247.6 412.6,247.6 410.9,247.0 410.1,247.0 409.4,260.7 408.6,260.7 408.4,244.0 407.6,244.0 406.4,244.0 405.6,244.0 404.8,245.5 403.9,245.5 403.4,252.0 402.6,252.0 402.1,262.0 401.2,262.0 400.4,277.1 399.6,277.1 398.9,262.0 398.1,262.0 397.6,272.2 396.7,272.2 395.9,259.7 395.1,259.7 394.8,259.7 393.9,259.7 393.1,265.0 392.2,265.0 391.2,256.0 390.4,256.0 390.1,245.5 389.4,245.5 389.1,252.0 388.4,252.0 387.9,264.6 387.1,264.6 386.1,256.0 385.2,256.0 384.6,257.5 383.8,257.5 383.2,256.4 382.4,256.4 381.4,265.0 380.6,265.0 380.1,254.0 379.3,254.0 379.0,242.0 378.2,242.0 377.4,248.7 376.6,248.7 375.4,251.0 374.6,251.0 374.4,260.0 373.6,260.0 372.8,271.0 371.9,271.0 370.8,262.0 369.9,262.0 369.6,287.0 368.7,287.0 368.4,262.0 367.6,262.0 367.2,248.7 366.4,248.7 365.2,258.0 364.4,258.0 362.4,251.0 361.6,251.0 360.6,255.3 359.9,255.3 359.7,251.0 359.1,251.0 358.8,243.0 358.2,243.0 357.9,251.0 357.2,251.0 357.0,262.0 356.2,262.0 355.1,291.3 354.2,291.3 353.2,286.0 352.4,286.0 351.6,262.0 350.8,262.0 350.6,262.0 349.8,262.0 349.1,277.7 348.2,277.7 347.8,262.0 347.1,262.0 346.8,246.0 346.3,246.0 346.0,262.0 345.4,262.0 344.8,283.7 343.9,283.7 343.4,270.0 342.6,270.0 341.9,261.8 341.1,261.8 340.7,262.0 339.9,262.0 339.1,273.8 338.2,273.8 337.4,265.0 336.6,265.0 335.6,265.0 334.8,265.0 334.1,275.5 333.3,275.5 333.0,262.0 332.2,262.0 331.8,252.0 330.9,252.0 330.1,246.5 329.2,246.5 328.8,252.0 327.9,252.0 327.2,256.4 326.4,256.4 325.4,264.6 324.6,264.6 324.2,256.0 323.4,256.0 323.1,242.0 322.3,242.0 322.0,262.0 321.2,262.0 320.2,284.8 319.4,284.8 317.4,262.0 316.6,262.0 315.9,256.4 315.1,256.4 313.8,266.2 312.9,266.2 311.9,259.7 311.1,259.7 310.2,269.0 309.4,269.0 308.4,261.8 307.6,261.8 306.4,262.0 305.6,262.0 304.9,278.2 304.1,278.2 302.8,271.7 301.9,271.7 300.8,273.0 299.9,273.0" fill="#64B5CD" stroke="#64B5CD" stroke-width="0.5" stroke-linejoin="round"/>
<path d="M300.3 223.0v22.6M300.3 271.6v-15.1M301.4 221.3v15.6M301.1 271.9v-6.6M302.0 220.2v22.3M302.3 270.5v-7.7M303.1 225.0v16.5M303.3 271.6v-11.9M303.9 276.5v-12.1M305.0 218.2v23.2M305.8 217.1v7.5M305.5 261.0v-16.8M306.4 220.1v21.5M306.3 260.3v-16.0M307.2 220.1v6.5M307.8 261.5v-17.0M308.9 225.9v7.1M308.9 264.7v-15.6M309.6 225.5v10.4M310.8 218.3v5.6M310.4 263.9v-5.3M311.2 218.3v14.9M311.2 258.0v-21.3M312.2 219.1v16.0M312.4 260.8v-18.1M313.1 219.8v18.0M314.3 215.0v10.0M316.0 220.0v15.3M315.5 254.7v-13.8M316.7 222.7v19.3M316.9 260.9v-15.5M317.6 228.4v7.1M317.4 261.6v-15.3M318.5 271.1v-19.2M319.2 235.5v11.4M319.4 281.5v-10.7M320.1 227.1v11.9M319.9 283.6v-23.3M320.7 222.3v6.2M321.6 215.1v8.3M321.8 261.6v-9.4M322.7 213.3v10.9M323.1 209.2v20.4M323.6 254.2v-13.9M324.3 209.8v10.3M324.4 256.2v-15.1M325.3 212.0v10.9M324.8 262.7v-23.1M325.7 225.4v19.3M325.9 259.2v-6.6M327.0 222.9v23.3M327.5 211.7v15.0M327.7 252.7v-8.7M328.3 212.9v20.7M328.3 250.5v-17.0M329.5 212.2v10.7M329.5 245.7v-15.4M330.1 212.9v14.7M330.0 245.1v-8.9M330.8 212.3v15.5M331.1 250.9v-7.1M332.1 212.2v6.4M332.1 254.0v-18.5M333.0 260.4v-13.8M333.7 274.6v-19.0M334.7 217.8v21.0M334.5 268.9v-14.7M335.0 218.1v13.9M336.1 264.0v-22.7M336.8 212.0v17.9M337.2 264.4v-7.0M338.0 208.4v8.6M338.0 267.8v-6.4M338.8 215.2v11.2M338.7 273.6v-9.6M339.7 266.3v-19.2M340.3 219.3v23.5M340.3 260.6v-13.0M341.5 220.5v8.5M341.0 260.5v-21.1M341.8 221.1v17.8M342.0 262.8v-16.6M342.8 234.4v10.2M344.0 232.8v11.8M344.5 221.1v6.3M344.6 282.3v-9.8M345.3 219.3v7.3M346.5 210.0v10.7M346.2 244.2v-23.1M347.3 209.2v6.8M347.0 260.9v-17.8M347.8 211.8v16.8M348.1 270.9v-14.8M348.9 212.6v10.3M349.1 276.2v-14.9M349.8 223.4v13.7M350.5 224.2v9.9M350.9 260.5v-10.6M351.7 226.4v17.0M352.5 226.9v7.7M352.4 282.5v-13.8M353.1 238.2v8.3M353.0 284.9v-11.5M353.9 234.4v18.0M355.0 290.8v-10.0M355.4 213.8v15.4M355.5 273.9v-23.6M356.4 261.7v-8.4M357.6 218.7v22.5M358.3 241.4v-20.0M359.3 212.6v14.6M359.3 249.5v-9.0M360.1 216.5v9.9M359.7 253.9v-8.7M360.9 252.7v-14.9M361.7 210.2v5.6M361.5 250.2v-12.5M362.3 250.1v-21.1M363.2 213.4v12.4M363.3 253.9v-17.4M364.2 213.6v19.4M364.2 256.2v-23.9M364.9 210.0v17.7M365.3 257.6v-17.2M365.9 205.0v16.9M366.1 252.2v-17.7M367.7 208.7v13.0M367.6 260.6v-23.1M368.2 208.7v20.4M368.2 266.5v-15.0M369.6 215.1v12.1M369.3 285.1v-6.4M370.1 220.6v15.3M370.0 261.0v-16.5M371.3 221.8v13.0M371.2 261.7v-19.3M371.7 224.5v5.3M371.6 268.4v-19.0M373.0 224.6v21.0M373.3 217.3v7.8M373.4 258.8v-18.1M374.7 212.4v20.6M374.4 258.1v-12.9M375.3 249.2v-21.6M375.9 214.2v13.5M375.8 248.3v-20.7M377.6 209.9v15.7M378.1 244.4v-19.5M378.5 209.1v6.2M378.6 241.7v-7.6M379.2 210.2v22.6M379.5 253.8v-14.3M380.5 259.0v-21.1M380.9 222.9v9.3M381.5 264.1v-23.2M382.3 221.5v8.2M382.3 258.8v-14.1M382.8 254.7v-9.5M384.7 215.4v9.6M384.3 255.6v-10.4M385.7 212.6v23.3M385.5 254.7v-8.6M386.6 212.3v17.7M386.4 257.2v-7.7M387.2 213.3v23.2M388.3 210.6v7.0M388.9 207.5v23.0M388.6 250.5v-9.2M389.9 207.9v10.0M389.7 244.5v-20.5M390.4 255.8v-18.5M391.6 255.8v-11.1M392.3 213.1v12.2M392.3 263.5v-6.1M392.8 215.4v7.5M393.1 264.5v-9.3M394.0 222.7v17.5M394.7 257.8v-20.6M395.7 258.1v-12.4M396.6 222.3v11.5M396.7 268.7v-18.0M397.3 220.0v10.4M397.4 270.7v-23.6M398.5 219.2v6.7M398.0 261.2v-5.5M399.2 215.1v15.7M398.8 263.1v-16.8M399.7 215.4v21.2M399.9 276.1v-20.7M400.5 208.3v16.9M401.9 208.0v23.0M401.6 261.3v-8.2M402.3 207.5v7.1M402.6 252.1v-11.9M403.1 207.9v17.2M404.4 208.0v8.2M404.2 245.3v-6.3M404.7 207.9v11.1M406.6 207.5v13.4M407.8 211.0v20.2M407.8 242.1v-20.7M408.1 220.6v11.8M408.1 245.9v-22.7M409.2 219.0v17.8M410.3 219.1v15.7M410.2 245.5v-14.2M411.2 219.4v12.2M410.9 246.0v-12.2M411.8 245.3v-21.9M412.6 220.2v19.3M413.5 222.9v9.1M413.5 245.8v-14.3M414.3 222.7v19.7M414.2 249.0v-19.1M415.1 218.5v23.9M416.0 260.5v-23.8M416.8 215.5v13.0M416.6 267.3v-21.1M417.6 219.0v17.2M418.7 221.8v21.2M418.3 293.2v-8.5M419.6 222.6v10.0M419.4 270.6v-19.2M420.4 225.3v16.0M421.4 228.8v22.2M421.1 262.9v-16.8M421.9 229.1v21.0M421.9 260.8v-7.0M422.8 224.6v10.5M422.6 265.5v-17.7M423.4 217.9v17.7M423.6 269.2v-8.0M424.6 253.9v-17.1M425.5 245.7v-12.7M426.4 211.5v11.7M426.3 251.4v-10.4M426.9 213.1v17.9M427.3 254.2v-11.2M427.8 214.0v13.7M428.5 251.1v-14.3M429.5 218.4v10.0M429.8 250.6v-22.8M430.3 215.6v7.2M430.4 247.8v-20.0M431.4 217.5v15.2M432.2 271.2v-14.6M433.1 223.3v21.2M433.3 273.5v-16.8M433.7 217.7v5.5M433.9 254.8v-13.7M434.7 212.5v7.9M434.9 252.8v-8.1M435.8 213.1v17.3M437.0 222.4v9.8M437.2 250.2v-22.7M437.9 222.2v13.2M438.1 252.3v-23.0M439.1 218.0v20.0M440.8 218.7v5.4M440.4 255.4v-6.8M441.4 267.0v-13.1M442.5 228.7v5.4M442.6 277.9v-20.3M443.3 231.0v23.0M443.1 298.6v-17.2M444.2 299.3v-22.0M444.7 271.0v-15.4M446.0 223.5v12.4M445.8 265.5v-13.5M446.9 219.6v6.5M446.5 260.4v-17.5M447.7 268.4v-23.7M448.3 260.5v-6.6M449.0 219.3v14.0M449.0 260.7v-22.8M449.9 222.1v16.7M450.9 275.0v-14.1M451.7 218.8v10.5M451.9 271.4v-20.7M452.6 219.7v19.3M453.7 215.6v7.5M453.4 268.5v-23.9M454.5 215.7v19.0M454.5 269.5v-13.8M455.1 219.8v18.1M455.9 224.5v18.6M456.0 282.2v-18.3M457.0 223.8v18.1M458.6 220.2v13.7M458.4 265.1v-22.1M459.5 220.2v15.8M459.5 262.0v-15.4M460.2 257.2v-16.3M462.1 218.2v23.8M462.2 249.6v-14.9M462.7 212.9v16.3M462.8 251.0v-18.6M463.9 211.5v5.4M464.2 217.5v16.4M464.7 263.9v-21.7M465.4 220.3v11.7M465.4 255.7v-19.2M466.1 216.9v15.6M467.0 215.5v15.4M467.8 262.8v-19.3M468.9 237.8v11.5M468.5 269.2v-20.0M469.7 235.9v10.1M470.4 230.5v18.6M470.6 270.9v-9.3M471.0 271.3v-23.7M472.0 222.9v16.0M472.0 265.3v-10.5M472.9 217.8v9.2M472.8 262.8v-22.2M474.0 204.9v21.9M474.0 263.0v-11.8M474.5 206.3v18.0M475.5 213.9v12.4M475.5 265.0v-24.0M476.4 220.4v8.4M477.5 221.6v15.5M478.0 260.4v-17.3M479.2 223.6v17.9M479.2 249.6v-23.2M480.5 228.6v12.6M480.9 269.1v-16.5M481.2 224.4v13.4M481.2 262.2v-22.0M482.6 218.4v17.1M482.2 261.4v-7.0M483.4 217.8v20.5M483.3 240.2v-21.2M484.0 216.9v14.4M484.1 261.8v-20.9M484.9 219.0v18.0M484.7 262.9v-18.4M485.6 270.5v-21.6M486.6 235.3v23.0M486.8 286.7v-7.9M487.5 241.0v7.4M487.6 286.0v-8.8M488.4 229.2v6.5M489.2 225.3v20.7M489.2 272.8v-18.4M490.3 220.2v7.7M490.8 223.9v8.0M490.7 274.3v-19.9M491.6 225.9v18.8M491.9 264.1v-9.7M492.5 224.1v5.5M492.8 255.4v-23.3M493.3 220.7v19.3M493.5 255.6v-22.0M494.5 222.6v13.4M494.1 247.8v-23.6M495.1 228.0v20.8M495.0 249.8v-18.2M495.9 229.9v15.0M496.1 261.7v-7.4M497.0 233.2v23.4M497.0 265.6v-13.2M497.8 268.9v-14.8M498.3 276.8v-15.6M499.2 242.9v19.7M499.5 278.5v-16.3M500.1 237.2v9.6M499.9 265.4v-8.4M501.1 235.9v12.0M500.9 263.6v-17.3M502.0 258.4v-9.1M503.0 230.8v9.1M503.0 259.6v-22.6M503.7 230.2v9.5M503.7 261.3v-12.8M504.7 264.6v-10.6M505.9 266.6v-6.0" stroke="#173345" stroke-width="0.55" stroke-dasharray="1.1 0.9 0.6 1.3 1.7 0.8" opacity="0.22" fill="none"/>
<path d="M300.4 222.2v8.9M301.3 272.2v-3.4M302.2 271.5v-10.0M303.0 272.3v-2.4M303.9 276.9v-2.9M305.6 215.5v7.3M306.4 261.8v-8.3M307.3 219.2v3.4M309.0 265.6v-10.8M309.8 268.8v-7.8M310.7 264.1v-7.9M311.5 216.6v3.8M314.1 264.4v-10.1M314.9 257.4v-5.6M315.8 220.0v10.8M316.6 222.0v6.4M317.5 261.8v-7.2M319.2 234.2v3.8M320.9 222.0v1.9M321.7 213.4v8.3M322.6 212.2v3.4M325.1 264.4v-1.9M328.5 251.8v-9.1M329.4 246.3v-6.5M330.2 246.7v-10.7M331.1 251.8v-4.5M331.9 210.6v10.3M333.6 212.2v6.8M334.5 270.0v-6.2M335.3 264.8v-9.9M337.9 207.8v8.8M338.7 214.2v6.2M339.6 266.9v-11.9M342.1 263.7v-7.7M344.7 220.2v2.8M345.5 261.8v-9.9M347.2 261.8v-10.6M348.9 277.5v-6.8M349.8 261.8v-9.7M350.6 261.8v-8.8M353.2 238.2v8.4M355.7 275.0v-11.7M356.6 215.1v2.4M357.4 218.2v3.0M358.3 215.6v1.9M359.1 212.2v9.1M360.0 255.1v-1.6M360.8 254.4v-6.9M363.4 254.1v-5.7M364.2 257.2v-2.5M365.9 204.9v9.9M366.8 204.6v3.7M367.6 207.1v5.9M368.5 208.2v5.8M370.2 261.8v-5.5M371.0 221.1v9.0M371.9 270.0v-11.5M372.7 270.8v-9.7M374.4 211.2v4.4M376.1 249.4v-5.9M377.0 248.5v-11.6M377.8 208.4v7.3M378.7 207.3v3.9M379.5 208.9v7.0M380.4 260.4v-6.7M381.2 264.8v-2.6M382.1 221.5v9.8M382.9 256.2v-8.6M383.8 216.6v6.6M385.5 255.8v-9.6M388.9 251.8v-2.8M389.7 245.3v-5.3M390.6 209.2v9.7M391.4 209.8v11.1M392.3 264.8v-5.7M393.1 264.5v-11.6M394.0 259.5v-11.4M395.7 259.5v-7.2M396.5 269.3v-6.6M397.4 218.8v1.8M398.2 218.1v3.3M399.1 264.3v-9.5M399.9 214.2v5.4M400.8 270.4v-4.6M401.6 207.7v10.8M405.0 206.6v5.3M405.9 243.8v-3.8M406.7 206.2v10.5M407.6 209.6v5.6M410.1 218.2v9.7M411.0 246.8v-1.9M413.5 247.6v-11.7M414.4 221.6v9.7M415.2 250.8v-8.3M417.8 217.7v6.7M418.6 293.8v-3.4M420.3 267.8v-11.7M422.9 223.5v9.1M423.7 269.3v-5.2M424.6 213.2v6.7M425.4 211.4v6.0M426.3 211.2v6.6M428.0 213.2v5.6M428.8 252.4v-9.9M429.7 251.5v-2.3M432.2 221.7v10.0M433.1 273.6v-3.2M433.9 217.4v4.2M434.8 254.4v-2.3M435.6 249.8v-9.1M436.5 250.3v-6.9M438.2 254.1v-2.0M439.0 257.3v-11.8M439.9 254.8v-8.8M440.7 217.3v10.4M441.6 267.8v-10.5M443.3 300.3v-6.6M445.0 271.4v-2.7M446.7 261.8v-3.2M448.4 215.5v3.2M449.2 261.8v-3.6M450.1 221.2v4.1M450.9 275.8v-2.6M451.8 218.7v2.3M452.6 218.2v2.0M453.5 215.5v2.7M454.3 269.8v-8.0M455.2 218.9v7.8M456.9 261.8v-11.5M458.6 218.8v3.3M459.4 219.5v1.7M463.7 211.2v3.9M464.5 264.4v-5.9M465.4 219.9v7.5M466.2 216.5v11.0M467.1 214.4v2.1M467.9 263.4v-7.5M468.8 236.2v8.8M469.6 270.6v-2.2M471.3 272.0v-2.1M472.2 266.5v-2.3M473.0 217.1v4.2M473.9 204.0v8.2M474.7 205.5v7.1M475.6 212.2v10.6M476.4 278.0v-11.5M477.3 220.4v8.0M478.1 261.8v-4.9M479.0 222.4v6.8M479.8 261.8v-6.4M480.7 269.8v-1.6M481.5 224.2v7.5M482.4 218.2v10.0M483.2 241.3v-10.1M484.1 216.6v9.5M484.9 218.4v9.1M485.8 271.8v-8.9M487.5 240.6v2.9M489.2 273.9v-6.3M490.9 276.1v-4.5M492.6 222.8v5.7M493.4 255.8v-3.9M494.3 248.8v-5.0M495.1 226.7v4.9M497.7 269.8v-5.9M500.2 265.8v-5.7M501.1 264.7v-11.7M501.9 259.5v-8.8M502.8 229.2v4.1M503.6 230.2v3.7M504.5 231.2v3.0M506.2 267.8v-3.7" stroke="#1f3a47" stroke-width="0.55" stroke-dasharray="0.7 0.7" opacity="0.6" fill="none"/>
<path d="M305.3 215.6v5.2M314.3 213.4v6.4M337.6 207.9v7.9M355.8 213.4v6.4M359.1 212.3v4.5M362.1 209.6v4.2M366.4 204.7v5.1M378.5 207.4v4.4M389.1 206.3v4.5M416.6 215.0v8.6M430.5 214.5v5.9M435.2 212.3v10.5M440.0 215.0v8.6M448.1 215.6v8.0M454.2 214.5v5.3M463.4 211.3v10.2M467.0 214.5v7.0M474.1 204.1v9.7M489.8 218.9v7.9M493.5 220.5v6.3M304.5 277.9v-8.0M309.8 268.7v-8.7M313.4 265.9v-8.0M319.8 284.5v-10.5M325.0 264.3v-9.7M333.7 275.2v-10.5M338.7 273.5v-10.3M344.4 283.4v-10.5M348.6 277.4v-10.5M354.7 291.0v-6.8M360.2 255.0v-5.8M364.8 257.7v-8.5M369.1 286.7v-10.5M372.4 270.7v-10.5M381.0 264.7v-10.1M387.5 264.3v-10.1M392.6 264.7v-6.8M397.1 271.9v-10.5M400.0 276.8v-10.5M409.0 260.4v-10.5M418.2 293.7v-10.5M423.7 269.2v-9.0M427.8 258.7v-7.5M432.7 273.5v-10.5M443.7 300.2v-10.5M447.3 269.2v-9.0M451.0 275.7v-9.5M456.0 283.4v-10.5M458.6 265.9v-5.7M464.5 264.3v-8.1M476.8 277.9v-10.5M480.7 269.7v-9.5M487.0 287.2v-10.5M490.2 280.1v-9.9M499.0 278.5v-10.3M505.5 275.7v-10.5" stroke="#14232e" stroke-width="0.7" stroke-dasharray="0.8 0.7" opacity="0.7" fill="none"/>
<text x="330.7" y="338.4" font-size="5.2" text-anchor="middle">5000</text>
<text x="358.4" y="338.4" font-size="5.2" text-anchor="middle">10,000</text>
<text x="388.0" y="338.4" font-size="5.2" text-anchor="middle">15,000</text>
<text x="416.6" y="338.4" font-size="5.2" text-anchor="middle">20,000</text>
<text x="446.8" y="338.4" font-size="5.2" text-anchor="middle">25,000</text>
<text x="474.9" y="338.4" font-size="5.2" text-anchor="middle">30,000</text>
<text x="504.7" y="338.4" font-size="5.2" text-anchor="middle">35,000</text>
<text x="285.75" y="299.9" font-size="5.2" text-anchor="end">20</text>
<text x="285.75" y="274.1" font-size="5.2" text-anchor="end">40</text>
<text x="285.75" y="248.2" font-size="5.2" text-anchor="end">60</text>
<text x="285.75" y="222.4" font-size="5.2" text-anchor="end">80</text>
<text x="277.1" y="264.6" font-size="5.3" text-anchor="middle" transform="rotate(-90 277.1 264.6)">%</text>
<text x="403.6" y="345.7" font-size="5.76" text-anchor="middle">Item number (5min average)</text>
<text transform="translate(510.6 361.8) scale(1 1.08)" font-size="11.8" text-anchor="end">(d)</text>
<rect x="468.3" y="303.3" width="44.5" height="24.1" rx="1.2" fill="#EAEAF2" fill-opacity="0.8" stroke="#cfcfd6" stroke-width="0.6"/><circle cx="475.3" cy="307.7" r="0.75" fill="#4C72B0"/><circle cx="475.3" cy="315.4" r="0.75" fill="#111"/><line x1="470.2" x2="480.4" y1="322.4" y2="322.4" stroke="#64B5CD" stroke-width="0.9"/><text x="485.4" y="309" font-size="4.99">Train</text><text x="485.4" y="316" font-size="4.99">Test</text><text x="485.4" y="323.6" font-size="4.99">Predictions</text>
<rect x="172.9" y="373.8" width="227.9" height="138.7" fill="#EAEAF2"/>
<path d="M182.9 446V507.3" stroke="#64B5CD" stroke-width="0.8"/><circle cx="182.9" cy="507.3" r="0.6" fill="#4C72B0"/><text x="183.1" y="522.8" font-size="5.2" text-anchor="middle">.</text>
<path d="M182.6,398.9 183.5,398.9 183.9,396.4 184.8,396.4 185.3,401.0 186.2,401.0 187.4,391.8 188.3,391.8 189.1,395.7 190.0,395.7 190.4,406.4 191.2,406.4 191.5,401.0 192.4,401.0 193.5,393.0 194.4,393.0 195.2,394.7 196.1,394.7 196.5,389.4 197.4,389.4 198.8,398.7 199.7,398.7 201.0,411.7 201.9,411.7 203.2,398.7 204.1,398.7 204.6,388.3 205.5,388.3 206.0,384.2 206.9,384.2 207.4,386.1 208.3,386.1 208.6,402.1 209.5,402.1 210.3,387.1 211.2,387.1 212.0,388.3 212.9,388.3 214.0,386.6 214.9,386.6 216.1,388.3 217.0,388.3 217.5,394.0 218.4,394.0 218.9,392.5 219.8,392.5 220.2,383.6 221.1,383.6 221.6,390.4 222.5,390.4 222.8,394.0 223.7,394.0 224.2,395.7 225.1,395.7 225.8,411.7 226.7,411.7 227.5,396.8 228.4,396.8 229.6,384.8 230.5,384.8 231.2,386.1 232.0,386.1 232.3,398.9 233.1,398.9 233.4,400.4 234.2,400.4 234.8,403.2 235.7,403.2 236.1,416.0 237.0,416.0 238.6,389.4 239.5,389.4 240.3,394.7 241.2,394.7 242.0,388.3 242.9,388.3 243.3,391.5 244.2,391.5 245.0,385.4 245.9,385.4 246.9,388.3 247.8,388.3 249.4,380.2 250.3,380.2 251.4,384.0 252.3,384.0 253.0,395.3 253.9,395.3 255.2,401.0 256.1,401.0 257.7,387.2 258.6,387.2 259.4,389.3 260.3,389.3 261.6,383.1 262.5,383.1 263.6,386.1 264.4,386.1 264.7,398.7 265.6,398.7 266.6,393.0 267.5,393.0 269.0,388.3 269.9,388.3 270.5,388.3 271.4,388.3 272.4,381.9 273.3,381.9 274.1,385.1 275.0,385.1 275.7,388.3 276.6,388.3 278.1,402.1 279.0,402.1 281.0,395.3 281.9,395.3 282.9,390.4 283.8,390.4 284.4,383.6 285.3,383.6 287.5,382.4 288.4,382.4 290.3,381.9 291.2,381.9 292.3,395.3 293.2,395.3 295.0,394.1 295.9,394.1 297.4,398.7 298.3,398.7 300.2,391.1 301.1,391.1 303.0,398.7 303.9,398.7 305.5,405.7 306.4,405.7 308.3,389.3 309.2,389.3 309.7,387.2 310.6,387.2 311.6,389.3 312.5,389.3 312.8,395.3 313.7,395.3 314.3,390.6 315.2,390.6 316.6,398.7 317.5,398.7 319.1,388.3 320.0,388.3 321.5,398.7 322.4,398.7 324.0,391.1 324.9,391.1 326.2,404.6 327.1,404.6 327.6,408.1 328.5,408.1 329.6,398.7 330.5,398.7 332.2,391.8 333.1,391.8 334.8,398.7 335.7,398.7 336.4,394.7 337.3,394.7 338.4,390.6 339.3,390.6 340.4,401.0 341.3,401.0 342.6,395.3 343.5,395.3 345.3,397.5 346.2,397.5 347.7,387.2 348.6,387.2 349.5,396.5 350.4,396.5 351.3,390.6 352.2,390.6 353.4,413.8 354.3,413.8 354.9,406.9 355.8,406.9 356.7,398.9 357.6,398.9 358.5,379.5 359.4,379.5 360.3,388.3 361.0,388.3 361.2,396.5 362.0,396.5 362.9,398.7 363.8,398.7 365.2,404.6 366.1,404.6 367.2,394.7 368.1,394.7 368.6,393.0 369.5,393.0 370.4,396.8 371.3,396.8 371.8,418.5 372.7,418.5 373.2,405.3 374.1,405.3 374.5,395.3 375.4,395.3 376.3,402.1 377.2,402.1 378.2,397.0 379.1,397.0 380.6,405.7 381.5,405.7 383.4,422.0 384.3,422.0 385.3,413.8 386.2,413.8 387.5,406.4 388.4,406.4 389.4,408.5 390.1,408.5 390.4,411.5 391.1,411.5 391.5,441.5 392.4,441.5" fill="none" stroke="#1b2a38" stroke-width="1.0" stroke-dasharray="0.6 0.7" stroke-linejoin="round" opacity="0.75"/>
<path d="M182.4,453.2 183.3,453.2 184.5,451.8 185.4,451.8 186.6,458.8 187.5,458.8 188.1,441.5 189.0,441.5 190.2,441.3 191.1,441.3 192.0,449.0 192.9,449.0 193.7,439.1 194.6,439.1 195.6,446.0 196.5,446.0 197.8,435.5 198.7,435.5 199.3,441.5 200.2,441.5 202.1,465.8 203.0,465.8 203.9,441.5 204.8,441.5 205.1,420.2 205.9,420.2 206.2,435.1 207.1,435.1 207.4,444.3 208.3,444.3 209.2,435.5 210.1,435.5 210.7,430.9 211.6,430.9 212.2,425.0 213.1,425.0 213.8,430.9 214.7,430.9 215.1,441.5 215.9,441.5 216.3,455.9 217.1,455.9 217.7,444.7 218.6,444.7 219.6,444.7 220.5,444.7 221.3,454.1 222.2,454.1 222.9,441.5 223.8,441.5 224.1,441.3 225.0,441.3 225.6,450.0 226.5,450.0 227.1,464.6 228.0,464.6 228.5,441.5 229.2,441.5 229.4,424.5 230.0,424.5 230.2,441.5 231.0,441.5 231.3,458.2 232.2,458.2 232.9,441.5 233.7,441.5 234.0,441.5 234.9,441.5 235.6,467.1 236.5,467.1 237.5,472.7 238.4,472.7 239.4,441.5 240.2,441.5 240.5,429.8 241.2,429.8 241.5,421.3 242.1,421.3 242.4,429.8 243.0,429.8 243.2,434.4 244.0,434.4 244.9,429.8 245.8,429.8 247.7,437.2 248.6,437.2 249.8,427.3 250.6,427.3 251.0,441.5 251.8,441.5 252.2,468.1 253.0,468.1 253.4,441.5 254.3,441.5 255.4,451.1 256.3,451.1 257.1,439.4 257.9,439.4 258.2,429.8 259.0,429.8 260.1,427.3 261.0,427.3 261.8,420.2 262.6,420.2 262.9,433.0 263.6,433.0 264.2,444.7 265.1,444.7 266.0,435.5 266.9,435.5 267.4,436.7 268.3,436.7 268.8,435.1 269.7,435.1 270.7,444.3 271.6,444.3 272.1,430.9 272.8,430.9 273.1,423.9 273.8,423.9 274.2,435.1 275.0,435.1 275.9,444.7 276.8,444.7 277.7,439.1 278.6,439.1 278.9,439.1 279.8,439.1 280.5,452.4 281.4,452.4 281.9,441.5 282.8,441.5 283.4,457.6 284.3,457.6 285.0,441.5 285.9,441.5 286.5,430.9 287.4,430.9 287.9,423.9 288.8,423.9 289.5,422.3 290.4,422.3 291.5,422.3 292.3,422.3 292.6,440.1 293.4,440.1 294.1,425.5 295.0,425.5 296.6,426.2 297.5,426.2 298.6,429.8 299.5,429.8 299.9,441.5 300.7,441.5 301.9,475.6 302.8,475.6 303.7,447.9 304.6,447.9 305.7,441.5 306.6,441.5 307.4,449.5 308.3,449.5 308.6,434.1 309.3,434.1 309.5,426.2 310.0,426.2 310.3,431.9 311.1,431.9 311.6,438.3 312.5,438.3 313.1,430.9 313.9,430.9 314.2,428.5 314.8,428.5 315.1,437.2 315.9,437.2 316.6,454.1 317.5,454.1 318.2,434.1 319.1,434.1 319.4,428.7 320.3,428.7 321.4,429.8 322.3,429.8 322.8,436.7 323.7,436.7 324.2,434.1 325.1,434.1 325.5,447.9 326.4,447.9 327.7,482.5 328.6,482.5 329.5,447.9 330.3,447.9 330.5,441.5 331.2,441.5 331.5,449.5 332.3,449.5 332.9,441.5 333.6,441.5 333.8,441.5 334.5,441.5 335.1,456.4 336.0,456.4 336.6,447.9 337.5,447.9 338.2,450.0 339.1,450.0 340.2,464.6 341.1,464.6 341.5,441.5 342.4,441.5 342.8,446.0 343.7,446.0 344.4,437.9 345.3,437.9 346.7,428.7 347.4,428.7 347.7,437.2 348.5,437.2 348.8,444.3 349.7,444.3 350.1,435.1 350.8,435.1 351.0,426.6 351.6,426.6 351.8,441.5 352.5,441.5 353.4,450.7 354.3,450.7 355.5,452.4 356.4,452.4 357.3,443.6 358.2,443.6 358.8,443.6 359.7,443.6 360.0,445.8 360.9,445.8 361.3,458.8 362.2,458.8 362.7,441.5 363.5,441.5 363.9,429.8 364.5,429.8 364.7,441.5 365.2,441.5 365.4,450.0 366.1,450.0 366.5,441.5 367.4,441.5 367.9,419.7 368.7,419.7 369.0,441.5 369.9,441.5 370.2,452.2 371.1,452.2 371.6,468.7 372.5,468.7 373.1,452.2 374.0,452.2 374.9,461.1 375.8,461.1 376.5,445.8 377.4,445.8 377.7,435.1 378.6,435.1 379.3,427.7 380.2,427.7 380.7,441.5 381.6,441.5 382.3,450.0 383.2,450.0 383.8,459.4 384.7,459.4 385.3,445.8 386.2,445.8 386.8,439.1 387.7,439.1 388.6,441.5 389.5,441.5 390.4,456.4 391.2,456.4 391.5,445.8 392.4,445.8" fill="none" stroke="#1b2a38" stroke-width="1.0" stroke-dasharray="0.6 0.7" stroke-linejoin="round" opacity="0.75"/>
<polygon points="182.6,398.9 183.5,398.9 183.9,396.4 184.8,396.4 185.3,401.0 186.2,401.0 187.4,391.8 188.3,391.8 189.1,395.7 190.0,395.7 190.4,406.4 191.2,406.4 191.5,401.0 192.4,401.0 193.5,393.0 194.4,393.0 195.2,394.7 196.1,394.7 196.5,389.4 197.4,389.4 198.8,398.7 199.7,398.7 201.0,411.7 201.9,411.7 203.2,398.7 204.1,398.7 204.6,388.3 205.5,388.3 206.0,384.2 206.9,384.2 207.4,386.1 208.3,386.1 208.6,402.1 209.5,402.1 210.3,387.1 211.2,387.1 212.0,388.3 212.9,388.3 214.0,386.6 214.9,386.6 216.1,388.3 217.0,388.3 217.5,394.0 218.4,394.0 218.9,392.5 219.8,392.5 220.2,383.6 221.1,383.6 221.6,390.4 222.5,390.4 222.8,394.0 223.7,394.0 224.2,395.7 225.1,395.7 225.8,411.7 226.7,411.7 227.5,396.8 228.4,396.8 229.6,384.8 230.5,384.8 231.2,386.1 232.0,386.1 232.3,398.9 233.1,398.9 233.4,400.4 234.2,400.4 234.8,403.2 235.7,403.2 236.1,416.0 237.0,416.0 238.6,389.4 239.5,389.4 240.3,394.7 241.2,394.7 242.0,388.3 242.9,388.3 243.3,391.5 244.2,391.5 245.0,385.4 245.9,385.4 246.9,388.3 247.8,388.3 249.4,380.2 250.3,380.2 251.4,384.0 252.3,384.0 253.0,395.3 253.9,395.3 255.2,401.0 256.1,401.0 257.7,387.2 258.6,387.2 259.4,389.3 260.3,389.3 261.6,383.1 262.5,383.1 263.6,386.1 264.4,386.1 264.7,398.7 265.6,398.7 266.6,393.0 267.5,393.0 269.0,388.3 269.9,388.3 270.5,388.3 271.4,388.3 272.4,381.9 273.3,381.9 274.1,385.1 275.0,385.1 275.7,388.3 276.6,388.3 278.1,402.1 279.0,402.1 281.0,395.3 281.9,395.3 282.9,390.4 283.8,390.4 284.4,383.6 285.3,383.6 287.5,382.4 288.4,382.4 290.3,381.9 291.2,381.9 292.3,395.3 293.2,395.3 295.0,394.1 295.9,394.1 297.4,398.7 298.3,398.7 300.2,391.1 301.1,391.1 303.0,398.7 303.9,398.7 305.5,405.7 306.4,405.7 308.3,389.3 309.2,389.3 309.7,387.2 310.6,387.2 311.6,389.3 312.5,389.3 312.8,395.3 313.7,395.3 314.3,390.6 315.2,390.6 316.6,398.7 317.5,398.7 319.1,388.3 320.0,388.3 321.5,398.7 322.4,398.7 324.0,391.1 324.9,391.1 326.2,404.6 327.1,404.6 327.6,408.1 328.5,408.1 329.6,398.7 330.5,398.7 332.2,391.8 333.1,391.8 334.8,398.7 335.7,398.7 336.4,394.7 337.3,394.7 338.4,390.6 339.3,390.6 340.4,401.0 341.3,401.0 342.6,395.3 343.5,395.3 345.3,397.5 346.2,397.5 347.7,387.2 348.6,387.2 349.5,396.5 350.4,396.5 351.3,390.6 352.2,390.6 353.4,413.8 354.3,413.8 354.9,406.9 355.8,406.9 356.7,398.9 357.6,398.9 358.5,379.5 359.4,379.5 360.3,388.3 361.0,388.3 361.2,396.5 362.0,396.5 362.9,398.7 363.8,398.7 365.2,404.6 366.1,404.6 367.2,394.7 368.1,394.7 368.6,393.0 369.5,393.0 370.4,396.8 371.3,396.8 371.8,418.5 372.7,418.5 373.2,405.3 374.1,405.3 374.5,395.3 375.4,395.3 376.3,402.1 377.2,402.1 378.2,397.0 379.1,397.0 380.6,405.7 381.5,405.7 383.4,422.0 384.3,422.0 385.3,413.8 386.2,413.8 387.5,406.4 388.4,406.4 389.4,408.5 390.1,408.5 390.4,411.5 391.1,411.5 391.5,441.5 392.4,441.5 392.4,445.8 391.5,445.8 391.2,456.4 390.4,456.4 389.5,441.5 388.6,441.5 387.7,439.1 386.8,439.1 386.2,445.8 385.3,445.8 384.7,459.4 383.8,459.4 383.2,450.0 382.3,450.0 381.6,441.5 380.7,441.5 380.2,427.7 379.3,427.7 378.6,435.1 377.7,435.1 377.4,445.8 376.5,445.8 375.8,461.1 374.9,461.1 374.0,452.2 373.1,452.2 372.5,468.7 371.6,468.7 371.1,452.2 370.2,452.2 369.9,441.5 369.0,441.5 368.7,419.7 367.9,419.7 367.4,441.5 366.5,441.5 366.1,450.0 365.4,450.0 365.2,441.5 364.7,441.5 364.5,429.8 363.9,429.8 363.5,441.5 362.7,441.5 362.2,458.8 361.3,458.8 360.9,445.8 360.0,445.8 359.7,443.6 358.8,443.6 358.2,443.6 357.3,443.6 356.4,452.4 355.5,452.4 354.3,450.7 353.4,450.7 352.5,441.5 351.8,441.5 351.6,426.6 351.0,426.6 350.8,435.1 350.1,435.1 349.7,444.3 348.8,444.3 348.5,437.2 347.7,437.2 347.4,428.7 346.7,428.7 345.3,437.9 344.4,437.9 343.7,446.0 342.8,446.0 342.4,441.5 341.5,441.5 341.1,464.6 340.2,464.6 339.1,450.0 338.2,450.0 337.5,447.9 336.6,447.9 336.0,456.4 335.1,456.4 334.5,441.5 333.8,441.5 333.6,441.5 332.9,441.5 332.3,449.5 331.5,449.5 331.2,441.5 330.5,441.5 330.3,447.9 329.5,447.9 328.6,482.5 327.7,482.5 326.4,447.9 325.5,447.9 325.1,434.1 324.2,434.1 323.7,436.7 322.8,436.7 322.3,429.8 321.4,429.8 320.3,428.7 319.4,428.7 319.1,434.1 318.2,434.1 317.5,454.1 316.6,454.1 315.9,437.2 315.1,437.2 314.8,428.5 314.2,428.5 313.9,430.9 313.1,430.9 312.5,438.3 311.6,438.3 311.1,431.9 310.3,431.9 310.0,426.2 309.5,426.2 309.3,434.1 308.6,434.1 308.3,449.5 307.4,449.5 306.6,441.5 305.7,441.5 304.6,447.9 303.7,447.9 302.8,475.6 301.9,475.6 300.7,441.5 299.9,441.5 299.5,429.8 298.6,429.8 297.5,426.2 296.6,426.2 295.0,425.5 294.1,425.5 293.4,440.1 292.6,440.1 292.3,422.3 291.5,422.3 290.4,422.3 289.5,422.3 288.8,423.9 287.9,423.9 287.4,430.9 286.5,430.9 285.9,441.5 285.0,441.5 284.3,457.6 283.4,457.6 282.8,441.5 281.9,441.5 281.4,452.4 280.5,452.4 279.8,439.1 278.9,439.1 278.6,439.1 277.7,439.1 276.8,444.7 275.9,444.7 275.0,435.1 274.2,435.1 273.8,423.9 273.1,423.9 272.8,430.9 272.1,430.9 271.6,444.3 270.7,444.3 269.7,435.1 268.8,435.1 268.3,436.7 267.4,436.7 266.9,435.5 266.0,435.5 265.1,444.7 264.2,444.7 263.6,433.0 262.9,433.0 262.6,420.2 261.8,420.2 261.0,427.3 260.1,427.3 259.0,429.8 258.2,429.8 257.9,439.4 257.1,439.4 256.3,451.1 255.4,451.1 254.3,441.5 253.4,441.5 253.0,468.1 252.2,468.1 251.8,441.5 251.0,441.5 250.6,427.3 249.8,427.3 248.6,437.2 247.7,437.2 245.8,429.8 244.9,429.8 244.0,434.4 243.2,434.4 243.0,429.8 242.4,429.8 242.1,421.3 241.5,421.3 241.2,429.8 240.5,429.8 240.2,441.5 239.4,441.5 238.4,472.7 237.5,472.7 236.5,467.1 235.6,467.1 234.9,441.5 234.0,441.5 233.7,441.5 232.9,441.5 232.2,458.2 231.3,458.2 231.0,441.5 230.2,441.5 230.0,424.5 229.4,424.5 229.2,441.5 228.5,441.5 228.0,464.6 227.1,464.6 226.5,450.0 225.6,450.0 225.0,441.3 224.1,441.3 223.8,441.5 222.9,441.5 222.2,454.1 221.3,454.1 220.5,444.7 219.6,444.7 218.6,444.7 217.7,444.7 217.1,455.9 216.3,455.9 215.9,441.5 215.1,441.5 214.7,430.9 213.8,430.9 213.1,425.0 212.2,425.0 211.6,430.9 210.7,430.9 210.1,435.5 209.2,435.5 208.3,444.3 207.4,444.3 207.1,435.1 206.2,435.1 205.9,420.2 205.1,420.2 204.8,441.5 203.9,441.5 203.0,465.8 202.1,465.8 200.2,441.5 199.3,441.5 198.7,435.5 197.8,435.5 196.5,446.0 195.6,446.0 194.6,439.1 193.7,439.1 192.9,449.0 192.0,449.0 191.1,441.3 190.2,441.3 189.0,441.5 188.1,441.5 187.5,458.8 186.6,458.8 185.4,451.8 184.5,451.8 183.3,453.2 182.4,453.2" fill="#64B5CD" stroke="#64B5CD" stroke-width="0.5" stroke-linejoin="round"/>
<path d="M182.9 399.4v16.6M183.1 451.6v-8.5M183.7 398.0v18.2M183.6 451.0v-10.1M184.5 397.6v9.4M184.9 450.4v-5.6M185.3 401.7v13.3M186.6 456.6v-13.0M187.1 394.8v9.0M187.4 457.8v-19.9M188.1 392.5v18.5M188.3 442.8v-18.8M189.0 395.8v10.8M188.9 441.0v-7.3M189.5 439.6v-19.7M190.6 407.4v20.7M190.7 439.7v-14.1M191.4 402.6v23.0M191.6 444.0v-15.3M192.3 447.4v-7.6M193.3 396.7v16.3M193.9 394.7v12.5M194.0 438.3v-18.1M194.7 395.4v10.7M194.6 439.5v-11.9M195.9 396.4v5.9M195.7 444.3v-9.2M196.8 444.3v-16.4M197.6 390.1v23.1M197.2 437.7v-22.4M198.2 396.1v22.4M198.5 434.9v-10.2M198.8 439.4v-10.7M201.0 411.2v22.3M200.6 448.6v-7.0M201.6 411.9v21.7M201.4 458.8v-15.5M202.7 407.8v9.1M203.3 455.4v-15.3M204.1 397.2v23.8M204.0 440.4v-21.7M205.3 389.5v23.1M205.2 422.9v-17.4M205.7 385.9v9.4M205.8 419.6v-10.4M206.8 385.9v12.6M206.7 434.6v-14.7M207.7 386.5v12.9M207.7 443.3v-13.6M208.5 395.1v7.3M208.3 442.5v-12.0M209.6 402.4v9.8M209.4 433.9v-13.2M210.0 390.5v6.6M210.4 434.9v-16.8M210.7 387.7v6.4M211.0 429.2v-6.1M212.0 389.1v19.0M211.8 426.5v-16.9M212.8 389.6v14.4M213.4 428.1v-10.8M214.2 388.0v15.9M214.3 430.6v-8.7M215.0 387.4v16.5M215.4 440.5v-22.6M215.9 389.0v12.5M216.0 447.0v-19.6M216.8 455.0v-6.6M217.5 395.2v10.0M219.3 392.9v12.9M220.2 442.9v-17.0M221.1 452.4v-14.6M223.2 395.0v17.5M223.9 394.7v11.8M223.5 439.7v-8.7M224.7 440.3v-19.2M225.6 403.8v11.8M225.6 445.6v-21.6M226.5 413.3v14.3M226.4 449.8v-14.2M227.2 403.9v15.8M227.3 463.6v-19.1M228.3 462.2v-20.4M229.0 392.3v19.8M229.0 440.7v-6.7M229.9 385.3v10.7M230.6 440.3v-13.8M232.5 397.7v17.3M232.0 455.7v-10.3M233.0 400.6v22.1M233.2 440.9v-17.5M234.2 401.7v11.7M233.7 441.0v-17.3M234.6 404.2v20.2M234.9 440.6v-20.2M235.4 404.1v10.9M235.6 466.1v-23.8M236.4 416.6v13.7M236.6 466.9v-14.0M237.5 410.8v17.7M237.2 470.6v-6.5M238.5 396.9v23.5M238.1 471.8v-17.8M239.1 389.9v13.3M238.9 451.6v-10.6M240.0 392.9v14.5M240.7 395.5v12.3M241.0 429.1v-20.0M241.9 393.2v15.1M242.3 389.7v18.1M242.7 428.7v-6.7M243.2 392.5v18.4M243.2 433.7v-9.3M244.3 391.9v20.4M245.1 429.5v-20.8M246.1 429.2v-20.9M246.5 388.8v20.2M246.8 431.7v-6.4M247.4 390.2v5.4M247.5 434.8v-10.5M248.1 385.5v17.7M248.2 437.0v-17.0M249.0 381.1v6.0M249.4 431.1v-16.0M249.8 382.0v16.9M249.9 426.3v-15.5M252.1 384.3v14.7M251.9 440.8v-11.1M252.6 390.0v10.9M252.4 467.2v-22.2M253.5 396.6v23.3M253.5 440.0v-6.7M254.1 398.2v17.9M254.5 441.5v-5.8M255.3 447.9v-18.9M255.9 402.3v12.2M255.9 450.4v-22.5M256.8 395.6v13.2M256.7 440.3v-18.7M258.0 388.9v8.0M257.8 438.7v-20.2M258.6 428.4v-9.6M259.4 426.8v-9.8M260.1 389.9v17.2M260.6 425.4v-14.5M261.0 387.2v22.1M261.2 424.9v-22.1M262.0 384.9v23.6M262.1 418.4v-19.0M263.1 385.4v12.1M263.0 431.4v-5.3M263.8 434.0v-23.4M264.4 393.0v7.8M264.8 443.7v-6.3M265.2 399.5v14.5M265.4 439.5v-6.6M266.0 396.0v7.7M266.0 433.7v-10.3M267.0 394.6v16.1M267.2 435.6v-6.5M267.9 391.8v18.9M268.0 435.4v-22.4M269.1 390.5v23.0M269.8 389.1v21.4M269.4 434.0v-17.5M270.2 390.1v16.7M270.6 440.8v-22.2M271.1 388.5v17.1M271.3 443.7v-21.1M272.0 384.6v8.8M272.2 430.3v-21.9M273.0 382.2v12.9M273.3 424.3v-23.8M274.9 386.4v14.7M275.5 388.7v21.1M275.5 439.7v-23.4M276.7 389.7v21.9M277.6 394.8v23.6M277.5 441.2v-9.5M278.4 402.5v11.5M278.3 438.7v-10.2M278.7 404.0v17.7M279.2 438.7v-22.4M280.1 400.7v8.8M279.9 440.6v-6.4M281.0 397.0v10.1M280.8 451.1v-19.0M281.3 396.0v8.6M282.6 393.6v20.0M282.6 439.9v-22.1M283.4 390.9v23.6M283.8 387.7v20.1M283.9 456.0v-16.1M285.1 442.6v-11.9M285.7 384.8v16.9M285.9 439.8v-13.0M286.8 384.5v17.8M286.4 430.0v-14.4M287.6 383.0v13.4M287.2 428.5v-12.6M288.6 422.7v-19.8M289.1 382.9v7.1M289.1 421.2v-20.7M289.9 382.3v16.2M289.8 422.1v-8.9M291.9 389.5v11.6M291.5 420.9v-7.9M292.6 396.0v9.2M292.5 437.9v-14.5M293.5 396.0v20.4M294.3 423.8v-14.2M295.0 425.0v-7.5M296.0 395.1v13.6M297.7 399.5v8.8M297.6 425.5v-19.7M298.6 398.3v18.4M298.7 428.3v-20.8M299.3 428.3v-9.8M300.0 391.9v9.7M300.3 440.4v-23.3M301.0 391.6v8.9M301.1 451.0v-10.4M301.9 395.0v13.5M302.0 474.1v-18.8M302.7 473.6v-13.7M303.4 400.0v20.3M303.5 448.1v-9.4M304.5 403.0v21.3M304.7 446.5v-9.9M305.6 406.6v18.5M306.9 400.8v8.2M307.0 445.5v-12.3M308.0 394.4v22.2M308.7 389.8v21.0M308.7 433.6v-15.2M309.5 425.2v-20.8M310.2 387.4v14.0M310.4 431.7v-12.2M311.4 433.8v-23.1M312.0 390.7v10.6M313.1 397.2v8.5M312.8 431.7v-9.5M313.7 395.2v9.6M313.6 430.6v-6.0M314.6 427.5v-10.8M315.5 392.9v9.0M315.6 435.8v-8.8M316.1 399.2v9.0M316.2 449.2v-10.5M317.5 399.4v21.1M317.1 452.8v-21.8M318.4 396.4v13.1M318.7 391.1v5.9M319.2 433.4v-21.8M319.7 390.3v8.4M321.3 428.7v-21.6M322.5 399.7v20.1M322.3 429.0v-18.1M323.9 433.0v-13.9M324.7 392.8v7.1M324.7 432.8v-11.5M325.9 401.0v9.4M325.6 447.2v-15.4M326.4 405.1v9.9M326.9 452.3v-18.6M327.5 407.5v15.9M327.5 474.4v-22.0M328.6 409.4v17.4M328.5 482.0v-5.6M329.4 403.8v18.0M329.4 460.9v-18.0M329.9 400.1v23.2M329.9 446.0v-7.2M331.1 441.2v-11.7M331.7 395.5v21.3M331.6 449.2v-12.1M332.8 445.3v-13.4M333.7 393.4v18.5M333.2 441.2v-20.1M334.1 397.9v6.3M334.0 441.1v-13.3M334.9 399.9v11.7M335.4 454.8v-11.3M335.7 399.1v23.4M336.0 454.7v-8.8M337.1 394.9v14.6M336.6 446.6v-8.8M337.8 395.1v15.6M338.3 392.2v21.8M338.3 449.2v-7.5M339.3 392.4v16.0M339.2 452.4v-5.1M340.2 399.9v13.4M340.3 463.7v-24.0M341.3 402.9v13.2M340.9 462.7v-13.7M341.6 398.9v13.7M341.8 441.2v-14.0M342.8 396.8v9.2M342.8 443.5v-14.5M343.8 396.5v20.5M344.3 397.6v20.1M344.7 437.3v-5.7M345.2 398.6v21.2M345.4 436.7v-16.2M346.3 399.5v8.2M347.1 393.6v17.3M347.9 387.9v8.0M348.8 388.6v19.2M349.0 441.6v-7.2M349.4 443.8v-16.7M350.6 396.9v12.4M350.5 434.4v-14.9M351.1 391.9v20.1M351.0 424.6v-8.9M352.1 391.2v10.4M352.2 440.6v-21.8M352.8 444.1v-17.7M353.7 414.1v19.1M353.8 448.9v-6.4M354.9 410.0v14.7M354.6 450.7v-13.5M355.8 408.0v15.0M355.5 451.5v-5.7M356.4 402.3v19.0M356.4 451.2v-15.0M357.0 400.3v15.1M357.4 443.0v-5.1M357.9 442.2v-13.9M359.1 380.0v18.5M358.7 441.8v-17.1M359.8 384.5v10.0M359.8 442.3v-17.3M360.8 389.6v15.4M360.4 444.6v-10.9M361.5 458.0v-8.6M362.2 397.7v6.9M362.2 452.9v-15.0M362.9 399.3v20.8M363.2 439.8v-23.1M363.7 401.0v22.1M364.2 428.2v-12.3M364.9 403.6v15.3M364.7 440.1v-6.5M366.0 448.1v-22.7M366.3 441.1v-5.7M367.1 395.8v20.4M367.7 440.1v-6.4M368.0 395.0v16.8M368.9 393.5v5.2M369.3 439.5v-6.0M369.8 443.8v-21.2M371.1 398.2v20.0M370.9 450.9v-13.9M371.6 412.9v23.3M371.6 468.4v-11.2M373.4 406.3v10.7M373.4 450.9v-6.3M374.4 453.0v-14.9M375.2 396.6v15.5M375.0 459.7v-12.3M376.1 400.0v16.9M376.0 456.5v-15.1M377.0 403.5v17.0M376.9 445.3v-11.7M377.7 401.1v13.6M378.8 398.2v9.3M378.3 434.5v-11.9M379.6 400.0v7.1M379.3 425.8v-21.5M380.4 403.6v9.5M380.9 440.9v-11.8M381.9 444.1v-14.5M382.6 416.5v21.7M382.5 449.3v-8.9M383.7 422.4v12.5M383.5 455.6v-21.5M384.4 421.5v18.5M384.3 457.8v-11.4M385.3 415.5v23.3M385.5 444.7v-8.9M385.9 415.5v16.3M387.1 410.0v5.7M386.7 437.9v-8.1M387.9 407.2v14.7M387.8 438.3v-15.4M388.5 441.2v-21.3M389.7 409.2v22.4M389.4 439.7v-14.2M390.5 412.2v19.7M390.5 455.0v-23.1M391.2 417.8v19.6M391.4 455.8v-16.0M392.0 445.0v-3.3" stroke="#173345" stroke-width="0.55" stroke-dasharray="1.1 0.9 0.6 1.3 1.7 0.8" opacity="0.22" fill="none"/>
<path d="M183.0 399.1v6.3M183.8 452.4v-3.1M185.5 452.3v-11.0M186.4 457.1v-1.7M187.2 393.6v7.5M188.1 392.0v3.8M188.9 441.3v-7.7M191.5 402.5v9.1M192.3 401.2v11.5M193.2 445.5v-2.0M194.9 440.5v-7.3M195.7 394.9v11.5M200.0 401.6v11.3M200.8 409.9v7.5M201.7 459.8v-6.4M203.4 398.9v3.9M204.2 397.1v10.3M205.1 424.1v-5.5M205.9 420.3v-11.7M206.8 384.4v2.4M210.2 435.0v-10.8M211.0 387.3v4.5M211.9 428.2v-7.6M212.7 424.8v-6.7M213.6 387.4v6.0M214.4 386.8v8.6M215.3 441.3v-2.9M216.1 388.5v1.7M217.0 455.7v-1.8M218.7 393.6v2.1M219.5 392.7v4.6M224.6 395.9v2.8M226.3 449.8v-9.3M228.9 441.3v-4.4M229.7 424.3v-9.5M230.6 441.3v-4.7M231.4 386.3v6.8M232.3 396.3v5.6M233.1 441.3v-7.6M234.8 403.4v3.7M236.5 467.0v-3.3M239.9 441.3v-1.6M240.8 394.9v6.3M241.6 421.1v-2.7M242.5 429.6v-11.7M243.3 391.7v10.7M245.0 429.6v-8.8M246.7 433.1v-4.1M249.3 431.6v-5.0M250.1 427.1v-8.2M251.0 382.8v7.3M252.7 467.9v-1.9M254.4 397.4v4.3M256.9 441.7v-11.1M257.8 387.4v5.9M258.6 429.6v-4.2M260.3 427.1v-10.9M261.2 425.8v-6.6M262.0 420.0v-6.4M262.9 384.3v5.6M263.7 386.3v12.0M264.6 444.5v-2.6M265.4 441.1v-2.9M266.3 435.3v-8.6M267.1 393.2v3.4M268.8 435.0v-4.3M269.7 434.9v-5.7M271.4 444.1v-10.3M272.2 430.7v-3.0M274.8 434.9v-10.9M275.6 388.0v11.2M276.5 388.5v7.3M278.2 438.9v-4.2M279.9 399.5v2.0M280.7 452.2v-10.2M281.6 448.5v-4.4M282.4 441.3v-11.5M283.3 390.6v8.2M284.1 457.4v-9.7M285.8 383.5v3.3M286.7 430.7v-4.2M287.5 428.7v-10.1M288.4 382.6v3.2M290.9 422.1v-1.7M292.6 395.5v10.0M294.3 425.3v-7.3M295.2 425.4v-11.8M296.0 425.7v-5.8M296.9 426.0v-6.0M297.7 426.6v-2.7M298.6 397.9v3.3M299.4 429.6v-10.6M300.3 391.3v11.1M301.1 452.3v-2.9M302.0 394.7v6.9M303.7 448.8v-5.8M305.4 443.4v-4.6M306.2 441.3v-5.8M307.1 400.2v6.8M307.9 392.6v1.7M308.8 433.9v-7.5M309.6 387.7v10.0M310.5 431.7v-11.0M311.3 434.5v-3.1M312.2 438.1v-12.0M313.0 395.5v5.9M313.9 394.4v2.0M314.7 390.8v2.1M315.6 437.0v-9.3M319.8 428.5v-6.6M320.7 428.9v-3.9M323.2 436.5v-8.6M324.9 391.7v6.0M325.8 447.7v-10.6M326.6 404.8v5.5M327.5 475.5v-4.6M328.3 482.3v-8.3M330.0 447.7v-4.7M330.9 397.6v2.2M331.7 449.3v-11.5M332.6 392.0v3.7M334.3 441.3v-7.2M335.1 398.9v7.9M336.0 456.2v-3.6M337.7 448.1v-3.4M338.5 449.8v-8.4M340.2 399.6v6.7M341.1 401.2v6.6M341.9 398.6v5.2M342.8 445.1v-10.3M343.6 395.6v11.0M344.5 437.7v-2.8M345.3 437.7v-4.8M346.2 397.7v11.4M347.0 392.0v10.9M347.9 437.0v-5.6M348.7 388.6v7.2M349.6 396.7v1.9M350.4 396.7v2.8M353.8 414.0v4.3M354.7 409.7v7.2M355.5 452.2v-6.5M356.4 452.2v-5.1M358.1 389.8v4.9M360.6 388.5v11.7M362.3 454.1v-10.1M364.0 399.8v4.4M364.9 403.3v7.0M365.7 404.8v8.7M366.6 441.3v-11.3M368.3 394.2v8.2M369.1 393.2v10.2M370.0 395.2v3.8M371.7 412.1v2.7M372.5 418.7v7.7M373.4 452.0v-7.5M375.1 395.5v6.1M375.9 399.6v1.6M377.6 438.2v-2.2M378.5 434.9v-11.8M379.3 398.4v6.1M380.2 427.5v-10.0M381.0 405.9v4.6M381.9 444.4v-3.7M383.6 455.9v-9.3M384.4 459.2v-5.6M385.3 414.3v10.1M386.1 445.6v-3.0M387.0 438.9v-11.1M388.7 441.3v-6.7M392.1 445.6v-1.9" stroke="#1f3a47" stroke-width="0.55" stroke-dasharray="0.7 0.7" opacity="0.6" fill="none"/>
<path d="M184.3 396.7v4.1M187.9 392.1v5.4M197.0 389.7v6.7M220.6 383.9v8.3M239.1 389.7v6.7M242.4 388.6v4.7M245.5 385.7v4.4M249.8 380.5v5.3M262.1 383.4v4.6M272.8 382.2v4.7M300.7 391.4v9.1M314.8 390.9v6.2M319.6 388.6v10.5M324.4 391.4v9.1M332.6 392.1v8.4M338.8 390.9v5.5M348.1 387.5v10.5M351.8 390.9v7.4M359.0 379.8v10.2M374.9 395.6v8.3M378.7 397.3v6.6M187.1 458.5v-8.4M192.4 448.7v-9.2M196.1 445.7v-8.4M202.6 465.5v-10.5M207.8 444.0v-10.2M216.7 455.6v-10.5M221.7 453.8v-10.5M227.5 464.3v-10.5M231.8 457.9v-10.5M237.9 472.4v-7.1M243.5 434.1v-6.1M248.2 436.9v-9.0M252.5 467.8v-10.5M255.9 450.8v-10.5M264.6 444.4v-10.5M271.2 444.0v-10.5M276.4 444.4v-7.1M280.9 452.1v-10.5M283.9 457.3v-10.5M293.0 439.8v-10.5M302.3 475.3v-10.5M307.9 449.2v-9.5M312.1 438.0v-7.9M317.0 453.8v-10.5M323.2 436.4v-4.2M328.2 482.2v-10.5M331.8 449.2v-9.5M335.6 456.1v-10.0M340.6 464.3v-10.5M343.3 445.7v-6.0M349.3 444.0v-8.5M361.7 458.5v-10.5M365.7 449.7v-10.0M372.1 468.4v-10.5M375.3 460.8v-10.4M384.2 459.1v-10.5M390.8 456.1v-10.5" stroke="#14232e" stroke-width="0.7" stroke-dasharray="0.8 0.7" opacity="0.7" fill="none"/>
<text x="212.5" y="522.8" font-size="5.2" text-anchor="middle">5000</text>
<text x="241.8" y="522.8" font-size="5.2" text-anchor="middle">10,000</text>
<text x="271.7" y="522.8" font-size="5.2" text-anchor="middle">15,000</text>
<text x="301.7" y="522.8" font-size="5.2" text-anchor="middle">20,000</text>
<text x="331.4" y="522.8" font-size="5.2" text-anchor="middle">25,000</text>
<text x="360.0" y="522.8" font-size="5.2" text-anchor="middle">30,000</text>
<text x="389.7" y="522.8" font-size="5.2" text-anchor="middle">35,000</text>
<text x="167.5" y="481.9" font-size="5.2" text-anchor="end">20</text>
<text x="167.5" y="454.4" font-size="5.2" text-anchor="end">40</text>
<text x="167.5" y="426.9" font-size="5.2" text-anchor="end">60</text>
<text x="167.5" y="399.4" font-size="5.2" text-anchor="end">80</text>
<text x="158.2" y="444.4" font-size="5.3" text-anchor="middle" transform="rotate(-90 158.2 444.4)">%</text>
<text x="287.2" y="530.1" font-size="5.94" text-anchor="middle">Item number (5min average)</text>
<text transform="translate(398.8 543.4000000000001) scale(1 1.08)" font-size="11.8" text-anchor="end">(e)</text>
<rect x="351.5" y="486.2" width="47.2" height="25.0" rx="1.2" fill="#EAEAF2" fill-opacity="0.8" stroke="#cfcfd6" stroke-width="0.6"/><circle cx="359.7" cy="490.9" r="0.75" fill="#4C72B0"/><circle cx="359.7" cy="498.7" r="0.75" fill="#111"/><line x1="353.2" x2="365.1" y1="505.9" y2="505.9" stroke="#64B5CD" stroke-width="0.9"/><text x="369.5" y="492.4" font-size="5.27">Train</text><text x="369.5" y="500.3" font-size="5.27">Test</text><text x="369.5" y="507.9" font-size="5.27">Predictions</text>
</svg>
</body></html>
